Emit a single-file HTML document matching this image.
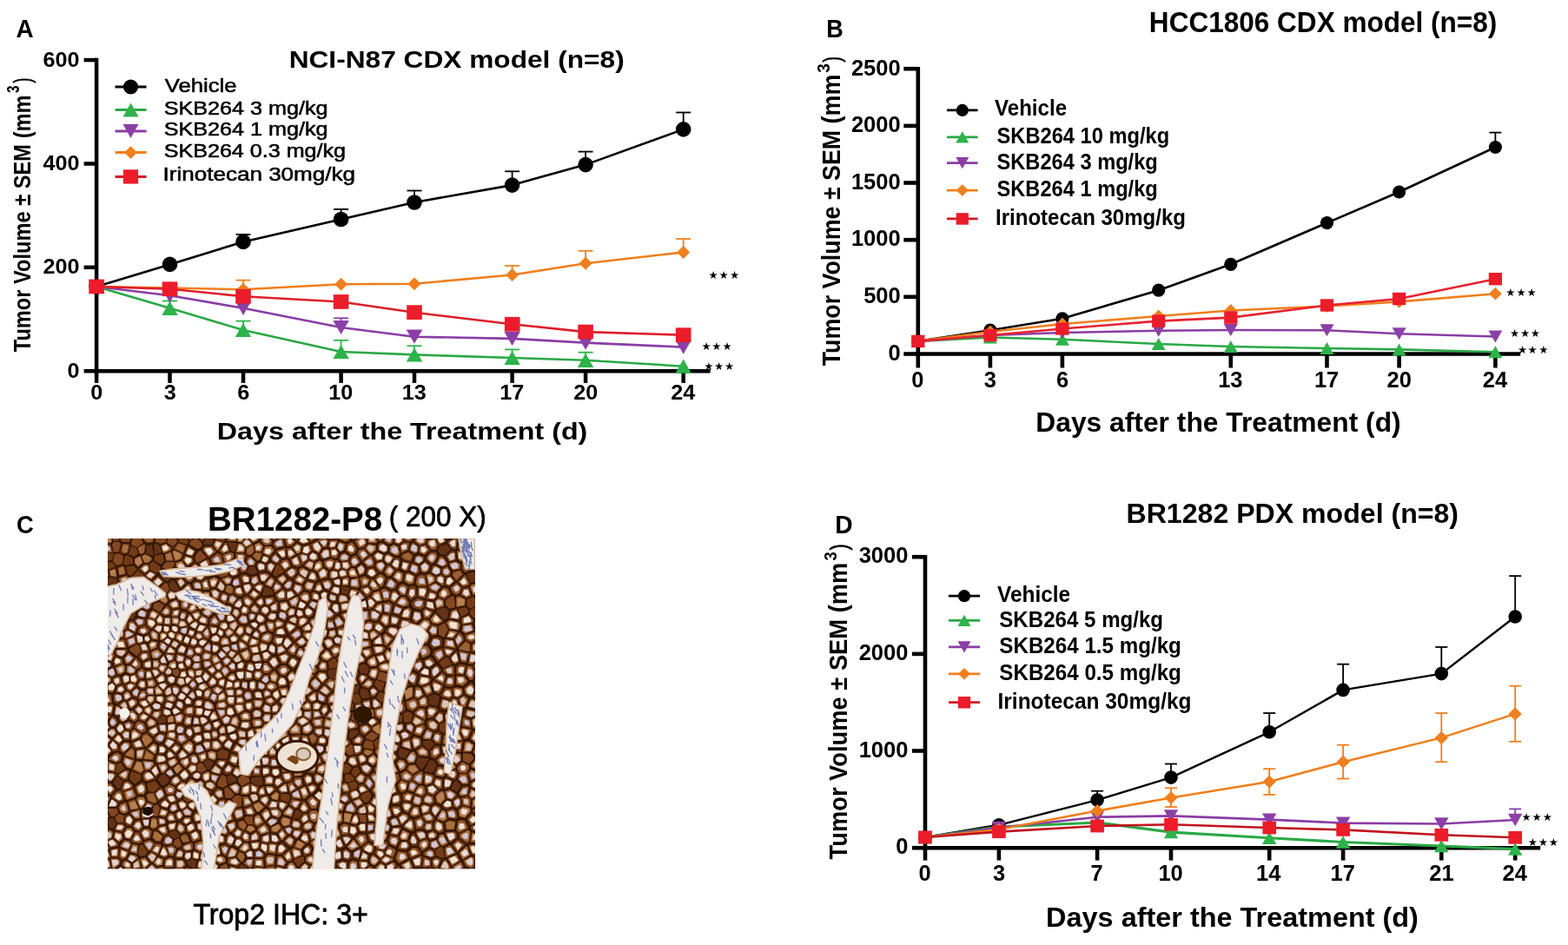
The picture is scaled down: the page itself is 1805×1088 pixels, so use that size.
<!DOCTYPE html>
<html><head><meta charset="utf-8"><title>Figure</title>
<style>html,body{margin:0;padding:0;background:#fff;width:1805px;height:1088px;overflow:hidden}svg{display:block}</style>
</head><body>
<svg width="1805" height="1088" viewBox="0 0 1805 1088">
<rect width="1805" height="1088" fill="#fff"/>
<defs><clipPath id="ihcclip"><rect x="124.0" y="620.0" width="423.0" height="380.5"/></clipPath><filter id="ihcblur" x="0" y="0" width="1" height="1"><feGaussianBlur stdDeviation="0.6"/></filter><radialGradient id="gdk"><stop offset="0" stop-color="#3a1806" stop-opacity=".75"/><stop offset="1" stop-color="#3a1806" stop-opacity="0"/></radialGradient><radialGradient id="glt"><stop offset="0" stop-color="#c89a70" stop-opacity=".7"/><stop offset="1" stop-color="#c89a70" stop-opacity="0"/></radialGradient></defs>
<g clip-path="url(#ihcclip)"><g filter="url(#ihcblur)">
<rect x="124.0" y="620.0" width="423.0" height="380.5" fill="#2e1204"/>
<circle cx="141" cy="636" r="32" fill="url(#gdk)"/>
<circle cx="514" cy="837" r="32" fill="url(#gdk)"/>
<circle cx="407" cy="955" r="25" fill="url(#gdk)"/>
<circle cx="281" cy="955" r="29" fill="url(#gdk)"/>
<path d="M172 811l-6 4l-6 -5l0 -3l8 -2zM376 618l1 -7l11 0l0 1l0 8l-9 1zM174 981l7 4l-5 8l-2 0l-5 -7l3 -4zM280 811l1 7l-7 4l-1 0l-4 -9l2 -2zM415 809l-6 2l-1 7l7 3l3 -1l1 -3zM488 833l-10 3l-4 -5l3 -7l12 6zM421 688l0 0l-7 -8l-6 11l4 2zM513 697l5 4l6 -2l-1 -12l-3 -1l-7 5zM259 796l0 -2l9 -1l2 1l0 7l-8 0zM269 612l0 0l-7 -7l-5 6l4 6zM137 622l1 -7l-4 -3l-6 4l3 7zM203 730l3 -1l5 3l-2 8l-1 0l-6 -5zM300 736l2 -5l6 -3l5 2l1 2l-2 6l-3 2l-8 -2zM470 988l-10 6l-1 0l-3 -4l-1 -2l3 -8l10 1zM170 791l-1 -8l8 -1l0 0l3 5l-1 2l-2 2zM215 755l-1 -1l3 -9l1 0l4 1l2 7l-4 4zM400 664l-6 2l0 8l7 0l1 -8zM426 638l-6 -7l4 -5l9 2l0 5l-5 5zM470 881l-2 5l7 6l8 -5l-5 -7zM123 931l1 0l11 0l1 5l-5 4l-3 0zM378 851l0 4l6 3l5 -2l1 -5l-7 -4zM218 853l1 0l4 4l-1 9l-4 2l-7 -7l-1 -3zM291 828l9 0l3 4l-2 4l-8 1l-2 -1l-1 -6zM155 732l-10 5l3 8l9 -4zM358 624l6 -4l0 0l-1 -6l-8 -4l-3 5zM175 939l-2 -4l5 -8l3 -1l3 4l-2 9l-2 1zM525 914l-7 -5l-6 2l2 8l6 2l6 -5zM243 864l6 2l0 7l-2 3l-7 -3l-1 -7zM270 915l-8 -9l-4 2l1 10l2 1l5 0zM358 626l2 7l7 4l4 -6l-6 -9l-6 4zM355 937l2 7l5 3l3 -2l3 -8l-4 -4l-6 0zM160 959l-4 -1l-5 9l2 3l7 1l3 -1l1 -3zM397 790l-7 9l-6 -3l0 0l4 -11zM309 953l1 5l-10 3l-4 -5l1 -3l8 -5l0 0zM557 622l-2 7l-9 -1l2 -11l5 -1zM166 781l1 -9l-4 -3l-4 3l-2 4l3 6zM229 959l-3 -3l-8 4l3 8l2 1l8 -3zM289 912l-1 -10l0 0l10 4l-3 7zM541 635l3 -4l1 -1l9 1l1 0l0 10l-3 3l-6 0l-4 -3zM288 913l-1 -11l-9 4l-1 8l2 1l6 0zM129 786l4 4l-2 6l-2 2l-6 -2l0 -6zM176 848l-6 -5l1 -3l10 -5l2 8zM311 647l6 3l-5 10l-5 -3l0 -7zM316 997l0 0l1 8l-5 3l-6 -5l0 -4l0 -1zM525 982l-6 -9l-2 0l-5 3l1 11l1 0zM330 816l-1 -1l-5 -1l-4 7l6 6l2 -1zM218 622l-4 -8l2 -2l10 0l-1 6zM301 752l0 0l7 -2l5 5l-6 6l-3 0l-1 -1zM404 667l9 -2l1 10l-1 2l-9 -1l-1 -2zM84 857l-74 -12l105 -3l4 3l-2 7zM298 923l7 6l-7 6l-2 0l-5 -8l1 -2zM276 749l-2 -9l2 -3l8 5l1 3l0 1zM361 976l6 0l2 -8l-3 -3l-8 3l-1 3zM419 630l-6 1l-5 -8l6 -4l7 1l1 5zM240 952l7 -4l-1 -7l-1 -1l-8 1l-1 4l3 6zM125 699l-2 4l-5 1l-3 -5l2 -8l8 3zM528 726l-11 -2l-4 -8l1 0l3 -2l11 2l2 3l-2 7zM238 886l-5 -7l-3 -1l-3 3l0 6l5 3zM505 731l6 3l0 0l5 -9l-4 -8l-7 4zM287 901l0 -5l-7 -4l-6 4l0 4l4 5l8 -4zM474 863l-2 -12l-8 2l-2 4l0 2l10 4zM190 671l-6 6l-1 3l3 3l5 0l4 -4l-2 -7zM448 892l0 7l3 3l5 0l4 -5l-1 -6zM372 879l5 2l0 1l-6 9l-6 -2l1 -7zM294 936l-3 3l-8 -1l-2 -7l9 -3zM156 790l-6 6l-4 -2l-2 -5l6 -3l6 2zM508 662l4 3l-1 9l-2 0l-7 -5l0 -5zM176 955l-3 -2l1 -10l1 -2l5 1l2 9l-3 3zM357 996l-2 8l2 3l1 0l8 -6l-5 -5zM197 822l-1 -4l-8 -3l-1 3l0 4l5 3zM249 815l10 1l3 -4l-3 -5l-8 1l-2 3zM320 793l3 9l-4 5l-6 -6l1 -4zM541 929l1 -8l-4 -4l-7 2l2 8zM402 702l1 -9l0 0l-11 2l1 9zM554 982l-3 -10l5 -5l22 4l-23 11zM184 705l5 -8l-6 -4l-6 2l-1 5zM441 934l8 -4l2 9l-3 3l-7 -4zM264 742l1 -1l-3 -6l-3 -2l-4 2l-2 6l2 2zM132 715l2 2l1 6l-4 5l-6 -1l-3 -6zM174 824l3 -5l8 -1l1 4l-5 7zM173 979l5 -8l-5 -4l-7 2l-1 2l6 9zM310 959l0 0l1 10l-3 2l-7 -2l-1 -1l1 -5zM488 902l2 2l7 -2l3 -7l-2 -3l-9 -2zM416 736l-1 -10l1 -1l8 3l1 8zM160 743l-3 -1l-8 5l0 0l0 2l8 6l1 0l4 -5zM527 670l8 -8l1 0l5 10l-2 2l-6 2zM136 971l0 3l-9 2l-4 -8l7 -2zM440 1015l4 -9l0 0l6 1l2 4l-8 22zM520 1004l8 3l2 4l-14 29l-2 -13l5 -22zM195 932l2 -6l6 -1l2 7l-5 3l-4 -1zM364 794l-2 0l-5 -6l1 -3l5 -5l7 8l-5 6zM425 674l5 6l6 -2l1 -1l-7 -10l-3 0zM304 857l5 3l5 -2l3 -6l-3 -4l-2 -1l-4 1zM535 659l1 0l7 -3l2 -10l-5 -3l-8 6l0 6zM150 682l-2 8l-7 0l-1 -1l-1 -7l4 -4zM214 801l-6 -4l-4 5l1 3l6 1l3 -4zM127 627l-8 0l0 1l3 8l8 0zM417 646l-6 -8l2 -5l6 -1l6 7zM193 834l0 0l0 8l8 -1l2 -7l-2 -1zM371 1003l2 4l-8 8l-6 -7l8 -6zM175 850l-6 -6l-5 2l-1 4l4 10l1 0l8 -7zM375 952l7 -9l7 7l0 2l-9 5l-4 -3zM319 771l5 -5l5 0l5 5l-6 7l-5 -1zM500 1008l1 -5l-4 -4l-9 2l1 10l0 0zM158 630l7 -5l-3 -6l-4 -2l-5 3l-2 5l1 3zM320 868l-6 -8l-4 1l-1 8l3 2l6 -1zM238 952l-8 5l-3 -2l-1 -7l8 -2zM118 719l3 0l10 -5l0 -1l-7 -8l-6 1l0 1l0 12zM467 808l0 0l2 8l6 3l7 -6l-2 -7l-4 -2zM456 979l-1 -1l-7 -4l-5 6l1 4l9 3zM204 781l-1 6l5 3l5 -2l-1 -6l-6 -2zM213 756l-1 -1l-8 -2l-1 1l-1 6l3 3l6 -1zM248 926l-3 1l-5 -2l-2 -2l0 -3l7 -5l6 6zM442 705l-1 -11l1 0l6 -1l4 3l-2 10l-1 1zM391 824l-4 6l0 5l5 2l5 -1l2 -6l-8 -6zM172 725l-1 3l-6 3l-7 -3l2 -5l7 -3zM317 787l2 4l0 1l-6 3l-6 -3l0 -4l4 -3zM205 846l-2 6l1 2l5 3l8 -5l-5 -7zM275 736l-3 3l-6 1l-2 -6l6 -4l5 4zM238 642l-7 -8l-3 1l-4 7l1 4l3 2zM244 648l11 2l2 -2l-2 -9l-4 -2l-1 0l-8 6zM379 656l3 -2l3 -9l-4 -2l-8 3l1 6zM347 893l4 -4l-1 -3l-9 -5l-3 2l-1 5l2 6zM264 995l-2 -2l1 -4l8 -2l6 7l-4 3zM345 1003l-2 22l12 -17l-2 -3zM434 782l10 3l4 -2l0 -7l-11 -3zM122 873l-7 -8l-22 -2l21 14l8 -3zM247 708l6 8l-2 4l-10 -1l1 -6zM542 881l5 -7l4 0l4 4l-2 9l-10 -3zM442 659l4 5l4 -1l5 -6l-6 -6l-3 0zM418 822l-2 1l-3 9l1 2l7 -2l2 -5zM212 886l2 0l4 6l0 2l-5 5l-3 -1l-4 -6zM509 932l-6 10l0 1l8 3l4 -3l-2 -9zM122 798l6 2l1 9l-8 2l-4 -4l0 -7zM304 997l0 1l-11 -1l0 -8l10 0zM122 777l-1 -4l-5 -3l-7 7l7 5l0 1zM529 686l7 4l-1 7l-8 2l-2 0l0 -12zM437 892l8 -3l-1 -3l-8 -6l-5 4l0 4zM324 881l-1 2l2 6l10 -2l1 -5l-5 -3zM321 942l3 -4l0 -3l-5 -4l-8 1l2 7zM433 646l-4 -6l5 -5l8 4l-2 6zM249 816l10 1l1 6l-6 4l-1 0l-4 -10zM460 765l4 -10l-5 -4l-4 1l-3 11l2 4l3 0zM427 746l-11 2l-1 2l7 8l7 -5zM391 953l3 8l7 -1l1 -10l-6 -2l-4 3zM278 964l3 4l5 1l1 -1l0 -7l-5 -4l-1 1zM531 715l1 -4l8 -3l5 6l-1 3l-12 2zM190 990l-1 6l2 3l9 -1l0 -8l-1 -2l-4 -1zM331 900l-3 0l-4 -7l1 -3l10 -1l2 5l-2 5zM426 924l4 -7l6 1l2 4l-3 7l-2 0zM397 934l2 -7l5 -4l6 8l-1 4l-3 1zM395 933l2 -7l-8 -5l-3 4l3 8l5 1zM141 624l8 0l2 -5l-7 -5l-5 1l0 7zM390 612l11 -1l2 11l-5 2l-7 -3l-1 -1zM471 734l-7 -7l11 -8l3 2l2 5l0 2zM431 715l4 -1l3 -7l-9 -5l-3 1l0 10zM216 670l-6 -7l0 -2l6 -5l7 6l0 5l-3 3zM502 875l3 5l6 1l6 -6l-1 -3l-7 -3zM548 725l-2 -7l1 -4l3 -1l7 3l0 6l-7 4zM358 728l-9 0l0 4l6 6l5 -5zM290 753l9 -2l0 0l-2 -8l-10 2l0 2zM329 642l-4 1l-7 -8l0 -1l10 -3l1 0zM479 864l7 -5l7 6l0 6l-11 -1zM220 770l-4 1l0 0l1 7l5 3l1 0l1 -2l0 -7zM203 619l1 5l-5 6l-7 -6l2 -5zM540 562l13 50l-1 2l-5 1l-4 -3l-5 -19zM358 931l-5 -10l5 -4l2 0l7 6l-3 8zM315 622l-6 -9l4 -2l10 3l1 3zM278 869l5 2l10 -4l0 -3l-8 -4l-4 2zM276 979l-1 -1l6 -8l5 1l2 6l-7 4zM311 640l4 -5l1 -2l-4 -4l-7 0l-3 7l1 1zM380 748l4 8l2 0l8 -7l0 0l-3 -5l-6 -1zM203 846l-1 6l-10 -3l0 -4l1 -2l8 -1zM440 659l4 -8l-4 -5l-7 2l-1 4l4 6zM401 719l7 6l-6 7l-2 0l-3 -10l2 -3zM159 830l-3 3l-1 5l8 6l5 -2l0 -3l-2 -6zM543 929l1 1l11 -3l0 -8l-2 -2l-9 4zM476 893l8 -5l2 0l1 2l-1 12l-4 1l-7 -5zM189 962l-8 -7l2 -3l8 -1l2 6l0 2zM328 865l0 -5l7 -4l4 3l-3 7l-4 1zM426 983l-8 -4l-1 -4l7 -5l6 3l1 4l-2 5zM504 628l-2 5l-6 0l-5 -7l1 -4l9 -2zM426 997l-7 5l1 4l6 3l3 -1l2 -6l-1 -3zM421 852l-3 6l1 3l11 2l0 -1l-1 -8zM484 929l2 8l8 -3l1 -6l-8 -2zM334 844l-2 -3l9 -8l5 4l0 7l0 1l-11 0zM407 870l-5 2l-2 6l6 4l6 -1l0 -1l-2 -9zM517 1004l-5 23l-9 -18l1 -6l1 -1zM334 644l3 7l6 2l4 -2l0 -1l-4 -10l-1 0zM216 720l0 0l-3 -5l-5 -1l-3 6l2 2zM407 868l-1 -10l-2 -1l-8 5l1 3l5 5zM354 694l3 -4l-1 -7l-6 -2l-6 5l2 4zM190 753l0 0l11 1l-1 6l-6 2zM427 770l7 -1l2 4l-3 8l-2 1l-6 -3l-1 -3zM249 948l3 2l6 -2l1 -1l-3 -9l-8 3zM445 744l8 -9l-9 -6l-3 2l1 11zM429 745l1 -1l11 0l3 2l0 0l-3 5l-9 2l-1 0zM261 783l-2 9l0 1l9 -1l0 -6zM305 1004l-5 6l11 21l0 -22zM348 674l1 5l-6 6l-1 -1l-5 -6l2 -6zM547 774l-3 9l0 0l-3 0l-5 -6l2 -11l5 1zM347 836l-5 -4l0 -3l7 -4l7 5l0 1zM228 792l6 3l6 -4l-3 -4l-2 -1l-6 3zM176 875l-11 -1l3 -11l10 7zM146 746l0 0l-2 -9l-2 -1l-7 1l-3 4l1 5zM217 686l3 -1l7 6l-2 4l-6 0l-3 -5zM163 877l-6 -1l-5 10l10 5l4 -4zM418 716l-6 -7l5 -6l6 0l1 0l1 10zM525 984l-10 4l5 9l10 -6l-4 -7zM155 918l-8 3l-2 0l-3 -9l11 -4l4 8zM121 929l1 0l1 0l4 -11l0 -1l-3 -1l-6 3l-1 6zM122 812l-3 7l1 1l7 3l2 -1l2 -10l-2 -2zM327 617l-1 -1l-1 -3l4 -13l8 11l-3 4zM256 892l4 2l2 10l-1 0l-4 3l-6 -2l-1 -3l4 -8zM314 823l5 -1l6 6l-1 4l-10 1l-1 -1zM300 623l1 -5l5 -4l2 0l5 9l-1 4l-7 1zM344 639l4 11l7 -6l-1 -5l-7 -2zM181 924l-4 1l-7 -3l-2 -6l3 -3l6 0l4 10zM352 666l4 -8l-8 -5l-4 2l0 5zM519 816l-1 2l5 7l8 0l1 -1l1 -7l-4 -3zM478 914l-1 -1l5 -8l4 -1l3 2l1 7l-4 4zM330 993l-3 5l-9 -2l0 0l1 -10l5 0zM265 773l-4 -5l-3 -1l-4 5l4 7l2 0zM402 914l2 -3l6 -2l4 6l-1 3l-8 2zM222 977l-2 2l-7 1l-4 -4l2 -3l9 -3l2 1zM374 998l11 -4l0 -1l-4 -6l-9 2zM551 754l0 6l-8 5l-4 -1l0 0l2 -12l1 0zM224 782l1 -2l7 -1l2 6l-6 2zM236 970l0 1l-3 9l-3 1l-6 -4l0 -6l7 -3zM404 702l1 -8l2 -1l5 2l4 7l-6 6l-2 0zM208 660l0 2l-7 4l-3 0l-2 -8l5 -5zM271 774l2 -1l8 -1l0 9l-3 2l-4 -2zM491 726l-8 -1l-2 -5l7 -7l6 1l2 5zM155 920l5 11l-10 2l-3 -10zM124 876l0 11l8 2l1 -9zM362 710l2 -4l8 1l3 6l-8 2zM236 923l-9 2l-4 -4l1 -3l6 -3l6 5zM278 917l0 11l-7 2l-4 -10l4 -4l5 0zM269 637l-4 -1l-9 3l3 9l3 1l7 -7zM341 699l-6 -1l-3 -6l10 -5l1 0l1 4zM319 872l-7 1l-2 8l3 2l8 -1l1 -2zM429 724l1 -7l-5 -2l-6 3l-2 6l8 3zM539 903l1 -3l-3 -9l-8 0l-2 6l5 6zM342 968l-4 7l8 3l6 -6l-8 -5zM185 775l-4 -5l-5 0l-2 1l4 9l0 0zM245 983l1 -9l3 -1l3 1l2 9l-6 2zM527 632l2 -12l4 1l8 9l-2 4zM270 965l-3 8l-2 1l-5 -3l1 -8l3 -3l2 1zM343 813l-5 3l-6 -2l-1 -1l3 -9l6 1zM387 783l-8 -2l-5 6l9 8l4 -11zM187 728l5 2l0 3l-5 4l-3 0l0 0l0 -7zM388 724l0 0l7 -2l4 11l-4 1l-6 -3zM282 1010l6 -8l1 0l5 7l-13 14zM536 997l7 3l3 -3l0 -10l-4 -1l-9 5zM172 941l-9 1l0 -9l1 -1l8 3l1 5zM317 983l-8 -1l0 -10l3 -1l7 1zM470 740l-9 3l-1 7l5 3l4 0l5 -8zM287 794l0 -9l5 -2l3 2l0 8l-4 3zM354 807l-7 7l3 3l8 0l0 0l0 -7zM271 611l0 0l10 -15l1 17l-9 1zM262 653l1 9l-9 3l-2 -2l4 -11l2 -2l3 1zM259 622l-1 1l-10 -2l-2 -5l5 -4l4 0l4 6zM304 947l-6 -9l-2 0l-3 2l-1 9l4 3zM348 733l-8 6l4 5l4 0l6 -4l0 -1zM202 789l-4 1l1 9l4 2l4 -5l0 -4zM347 636l2 -7l8 -2l2 7l-5 4zM118 1008l7 2l4 -3l0 -5l-1 -1l-12 -2l0 0zM374 827l11 3l0 5l-3 3l-9 -1l0 -1l1 -9zM161 849l2 -4l-9 -5l-3 2l0 10l1 1zM239 722l0 0l3 9l-2 5l-5 -2l-2 -6zM421 848l7 -6l8 5l-7 6l-8 -3zM436 901l-4 1l-6 -9l4 -4l7 4l0 7zM526 634l1 0l11 2l1 5l-8 6l-4 -3zM481 676l10 0l1 4l-3 9l-8 -2zM431 817l8 -3l3 3l0 5l-5 6l-5 -3zM166 665l-4 6l5 5l2 0l5 -6l0 -1zM408 868l-1 -10l9 0l1 3l-1 5l-6 3zM549 775l-3 9l19 -2l2 -1l-11 -7zM285 917l-6 0l1 11l1 1l8 -2l1 -2zM475 893l-8 -6l-5 3l-1 1l1 6l8 3l4 -2zM430 652l-7 1l-5 -6l0 0l8 -7l2 1l3 6zM412 610l-9 0l-1 0l3 11l2 1l6 -5zM200 914l2 -5l-1 -3l-6 -3l-6 4l3 8zM539 785l-6 5l-8 -2l0 -10l0 0l9 0zM291 807l1 -2l11 1l0 3l-3 6l-7 0zM320 694l0 8l-1 2l-7 0l-2 -6l8 -6zM545 656l2 -9l6 -1l5 10l-5 5zM401 831l-2 5l3 4l9 -2l1 -3l-1 -2l-7 -4zM262 1004l-5 3l-5 -4l2 -6l6 -3l2 2zM372 827l-1 9l-9 1l-3 -6l0 0l1 -3l11 -1zM373 1002l2 4l1 1l7 -1l3 -8l-1 -3l-11 4zM371 759l6 2l6 -4l-5 -8l-3 -1l-6 7zM228 869l3 8l2 0l5 -4l-1 -7l0 0zM527 882l5 -5l8 4l0 4l-3 5l-8 0l-3 -5zM319 743l5 -1l3 -8l-11 -2l-2 7zM471 625l-1 8l-8 4l-2 -9l6 -4zM191 803l7 -3l4 2l1 3l-3 4l-9 -3zM123 749l7 0l1 -3l-1 -5l-10 -3l-2 5zM192 614l2 3l9 1l2 -5l-2 -4l-9 1zM203 683l-7 -3l-4 4l3 7l7 -2zM431 903l-5 6l0 0l-7 -7l4 -8l1 0zM253 893l-5 9l-5 -4l0 -7zM254 760l-5 -6l-4 0l-2 5l3 6l0 0l8 -4zM293 868l1 2l-4 11l-5 -1l-1 -8zM443 858l2 1l6 -5l-2 -8l-9 1l-1 1zM316 723l-1 -7l-7 -1l-2 3l3 8l5 2zM333 787l10 -5l2 10l-11 0l-1 -2zM269 613l-7 6l-1 3l1 1l10 0l0 -8zM369 870l4 7l4 2l2 -2l1 -8l-6 -3zM347 920l-3 -11l-1 0l-8 5l1 5l11 1zM380 681l4 -6l7 1l0 7l-2 2l-9 -4zM501 671l7 4l-5 7l-8 -3l-2 -3l0 -1zM118 629l-13 8l13 3l2 -4zM235 901l0 5l-4 3l-5 -4l1 -5l4 -2zM335 754l4 0l4 -9l-4 -5l0 0l-8 8l0 2zM404 828l8 4l2 -10l-7 -2l-1 0zM551 840l5 9l36 -12l-35 -2zM431 1008l8 6l4 -9l-10 -2zM173 811l-4 -6l1 -4l7 0l1 1l0 5l-5 4zM444 721l-7 -6l3 -7l1 -1l7 1l0 11zM301 771l3 -8l3 0l7 8l-5 4l-5 0zM133 909l-5 6l-3 -1l-5 -9l5 -3l3 0zM415 647l0 0l-5 -8l-5 2l-2 5l2 6l4 0zM244 853l0 9l5 2l6 -3l0 -4l-5 -5l-5 1zM201 824l9 -3l2 3l-3 8l-5 1l-2 -2zM175 957l-4 -3l-5 0l-5 4l5 9l7 -2zM291 627l0 0l-7 4l-1 5l2 3l4 0l4 -4zM423 689l0 0l3 -2l7 7l-4 6l-4 1l-1 0zM266 759l-5 -3l-5 4l0 1l2 5l4 0l4 -5zM213 901l3 7l-1 2l-2 2l-9 -3l-1 -3l6 -6zM175 723l-2 1l-4 -5l0 -6l1 -1l8 2l2 4zM196 634l2 -2l0 -1l-7 -5l-6 2l2 8l2 1zM317 986l-1 10l-10 1l-1 -8l2 -4l2 -1l8 1zM143 727l-1 7l-7 1l-2 -6l3 -5zM489 816l-6 -1l-6 5l1 3l11 6l1 -2zM352 987l6 -3l5 5l-2 5l-4 1l-5 -3zM153 818l-3 0l-2 2l1 8l6 3l3 -2l1 -5zM139 626l-2 9l-5 1l-1 0l-2 -9l2 -3l6 0zM512 690l7 -6l-3 -6l-5 -2l-1 1l-5 6l0 4zM384 655l5 2l4 -3l-1 -6l-4 -3l-2 0zM150 936l0 -1l10 -3l1 1l0 9l0 0l-5 1zM215 654l-6 5l-7 -7l0 -4l7 -2l6 7zM480 745l-5 -1l-3 -5l0 -3l9 -7l5 12zM445 969l2 4l-5 6l-9 -2l0 -5l3 -2zM330 644l-5 1l-3 5l6 7l7 -5l-3 -7zM347 615l-5 -5l9 -17l2 16l-3 5zM344 712l6 -2l5 3l-1 3l-8 6l-2 -1l-1 -1zM151 693l10 0l0 7l-4 3l-5 -3zM491 906l7 -3l7 7l-6 6l-7 -3zM540 752l-3 11l-6 -1l-3 -13zM186 974l-4 10l0 0l-8 -4l5 -9l6 1zM293 781l-1 -6l2 -3l6 0l3 4l-4 6l-3 1zM156 787l-6 -3l0 -6l6 -2l3 7zM511 974l5 -3l-6 -11l-4 1l-2 5l4 8zM319 930l1 -7l-8 -1l-4 7l3 2zM281 729l0 -8l-5 -1l-5 7l0 2l5 4zM176 995l4 4l-2 8l-1 0l-9 -2l-1 -3l7 -7zM460 686l-5 -6l-4 1l-2 10l4 3l1 0zM241 642l8 -7l-5 -6l-9 0l-2 4l6 8zM306 983l-7 -6l2 -7l7 2l0 10zM146 953l-4 6l2 6l6 1l4 -8l-3 -5zM374 826l11 3l4 -6l-9 -4zM330 902l-2 0l-8 6l0 1l3 4l8 -1zM235 751l7 1l2 2l-2 5l-9 1l-1 -5zM230 717l-2 -3l4 -6l8 4l-1 7l0 0l-1 0zM230 719l-4 6l1 2l5 1l6 -7zM204 752l0 -4l4 -6l1 0l6 3l-3 8zM157 985l-7 -2l-4 6l6 4l7 -5l1 0zM117 721l-5 8l7 6l5 -7l-4 -6zM232 656l-3 -7l9 -5l2 0l2 5l-1 2l-7 5zM183 616l-4 4l0 4l6 2l6 -2l1 -6l-2 -3zM132 638l-2 8l4 5l7 -2l1 -9l-5 -3zM423 583l-4 21l6 10l6 -1l1 -2zM372 630l4 0l2 -8l-3 -3l-9 2l0 1zM194 733l-1 -4l3 -2l6 3l-1 5l-3 1zM461 767l12 1l1 4l-8 7l-7 -11zM412 999l-6 5l-5 -1l1 -10l4 -3l5 2zM440 939l7 5l-1 2l-6 3l-6 -3l1 -3zM534 737l-7 8l-4 -9l6 -8l0 0l4 4zM227 632l3 -1l3 -3l-1 -3l-6 -6l-7 4l-1 4zM428 737l9 -7l-7 -5l-5 3l1 8zM239 996l-7 6l-5 -3l1 -7l2 -2l6 2zM366 960l0 4l-8 3l-3 -8l5 -3zM282 772l0 10l4 1l5 -2l0 -6l-9 -3zM186 726l1 -6l0 0l-6 -1l-5 5l7 5zM183 707l-5 6l-7 -2l1 -6l4 -3l7 4zM226 870l3 7l-3 3l-6 -1l-2 -8l1 -1l4 -2zM545 802l5 3l7 -3l-2 -7l-6 -1zM300 783l6 4l4 -3l-1 -7l-5 0zM420 663l6 4l-3 7l-7 1l-2 -10l0 0zM199 972l5 4l4 -1l1 -3l-3 -7l-5 2zM246 778l4 -5l3 0l4 6l-6 3zM350 819l-1 5l8 5l2 -2l0 -9zM201 648l-1 -1l-9 0l-4 5l0 2l8 2l5 -4zM371 825l-11 2l0 -9l0 0l7 0zM542 952l12 -6l4 4l-6 8l-8 -2l-2 -2zM125 858l5 7l6 -1l0 -6l-6 -6zM202 646l-1 0l-3 -11l2 -2l10 5l1 1l-3 5zM471 624l4 -2l2 -7l-1 -3l-10 -1l-3 5l3 6zM480 747l3 11l-7 3l-6 -7l5 -8zM367 610l-2 3l1 7l9 -2l1 -7l0 0zM161 851l-9 4l1 4l3 3l10 -2zM343 930l4 -8l-11 -2l-3 5l1 2l5 4zM232 729l2 5l-6 3l-4 -4l3 -5zM425 996l-7 5l-4 -2l-1 -7l1 -1l9 1zM239 786l5 -7l1 0l5 4l-1 5l-5 3l-3 -1zM400 871l-5 -4l-5 3l0 6l4 3l4 -2zM340 803l-6 -1l0 -1l0 -8l11 1l0 0l1 4zM377 809l1 -7l5 -4l6 2l0 1l-2 8l-9 1zM542 868l4 5l-6 6l-7 -3l0 -8l0 -1zM239 888l1 0l2 2l-1 8l-5 2l-3 -3l0 -6zM182 922l-4 -9l7 -6l2 1l3 7l-1 3zM299 922l7 6l1 0l3 -7l-1 -4l-2 -1l-7 2zM446 745l8 5l4 -1l2 -7l-5 -6l-1 0l-8 9zM146 724l1 -7l-11 0l0 6l7 3zM509 655l6 -3l4 6l-1 4l-5 2l-4 -4zM178 879l-6 7l-5 1l-3 -11l1 0l11 1zM272 964l5 0l3 -7l-7 -4l-5 6zM254 828l3 5l3 1l4 -1l2 -7l-6 -2zM493 975l1 -6l-3 -3l-8 3l-1 5l4 6zM519 844l3 9l11 -1l-6 -11l-6 0zM376 967l4 -6l7 5l-3 5l-5 1zM353 806l-7 7l-2 -1l-3 -8l6 -4l5 3zM289 914l6 0l3 4l-1 3l-6 3l-4 -8zM386 725l-7 1l-1 7l5 2l4 -4zM289 734l9 3l1 1l-2 4l-10 2l-1 -3zM239 953l3 6l-6 8l-4 -1l-1 -8l8 -5zM245 777l4 -5l-4 -6l0 0l-7 5l6 6zM329 750l0 -2l-4 -5l-6 1l0 9l0 1zM215 991l5 -3l0 -7l-7 0l-1 7zM349 920l-4 -11l5 -4l2 1l4 9l-5 5zM271 636l3 -10l4 0l4 5l-1 5zM143 939l-6 -2l-5 4l3 6l7 0zM291 949l0 -9l-8 0l-2 3l4 6zM128 785l-6 4l-5 -6l6 -5l5 3zM203 779l-4 -3l0 -5l5 -1l3 3l-2 5zM260 732l3 1l6 -4l0 -2l-6 -4l-4 4zM226 887l-6 4l-5 -6l5 -5l6 1zM198 973l5 4l-4 9l-4 -1l-3 -10zM275 839l8 3l0 7l-8 1l-2 -8l2 -3zM400 663l-1 -6l-5 -2l-4 3l1 6l2 1zM240 679l-6 0l0 0l-2 -9l5 -3l2 0l3 11zM272 763l-4 -3l0 -1l6 -6l1 -1l4 8zM422 926l2 10l5 0l3 -6l-7 -5zM428 816l2 1l1 8l-7 1l-5 -5l2 -3zM119 821l-4 7l3 4l5 -1l4 -7zM282 807l-3 -5l-7 0l0 8l8 0zM503 731l1 -10l-7 -2l-4 7l4 6zM182 880l4 10l3 0l5 -7l-3 -4zM273 615l9 0l1 1l0 2l-5 6l-4 0l-1 -1zM474 899l-3 2l-1 9l6 2l5 -8zM348 779l8 5l5 -5l1 -2l-8 -4zM277 870l5 3l2 7l-6 4l-4 -3l2 -10zM277 702l3 -5l6 3l1 4l-3 3l-6 0zM345 944l3 4l8 -4l-2 -7l-5 0zM421 947l-6 -1l-2 -8l8 0l1 8zM256 1008l-5 -4l-5 1l-1 2l4 8l7 -6zM244 984l3 3l0 5l-7 3l0 0l-2 -4l2 -6zM147 725l8 4l-1 2l-9 5l-2 -1l1 -8zM325 934l6 -7l0 -2l-9 -3l-1 1l0 7zM367 870l-9 4l0 2l7 5l6 -3l-3 -8zM218 909l-1 2l6 5l7 -3l0 -3l-5 -4zM451 880l-5 6l1 3l1 1l11 -1l0 0l-5 -10zM375 968l-5 0l-2 8l1 2l7 -1l2 -5zM500 619l-8 1l-2 -4l5 -9l7 9zM331 902l2 10l1 1l8 -5l-6 -8zM296 848l9 -2l1 1l-3 10l-4 1l-4 -9zM179 800l-1 -8l3 -2l6 6l0 3l-8 1zM394 654l-1 -7l8 -1l3 6l-4 4zM153 1000l0 -6l7 -5l2 10l-9 1z" fill="#834620"/>
<path d="M145 661l-1 -8l-3 -2l-6 2l0 0l2 10zM417 717l-7 -7l-2 0l-6 7l7 7l5 0l1 -1zM169 923l8 3l-5 8l-7 -3zM554 682l9 7l-10 8l-1 -1l-5 -9zM270 854l1 0l3 -4l-2 -7l-9 3l0 4zM220 939l2 -4l-7 -5l-5 3l3 6zM326 721l-8 2l-2 -7l4 -3l7 4zM304 671l7 -9l0 0l-5 -3l-8 1l0 1l2 8zM125 692l-8 -3l-1 -1l3 -5l7 -1l2 7zM525 886l-10 2l-1 6l8 4l3 -1l2 -6zM487 851l-1 -2l5 -10l8 4l-3 8zM155 672l-2 8l-2 1l-7 -4l0 -3l7 -6zM442 692l-4 -12l1 -1l3 -2l8 4l-2 10zM473 691l7 -4l-1 -11l-2 -2l-6 1l-3 11zM156 615l-4 3l-7 -5l9 -25zM334 951l-7 2l-1 1l5 7l4 0l2 -6zM448 627l-7 -4l4 -8l5 0l3 2l-1 8zM133 768l3 8l3 1l5 -3l0 -8l-2 -1zM452 833l-1 -7l-8 -2l-5 5l0 2l1 1l12 3zM177 855l-8 6l0 1l9 7l2 -2l1 -9zM468 979l4 -5l-3 -6l-8 1l-3 8l0 1zM140 959l-8 -2l-1 8l6 5l5 -4zM381 700l6 7l3 -1l1 -2l-1 -8l-2 -2l-5 1zM366 869l-9 4l0 0l-2 -11l4 -3l2 0zM274 662l2 -2l-2 -5l-10 -3l0 10l4 2zM254 762l-8 4l4 6l3 0l4 -6zM547 985l6 -3l-4 -10l-8 0l-2 1l4 11zM433 931l3 0l4 3l0 4l-6 4l-4 -6zM449 719l9 1l3 -8l-2 -2l-8 -2l-1 1zM173 770l2 -1l-1 -9l-1 -1l-9 4l0 5l4 2zM331 716l-2 1l-1 4l4 9l10 -8l-1 -2zM275 914l1 -8l-4 -4l-8 3l0 0l7 9zM237 939l-2 -3l4 -9l5 2l0 9zM472 865l-11 -4l-3 6l2 5l6 1zM279 672l8 -1l1 -7l-5 -3l-5 0l-2 3zM504 882l-4 9l1 2l9 2l2 -2l1 -5l-3 -5zM457 791l7 4l8 -6l-6 -7l-10 5zM333 975l-7 -6l5 -6l4 -1l5 5l-3 7l-3 2zM342 660l0 -5l-6 -2l-7 5l-1 2l5 5l4 1zM175 587l8 27l7 -1l2 -4l-19 -52zM143 789l-3 -1l-5 2l-2 7l8 1l3 -3zM360 723l-5 -6l-8 6l2 4l9 0zM272 965l-3 9l5 3l6 -8l-3 -4zM525 767l0 9l9 1l3 -11l0 0l-7 -2zM445 760l5 2l3 -10l-8 -5l-3 5zM519 970l7 -5l0 -5l-3 -3l-10 1l-1 1l5 11zM421 759l-1 3l-9 3l-3 -4l3 -9l3 -1zM426 805l1 10l-7 2l-3 -8l1 -2l8 -2zM179 807l8 4l3 -5l-1 -3l-2 -3l-8 2zM338 739l-7 -6l-3 1l-2 8l4 5zM177 849l7 -5l6 1l1 4l-4 6l-4 1l-5 -3zM289 662l7 -2l0 -1l-3 -7l-6 1l-3 6zM120 760l8 3l1 4l-7 4l-5 -3l0 -2zM373 825l5 -7l-1 -6l-1 -1l-4 1l-3 6l3 7l1 0zM283 771l8 3l2 -3l-2 -7l-3 -2l-4 1zM278 675l3 9l-3 3l-3 0l-6 -4l1 -6zM304 820l8 1l0 -8l-7 -3l-4 6zM461 637l-2 3l-4 0l-7 -4l1 -7l4 -2l5 2zM425 769l-5 -5l-8 3l0 1l3 7l8 1zM233 624l6 -10l-2 -2l-9 0l0 1l-1 5zM245 851l4 -1l3 -4l-3 -5l-3 -1l-3 3zM514 921l-6 6l2 3l4 2l7 -3l-1 -7zM375 809l1 -7l-10 -6l-1 1l1 9l6 3zM427 995l-2 -4l2 -6l3 -2l7 7l0 2l-6 5zM489 767l6 2l7 -6l-6 -7l-9 4zM279 993l3 -5l-1 -5l-6 -3l-3 6l6 7zM337 942l7 1l4 -6l-5 -5l-3 1l-3 8zM384 866l6 2l5 -3l0 -3l-5 -5l-5 3zM379 811l8 -1l5 6l0 0l-2 5l-1 1l-9 -5zM501 856l-3 -5l2 -7l5 -2l4 4l-2 10l-1 1zM554 678l7 -7l-7 -7l-6 7zM366 903l-4 -3l-1 -8l3 -2l7 3l2 3l-1 3zM332 977l-7 -7l-1 0l-4 3l-2 10l1 1l5 0zM173 587l-2 25l7 7l4 -5zM256 835l-5 5l2 5l7 0l-1 -9zM495 871l0 -6l6 -7l5 1l1 9l-6 6l-5 -2zM432 999l1 2l10 3l0 0l0 -8l-5 -3zM201 986l4 -8l3 -1l4 4l-2 7l-8 0zM221 795l-5 6l0 0l7 5l3 -3l-3 -8zM366 931l3 -7l5 -2l4 3l-2 10l-7 0zM398 977l6 4l1 7l-4 3l-6 -2l-1 -10zM417 1003l-4 -3l-6 5l3 5l4 1l4 -5zM385 1006l3 -8l10 6l-2 3l-7 4zM384 713l4 10l7 -2l2 -3l-7 -9l-3 0zM239 984l-5 -3l-3 1l-1 7l7 2zM209 679l7 -7l3 0l3 7l-3 4l-2 2zM372 644l-2 -1l-2 -5l5 -6l4 0l2 1l1 9zM134 713l6 -8l4 1l4 8l-1 2l-11 0l-2 -2zM253 747l-4 5l-4 1l-1 -2l0 -10l8 1l1 2zM208 678l7 -7l-6 -7l-7 4l6 10zM232 891l-1 5l-5 2l-6 -4l0 -2l7 -4zM358 754l-5 -1l-4 -7l6 -5l5 4l1 7zM266 892l6 4l0 4l-9 3l-2 -9zM509 743l0 -7l-5 -3l-6 1l-4 8l4 5l10 -3zM270 773l2 -2l-1 -7l-4 -2l-5 5l4 6zM451 928l9 0l3 7l-6 5l-4 -1l-3 -9zM512 714l-10 -10l1 -2l9 -3l5 4l-2 9zM434 612l-2 2l4 9l4 0l4 -8l-4 -4zM393 839l0 10l7 0l1 -8l-3 -4zM141 626l8 0l1 3l-3 8l-4 1l-5 -2zM371 846l-5 2l-5 -5l1 -5l9 -1l1 1zM351 986l6 -3l2 -6l-3 -4l-3 0l-5 6l1 5zM207 878l0 -2l10 -4l2 7l-5 5l-2 0zM116 998l12 2l-2 -10l-8 1zM387 782l-8 -2l-2 -6l2 -3l8 -1l3 6zM508 931l-7 10l-5 -6l1 -7l4 -2l5 2zM329 714l-1 1l-7 -4l-1 -5l2 -3l7 2l2 5zM422 777l2 3l-9 8l0 0l-3 -7l3 -5zM215 992l1 4l7 4l2 -1l1 -8l-5 -2zM473 788l3 1l3 -1l2 -10l-1 -2l-5 -3l-8 7l0 0zM243 960l6 1l-1 10l-2 1l-8 -3l-1 -1zM121 669l8 8l1 0l5 -8l-1 -3l-8 -1zM508 773l0 -3l-5 -5l0 0l-7 5l0 8l2 3l1 0zM404 639l5 -2l2 -5l-4 -8l-3 0l-5 2l-1 8zM257 890l4 2l5 -2l3 -7l-6 -4l-6 7zM296 708l-1 6l4 4l5 -1l2 -3l-1 -4l-6 -4zM370 692l-1 -9l4 -3l5 2l0 0l-2 7zM447 959l3 -7l-3 -5l-7 3l1 6zM172 587l-3 25l-7 5l-4 -2l-2 -27l7 -65l6 34zM220 794l-4 -4l-2 -1l-5 3l0 4l6 4zM550 728l8 -5l26 11l-29 3l-2 -2zM283 808l7 -1l2 8l-4 4l-5 -2l-2 -6zM365 767l4 -7l-2 -4l-5 -2l-3 2l0 8zM234 657l8 -4l4 9l-6 3l-2 0zM223 746l2 6l6 2l3 -4l-1 -4l-5 -2zM498 828l7 6l-1 6l-5 2l-7 -4l-1 -5l0 -2l2 -2zM288 700l5 -5l6 5l-1 5l-2 1l-8 -2zM124 859l-3 0l-4 5l6 8l6 -7zM120 668l-2 0l-3 -7l3 -6l7 3l0 6zM537 594l4 19l-8 6l-4 -1l-1 -1zM232 769l-8 2l-4 -2l3 -6l8 0zM384 867l5 3l0 6l-9 1l1 -8zM401 849l3 2l9 -7l-2 -4l-8 1zM495 875l-7 12l1 1l9 2l5 -9l-3 -5zM292 797l0 7l11 1l0 -1l-2 -8l-5 -1zM464 610l-8 -16l-4 19l2 3l8 -1zM526 881l-7 -7l-1 -2l5 -5l8 1l0 8zM183 661l7 8l3 0l4 -2l-3 -9l-7 -3l-4 6zM176 640l-8 -3l1 -9l6 -1l2 12zM281 771l-8 0l0 -7l7 -3l3 2l-2 8zM411 871l5 -3l6 4l0 5l-8 3zM294 953l-3 -3l-5 0l-4 6l6 3l6 -3zM387 631l3 -8l8 3l-2 8l-5 2zM490 641l6 -6l6 0l2 4l-4 9l-3 2l-6 -5zM340 701l-1 7l-7 2l-2 -5l4 -6l6 2zM236 907l-4 3l0 3l5 6l7 -6l0 -2zM481 746l4 11l1 1l9 -4l1 -5l-4 -6l-5 0zM456 793l-5 8l4 6l10 -1l0 0l-2 -10zM308 914l2 1l8 -6l0 -1l-4 -3l-9 0zM447 866l9 2l2 5l-4 4l-3 1l-6 -6zM354 698l8 6l0 1l-2 4l-4 2l-5 -2l-1 -6zM369 725l6 -1l2 2l-1 7l-5 3l-2 -2zM172 749l0 1l-9 0l-2 -7l5 -3l3 2zM329 827l-2 2l-1 4l2 4l3 2l9 -7l0 -3l-2 -1zM334 755l-5 9l-5 0l-4 -9l10 -4zM303 894l8 -3l0 -6l-2 -2l-6 0l-1 1l0 9zM419 661l2 -7l-5 -5l-6 5l4 9zM138 858l5 -4l6 0l1 1l1 4l-9 9l-5 -4zM208 680l8 6l-2 3l-7 3l-3 -3l1 -6l3 -3zM419 1007l-4 4l6 14l5 -15zM229 718l-2 -3l-3 0l-6 5l0 0l1 2l6 3zM501 986l-5 2l-8 -3l-1 -1l0 -3l7 -4l6 2zM181 897l0 0l5 7l2 1l6 -4l1 -4l-6 -6l-3 1zM248 707l8 -3l4 4l-1 6l-5 2l-6 -9zM144 841l-4 4l3 7l6 0l0 -10zM146 820l2 8l-7 4l-3 -1l-2 -5l8 -6zM516 623l8 -5l2 1l1 1l-2 12l-1 1l-4 -1l-5 -7zM535 851l-1 0l-6 -11l4 -2l10 1l1 2l-4 9zM194 960l1 -2l7 -2l5 5l-1 3l-6 2zM481 872l12 1l1 1l-8 12l-1 0l-6 -7zM203 855l-7 7l7 6l5 -7l0 -2zM154 681l7 4l2 5l-2 2l-10 0l-2 -2l3 -7zM403 948l7 2l3 -4l-1 -8l-2 -1l-3 1zM136 976l-9 2l0 1l1 8l8 0l1 -10zM272 715l-8 3l0 4l6 4l5 -7zM153 1001l9 -1l3 3l1 2l-1 1l-11 5l0 0zM476 762l-1 5l1 4l5 3l6 -7l-1 -7l-2 -1zM267 698l1 2l-2 6l-5 1l-4 -4l2 -6l3 -1zM190 844l2 -2l-1 -8l-9 0l0 1l2 7zM437 916l4 -4l-4 -9l-5 1l-5 6l3 5zM465 796l2 10l8 -3l1 -12l-3 0zM145 952l-4 6l-9 -2l-1 -1l4 -7l7 0zM116 808l-12 6l14 4l2 -6zM130 957l-1 7l-6 3l-3 -1l-2 -6l0 -1l8 -4l3 1zM517 676l-5 -2l1 -9l6 -2l5 6zM426 803l-3 -9l-7 -2l-2 6l3 7zM514 626l5 7l-7 6l-5 -1l-3 -4l2 -5zM494 811l-1 -9l6 -3l6 2l1 2l-2 10zM158 915l8 0l3 -4l-2 -9l-3 -2l-8 5l-1 2zM368 754l6 -7l-4 -7l-8 5l0 7zM470 635l6 4l-2 7l-2 1l-9 -3l-2 -3l2 -3zM449 962l9 1l2 5l-4 8l-7 -4l-3 -4zM279 801l2 -5l-4 -3l-6 1l0 7l1 0zM330 629l0 0l-2 -10l6 -2l6 7l-5 5zM361 916l6 -6l7 4l0 6l-6 2zM288 895l-8 -4l-1 -6l6 -3l5 1l0 0l0 10zM417 867l6 4l7 -4l0 -3l-11 -2zM490 646l6 5l-2 7l-5 2l-4 -1l-2 -8zM325 673l6 -7l-4 -5l-9 4l1 3zM141 1009l-2 2l-8 -4l0 -5l8 -5l4 4zM376 915l5 -4l7 6l0 3l-4 3l-4 1l-4 -4zM199 737l2 0l6 4l-4 6l-7 -4zM414 609l0 8l7 1l3 -3l-6 -11zM459 997l7 9l-4 4l-8 0l-2 -4l6 -10zM243 677l-3 -10l7 -3l3 1l2 2l0 0l-4 9zM450 836l-11 -3l1 12l9 -1l2 -3zM383 942l-1 -2l7 -5l5 1l1 10l-4 3zM260 624l-1 1l-7 10l4 3l8 -4l-3 -9zM298 905l-9 -4l0 -4l2 -2l9 -1l2 2l1 7zM470 735l-7 -7l-1 0l-6 7l5 6l9 -2zM299 872l-3 -2l-5 11l1 1l8 1l1 -1zM148 935l0 -1l-2 -10l-2 -1l-6 3l-2 4l2 5l6 2zM314 754l3 -1l0 -9l-4 -4l-3 2l-2 7zM401 663l0 -6l4 -3l3 0l4 10l0 0l-8 1zM395 817l10 3l-2 8l-3 1l-8 -6zM523 827l8 0l-1 9l-3 3l-6 0l-2 -6zM281 939l-2 -8l-1 -1l-7 1l-3 4l3 8l2 1l6 -2zM346 763l0 -3l7 -5l5 0l-1 9l-4 2zM351 903l-2 -8l4 -4l6 2l1 8l-7 3zM470 968l4 -8l3 -1l5 9l-2 6l-6 0zM499 827l7 6l5 -3l-1 -10l-4 -1zM189 799l2 2l7 -2l-1 -9l-2 0l-6 6zM213 638l-1 0l4 -9l1 0l9 5l-4 7zM182 663l-7 6l1 1l6 6l7 -6zM381 939l7 -5l-4 -9l-4 0l-3 10zM361 734l-5 5l0 0l5 5l9 -5l0 -2l-2 -2zM185 929l-2 -4l0 -1l7 -5l6 6l-3 6zM130 679l-2 3l1 7l9 0l-1 -7l-7 -3zM431 957l3 2l6 -3l-1 -6l-5 -3l-2 1zM224 795l3 -2l6 3l0 7l-6 0zM551 712l4 -10l11 7l-9 5zM242 842l3 -3l-2 -7l-2 -1l-8 5l2 5zM332 1006l9 19l0 0l2 -23l-1 -1zM388 966l4 -1l5 10l0 0l-4 2l-4 0l-3 -5zM297 724l4 5l6 -3l-3 -8l-4 1zM339 770l-3 0l-5 -6l4 -8l4 0l5 4l0 3zM165 739l-1 -6l-7 -3l0 0l-1 2l2 9l2 0zM388 732l7 3l-3 8l-6 -2l-2 -5zM172 942l-9 1l0 1l3 8l5 0zM247 818l5 9l-9 3l-1 0l-1 -3l4 -8zM133 754l-1 -4l1 -2l13 -1l1 3l-6 7zM449 925l1 -9l-6 -3l-2 0l-4 4l2 4zM541 951l-4 -8l6 -7l9 7l1 2zM430 882l4 -3l1 -5l-5 -6l-6 5l-1 4zM398 925l-8 -5l0 -2l5 -4l6 0l2 7l0 1zM224 824l5 2l1 8l-8 1l1 -10zM243 1007l-8 2l-1 -1l-1 -5l6 -6l1 0l5 7zM201 892l-5 4l-6 -6l5 -6l2 1zM283 806l7 -1l1 -1l-1 -7l-4 -2l-4 1l-2 5zM469 967l3 -8l-8 -4l-5 8l2 4zM270 635l3 -9l-1 -1l-10 -1l4 10l4 2zM428 840l0 -2l8 -6l2 1l0 12l-1 1l-1 0zM544 1005l6 7l-5 13l-6 -13zM366 768l1 4l9 1l1 -3l-1 -7l-6 -3zM363 948l-2 7l6 4l7 -5l-1 -2l-7 -5zM131 867l-7 7l0 0l1 1l9 3l5 -2l2 -5l-1 -2l-4 -3zM209 703l-3 7l2 3l5 1l3 -8l-2 -2zM446 650l3 -1l5 -7l-7 -5l-4 2l-1 6zM286 685l7 6l7 -6l0 -1l-9 -5zM467 686l3 -11l-6 -3l-4 1l-3 6l5 6zM159 653l-4 -4l0 -6l5 -3l2 0l3 8zM400 790l4 9l8 -2l2 -6l0 -1l-1 0l-13 0zM348 837l9 -5l3 6l-1 4l-5 3l-6 -1zM258 932l0 1l-9 -6l3 -6l6 -1l2 1zM132 767l10 -3l-1 -5l-8 -4l-3 7l1 4zM410 767l-4 -4l-5 -1l-4 3l2 9l2 1l9 -8zM321 943l-8 -2l-7 6l5 5l9 -6zM344 931l4 -9l1 0l2 0l6 10l-3 3l-5 1zM314 756l4 -1l0 1l4 8l-5 6l-2 0l-7 -8zM538 916l2 -9l-1 -2l-6 0l-5 8l0 2l3 2zM241 681l-7 0l-2 8l5 3l6 -3zM137 668l6 5l7 -6l0 -2l-4 -3l-9 3l-1 1zM495 786l2 -4l-2 -2l-12 -2l-2 10l4 2zM552 817l0 0l33 -4l-27 -9l-7 3zM393 646l-4 -3l3 -5l5 -2l6 4l-2 5zM288 731l4 -6l-6 -6l-4 2l0 8zM97 747l19 -5l3 -5l0 -1l-8 -6l-53 15l25 2zM305 984l-7 -6l-5 2l0 7l0 1l10 0zM543 958l-2 12l8 0l5 -4l-2 -6zM382 736l2 6l-5 5l-3 -1l-4 -7l0 -2l5 -2zM430 724l7 5l2 0l3 -2l1 -5l-7 -6l-5 1zM404 691l-3 -6l3 -7l8 1l1 1l-6 11l-2 0zM149 937l6 7l-4 7l-5 0l-3 -4l1 -8zM189 754l4 9l-1 2l-7 -1l-2 -5l5 -5zM118 755l4 -5l-6 -6l-18 5zM397 774l-1 -9l-6 0l-2 5l3 6zM508 613l2 -3l-14 -35l0 31l7 9zM280 860l5 -2l0 -6l-2 -2l-8 1l-2 4zM193 875l9 -3l3 4l0 2l-7 5l-3 -1l-2 -4zM545 1004l6 7l7 -2l-3 -9l-7 -1l-3 3zM259 781l-1 -1l-7 3l0 5l7 4l2 -9zM398 974l8 -9l0 0l-5 -4l-6 1l-2 3zM211 971l8 -2l-3 -8l-2 -2l-5 2l-2 3zM523 955l-10 1l-1 -9l4 -3l9 1zM530 685l7 4l6 -3l-4 -10l-6 1zM425 985l-8 -5l-3 10l9 0zM121 790l0 6l-4 2l-10 -3l8 -11l1 1zM205 845l7 -1l1 -7l-4 -3l-5 1l-2 6zM305 903l9 0l1 -7l-4 -3l-7 2l1 8zM452 579l2 15l-4 19l-5 1l-4 -4zM499 956l5 4l-2 5l-7 2l-3 -2l0 -6zM241 805l4 -8l5 3l0 7l-3 2zM266 865l0 0l10 4l1 -1l2 -7l-7 -5l-1 0zM349 958l-4 8l7 5l3 0l1 -3l-2 -9zM374 899l1 -2l8 -2l4 7l-5 4zM388 902l-4 -8l2 -4l6 -1l3 3l0 7l-4 3zM246 621l-1 -5l-5 -1l-6 10l1 2l9 0zM337 992l5 7l0 1l-11 5l0 0l-2 -6l3 -5zM266 749l7 3l-6 6l-5 -3l0 -2zM342 638l1 0l3 -2l1 -7l-5 -4l0 0l-6 5zM427 803l4 -1l5 -6l-6 -6l-5 4l2 9zM444 873l-7 2l-1 4l9 6l4 -6zM454 834l10 -1l1 1l0 6l-5 3l-7 -2l0 -5zM487 741l5 0l4 -8l-5 -5l-8 -1l-1 2zM389 916l-7 -6l1 -2l5 -4l3 0l3 9zM174 812l3 5l8 0l2 -3l-1 -2l-7 -4zM506 813l2 -9l9 2l1 9l-2 2l-5 1l-4 -2zM182 681l3 3l-3 7l-6 2l-2 -3l2 -6zM284 613l1 2l7 -2l1 -22l-5 -17l-5 22zM205 921l-4 -7l2 -4l9 3l-3 6zM235 806l-2 -1l-6 0l-3 2l-1 4l2 3l8 -1zM202 854l-7 7l-1 0l-5 -5l3 -6l9 3zM129 623l-2 -7l-4 -1l-5 8l1 3l8 0zM402 947l4 -10l-9 -2l-1 1l0 10l6 2zM375 913l5 -4l1 -2l-8 -7l-6 5l1 3zM269 697l1 2l6 2l3 -5l-1 -7l-3 0zM447 961l-3 6l-8 1l-1 -8l5 -3l6 4zM470 657l2 -9l-9 -3l-2 10l5 3zM541 804l-3 10l12 3l-1 -10l-5 -3zM219 696l6 0l2 6l-7 3l-2 0l-2 -2zM225 727l-2 6l-3 1l-5 -3l3 -8l7 3zM487 924l9 3l4 -3l-1 -7l-8 -3l-4 4zM315 715l4 -3l-1 -6l-7 -1l-4 5l1 3zM418 849l-4 -4l-9 7l1 3l1 1l9 1l3 -6zM414 958l7 1l0 0l0 -11l-6 0l-4 3zM343 871l-6 -4l3 -8l5 -1l3 3zM169 710l-2 2l-9 -3l0 -4l4 -4l8 4zM258 732l0 -5l-6 -4l-2 7l5 4zM192 778l-3 -3l4 -7l5 3l0 5zM364 990l5 -2l2 2l1 8l-1 3l-4 -1l-5 -5zM494 712l5 -8l-10 -4l-3 3l2 9zM537 816l-2 1l-1 7l8 3l7 -4l1 -4l0 0zM143 819l-8 6l-4 -2l2 -11l2 0zM156 709l0 -4l-5 -4l-6 4l5 8l3 0zM215 802l-3 5l2 5l7 -1l1 -4zM486 956l-7 1l-1 1l5 9l8 -2l-1 -6zM424 625l-2 -6l3 -3l6 -1l4 9l-2 2zM135 908l-5 -7l5 -7l7 5l-4 9zM332 869l4 -1l6 4l0 0l-2 7l-3 2l-5 -3zM259 934l0 1l-2 3l3 9l9 -3l-2 -9zM391 763l-4 -6l8 -6l5 10l-4 3zM217 652l6 -5l-1 -5l-10 -2l-2 5zM191 807l-3 5l1 2l8 2l3 -3l0 -3zM449 803l-2 0l-6 7l0 3l2 2l8 -2l3 -5zM347 780l9 5l-1 3l-9 4l0 0l-2 -10l1 -2zM305 675l7 3l3 5l-1 2l-10 1l-2 -1l0 -1zM131 808l2 2l2 0l6 -4l-1 -6l-7 -2l-3 2zM169 800l-2 -5l-5 0l-3 9l1 2l7 -2zM528 805l6 -5l5 4l-3 10l-2 1l-4 -2zM231 762l1 -1l-2 -6l-5 -1l-4 4l2 4zM203 780l-5 -2l-6 1l0 5l3 4l2 0l4 -1zM182 739l-1 7l-8 3l-2 -8l4 -4l7 2zM210 862l7 7l-1 1l-9 5l-3 -4l0 -2zM204 945l1 0l2 0l4 -5l-2 -6l-3 -1l-5 4zM280 1009l-5 -6l0 -5l3 -3l1 0l8 6zM257 857l6 -6l6 4l-4 9l-8 -4zM178 639l-1 -12l1 -2l6 3l2 8zM547 858l5 0l4 4l-5 10l-3 -1l-4 -5zM239 886l2 0l5 -7l0 -2l-7 -3l-5 4zM542 671l-5 -10l7 -3l8 4l0 1l-5 7zM129 850l-7 -6l6 -5l4 0l2 5zM353 905l8 -3l4 3l0 3l-6 6l-1 1zM166 661l-6 -6l0 0l6 -5l5 0l1 6zM518 907l3 -8l-8 -4l-2 2l0 11l1 1zM413 990l-1 0l-6 -2l0 -7l9 -5l0 0l1 3zM290 733l9 3l1 -6l-4 -5l-3 1l-3 6zM535 730l-4 -4l1 -6l12 -1l2 7zM349 949l7 -4l5 3l-2 6l-5 3l-4 -1l-2 -2zM233 770l2 2l-3 6l-7 1l0 -7zM210 818l-8 -5l0 -3l2 -4l6 2l3 5zM231 690l5 4l0 5l-5 4l-3 -2l-2 -6l2 -4zM260 817l1 6l5 2l5 -3l-3 -8l-5 -1zM352 753l-4 -7l-4 0l-4 9l5 3zM409 898l4 4l5 -1l4 -7l-6 -4l-7 6zM191 832l0 0l-9 1l-1 -4l6 -6l4 3zM476 862l-3 -11l3 -3l0 -1l8 3l1 2l0 6l-8 5zM471 937l5 -9l6 1l2 9l0 1l-7 2l-4 -1zM398 775l-6 2l-3 5l0 1l9 5l0 0l1 0l3 -8l-2 -4zM449 944l4 -3l4 0l4 9l-10 1l-3 -5zM64 922l46 -9l7 5l-2 7zM284 950l-3 6l-1 0l-6 -4l-1 -6l7 -2zM369 979l1 8l2 1l8 -3l0 -1l-4 -5zM296 793l6 2l4 -3l0 -4l-7 -4l-2 1zM293 979l-4 -2l-1 -7l0 0l10 -1l1 1l-1 7zM371 811l-6 -3l-5 2l0 7l7 0zM430 755l1 0l4 9l-1 3l-8 1l-4 -5l1 -4zM188 963l-8 -7l-4 1l-1 8l4 4l6 1zM127 664l-1 -7l7 -4l2 11l0 1zM544 786l3 7l-3 9l-3 0l-6 -3l-1 -7l7 -6zM327 722l-9 2l-3 5l1 2l11 1l3 -1l0 -1zM355 639l5 -4l6 3l1 5l-5 3l-6 -2zM134 948l-3 -6l-4 0l-3 4l2 7l4 1zM526 669l8 -8l-4 -5l-9 2l-1 4l5 7zM215 838l5 -1l3 8l-4 6l-1 0l-5 -7zM151 1001l-6 1l-2 8l10 1l-1 -9zM393 979l1 10l-8 3l-4 -6l1 -1l6 -6zM243 982l2 -8l-8 -3l-3 9l6 3zM157 920l4 10l1 1l2 -1l4 -7l-2 -6l-8 0zM141 833l-3 0l-5 5l3 6l3 0l4 -4zM393 850l-1 1l-1 5l5 5l8 -5l-1 -3l-3 -3zM551 910l4 -7l-3 -6l-10 4l-1 3l1 2zM161 795l-3 9l-5 -2l-2 -5l6 -6zM268 696l6 -8l-6 -4l-4 1l-2 9zM476 647l6 3l7 -5l-1 -4l-6 -3l-4 2zM438 900l9 -1l0 -7l-2 -2l-7 3zM300 700l5 -3l4 2l1 5l-4 5l-6 -4zM213 732l2 0l4 3l-2 8l-1 0l-6 -3zM304 822l8 0l0 1l-1 9l-7 0l-2 -5zM249 877l-1 2l8 6l5 -7l0 -3l-10 0zM183 858l-1 10l7 0l4 -6l-6 -5zM368 868l-6 -9l3 -2l8 2l0 6l-5 3zM477 1000l8 -1l1 2l1 10l-11 -2l-3 -3zM451 925l0 -8l8 -4l2 2l1 7l-2 4l-9 0zM383 846l8 4l1 -1l0 -10l-5 -2l-4 2zM431 826l4 3l1 2l-8 6l-5 -4l2 -5zM177 994l4 3l6 -1l1 -7l-6 -3l0 0zM546 617l-4 -3l-8 6l8 9l2 -1zM395 816l7 -10l0 0l6 5l-2 7l-1 0l-10 -2zM356 873l-12 -1l0 -1l5 -9l5 0zM235 817l-1 6l6 3l4 -8zM453 843l-2 2l1 9l8 2l2 -4l-3 -7zM253 829l2 5l-5 5l-4 0l-2 -7l8 -3zM181 942l2 -1l7 1l2 5l-1 2l-8 1zM421 690l2 11l-6 0l-4 -7zM249 729l-5 2l-4 -10l1 -1l9 2l1 1zM440 705l0 -11l-6 1l-4 6l9 5zM278 791l4 4l3 -1l0 -9l-4 -2l-3 1zM267 891l6 4l6 -4l-1 -6l-5 -2l-3 0zM292 625l-1 0l-6 -7l0 -2l8 -2l6 4l-1 4zM285 641l4 0l6 6l-2 4l-6 1l-4 -6zM312 641l5 -5l7 8l-3 5l-3 0l-6 -4zM197 726l0 -5l1 -1l6 0l2 3l-1 4l-2 2zM352 667l-4 6l-8 -3l-2 -3l5 -6l9 6zM464 660l-1 9l-4 2l-7 -7l4 -7l4 0zM275 702l-6 -2l-2 6l6 6l4 -5zM378 689l5 4l4 -1l1 -6l-8 -4zM305 672l7 -9l4 3l1 3l-4 7l-8 -2zM528 728l-11 -3l-4 9l9 1zM329 813l-5 -1l-4 -4l0 0l4 -5l8 0l1 0zM398 791l-7 9l0 0l10 4l0 0l2 -4l-5 -9zM499 693l-9 -2l-1 8l11 4l0 0l1 -2zM216 925l6 -3l4 4l-2 7l-1 1l-7 -5zM206 779l2 -6l6 -2l1 7l-3 3zM243 853l0 9l-5 2l-1 0l-4 -8l2 -3zM331 816l-2 10l9 1l0 -10zM312 797l0 4l-8 3l-1 -8l3 -3zM292 627l2 8l7 0l2 -6l-4 -5zM301 687l2 1l1 8l-4 3l-6 -5l0 -2zM335 616l3 -4l3 -1l6 5l-5 7l-1 0zM306 650l-1 7l-7 2l-3 -7l1 -4l3 -1zM207 679l-6 -10l-3 -1l-4 3l2 8l7 2zM191 919l1 -3l8 -1l4 7l-1 1l-6 2zM526 912l-7 -4l4 -8l3 -2l5 7zM467 834l6 -2l4 5l-2 8l0 0l-8 -5zM247 939l8 -2l2 -3l-8 -6l-3 1l0 9zM411 930l8 -5l-5 -6l-8 3l0 0zM233 841l-1 -4l-2 -1l-8 0l-1 1l3 8l8 -2zM413 737l-7 -1l-3 -3l6 -7l5 0l0 10zM252 920l-6 -6l0 -3l4 -4l6 2l1 9zM174 736l-3 -6l-5 3l0 6l4 1zM342 700l7 1l4 -4l0 -2l-8 -4l-3 9zM136 669l6 5l0 3l-4 4l-7 -4zM382 668l8 -3l2 1l0 8l0 1l-8 -2zM525 748l-14 -3l-1 1l3 9l4 1zM201 823l8 -3l0 -1l-8 -5l-3 3l1 5zM325 968l5 -6l-5 -8l-5 6l4 8zM279 673l8 -1l3 3l0 2l-5 7l-3 0l-3 -10zM149 764l-4 1l-1 -2l-1 -5l5 -7l7 6zM320 922l1 -1l1 -7l-4 -4l-7 6l1 4zM120 891l4 9l-5 4l-2 0l-4 -6l5 -7zM460 709l-8 -3l2 -10l1 0l9 4zM393 676l1 -1l7 1l2 1l-3 8l-7 -2zM293 764l9 -2l0 0l-2 9l-6 0zM180 661l-6 7l-7 -4l0 -2l6 -5l7 4zM494 864l-7 -6l0 -5l9 -1l4 5zM355 697l8 6l4 -9l-9 -3l-3 4zM451 825l-7 -3l0 -5l8 -3l3 7zM512 820l5 -1l5 7l-4 7l-6 -3zM124 857l-3 0l-3 -5l2 -6l1 0l7 5l1 0zM282 982l6 -4l4 2l0 7l-8 0zM217 707l-3 7l3 5l6 -5l-4 -7zM135 929l-11 0l5 -10l8 6zM506 909l3 -1l0 -11l-8 -2l-2 7zM200 825l1 7l-8 0l-1 -6l6 -3zM329 1005l-6 3l-5 -3l-1 -8l10 2zM187 718l1 -7l-4 -4l-5 7l2 4zM208 946l5 -5l7 0l1 5l-7 4zM422 959l1 -11l0 0l8 0l-1 8zM403 780l8 1l2 8l-13 -1zM331 715l11 4l1 -7l-3 -3l-7 2zM351 993l5 3l-2 8l-9 -3l-1 -1l0 -1zM488 768l-6 7l1 2l12 2l-1 -9zM265 748l-4 4l-6 -5l0 -2l9 -2z" fill="#633012"/>
<path d="M535 854l-2 12l9 0l4 -8l-7 -5zM364 797l-2 -1l-8 6l1 4l4 3l5 -3zM508 655l-7 -4l-3 1l-2 7l6 4l5 -3zM143 967l-4 5l-1 2l1 1l9 4l3 -8l-2 -3zM316 894l6 -1l1 -3l-2 -6l-8 1l-1 6zM242 737l-1 -1l3 -4l5 -1l5 4l-2 5l-7 0zM117 945l5 1l3 8l-7 3l-5 -8zM314 661l0 0l3 3l9 -5l1 -1l-6 -8l-3 1zM130 851l0 0l5 -6l3 1l4 6l-5 5zM515 621l8 -4l-5 -7l-7 1l-1 3zM237 901l-1 5l9 4l4 -4l-1 -3l-6 -4zM231 1003l1 6l-8 5l-4 -4l3 -8l3 -1zM536 738l-8 8l0 1l0 1l12 2l1 0l0 -9zM214 951l1 7l2 1l8 -4l-1 -6l-2 -2zM409 895l-5 -5l3 -6l5 -1l3 6zM278 673l-3 -9l-6 2l-2 7l3 3l7 -2zM331 642l-1 -11l5 0l6 7l-8 5zM133 652l0 0l-8 4l-6 -3l0 -1l2 -4l8 -1zM250 866l6 -4l8 4l0 0l-3 8l-10 -1zM521 657l9 -2l0 -6l-5 -3l-8 2l0 3zM153 838l-3 3l-5 -1l-3 -7l6 -3l6 3zM170 800l-2 -6l2 -2l7 0l0 8zM461 709l4 -8l6 -2l3 3l-2 10l-10 -1zM271 637l10 0l3 3l-3 5l-4 2l-6 -5l0 -5zM291 827l9 -1l2 -5l-2 -4l-7 0l-3 3zM338 955l-2 6l5 5l2 -1l5 -8l-1 -2zM585 815l122 11l-115 9l-35 -2l-5 -10l0 -4zM205 893l4 6l-7 6l-6 -3l1 -5l5 -4zM187 753l-5 -6l-8 3l0 1l1 6l1 1l6 0zM127 699l10 -1l2 -6l-1 -1l-9 -1l-2 3zM509 988l-7 -3l-1 -6l6 -4l3 1l2 11zM143 871l12 4l0 0l-4 10l-1 0l-4 -1l-5 -7zM472 988l1 0l11 -4l1 -3l-5 -5l-6 0l-5 5zM541 851l4 -10l4 0l5 9l-2 5l-5 1zM188 727l4 2l4 -3l-1 -5l-7 -1zM429 739l8 -8l2 0l2 11l-11 0zM541 930l1 2l0 3l-7 7l-6 -1l-2 -8l5 -5zM319 907l-4 -4l2 -7l6 -2l4 7zM121 612l1 3l-5 7l-10 -4l7 -8zM288 733l-3 8l-8 -5l0 -2l5 -4l6 2zM279 625l5 -6l6 7l-7 4zM457 996l-7 9l-5 -1l0 -8l9 -4zM263 877l7 4l3 0l2 -11l-9 -3l-3 8zM317 691l-8 6l-4 -1l0 -8l10 -1zM291 893l0 -10l9 1l0 9zM219 896l6 3l0 6l-8 3l-2 -8zM471 657l8 5l4 -3l-1 -7l-7 -4l-2 1zM158 770l-8 -5l6 -8l1 0l5 6l0 5zM230 704l-2 -1l-8 3l4 7l3 1l4 -6zM536 737l6 3l8 -4l-2 -8l-1 -1l-12 4zM434 783l9 3l-3 9l-3 0l-6 -6l1 -5zM122 876l-7 2l-3 7l6 4l2 0l2 -2l1 -11zM234 944l-9 3l-2 -2l-1 -5l2 -4l1 -1l8 2l2 3zM289 827l-1 -6l-6 -2l-7 4l3 6l10 0zM153 715l-3 0l-2 2l0 7l8 4l0 0l2 -6zM478 611l14 -47l2 11l0 31l-6 9l-9 -1zM223 823l1 -8l-3 -2l-7 1l-3 5l0 1l2 3l8 1zM421 926l-1 0l-8 5l-1 4l2 2l8 0l1 -1zM525 747l0 0l-14 -3l1 -8l0 0l10 1l3 9zM546 785l3 7l7 2l9 -10l-19 1zM383 893l-8 2l-2 -3l5 -10l7 7zM153 643l0 6l-8 2l-3 -2l2 -9l3 -1zM331 791l1 2l0 8l-8 0l-3 -8l0 -1zM267 958l-3 0l-4 -9l1 0l9 -4l1 1l1 6zM543 920l9 -4l-2 -5l-8 -3l-3 8zM366 668l-2 -8l-4 -3l-3 1l-3 9l0 0l9 3zM233 852l-2 3l-6 1l-4 -4l4 -6l7 -1zM474 989l11 -4l1 1l-1 12l-8 0zM395 912l-3 -9l4 -2l4 1l3 8l-2 3zM141 912l-3 -2l-3 0l-6 6l0 2l8 6l6 -3zM406 761l-5 -1l-5 -10l0 0l7 -2l6 3zM188 639l-2 -1l-8 2l0 2l-1 3l8 5l4 -4zM221 672l3 -3l7 1l1 9l-9 -1zM440 692l0 0l-3 -12l-7 2l-3 4l7 7zM292 677l8 6l4 -8l-1 -2l-4 -2l-7 4zM165 820l7 5l-5 6l-7 -2l0 -5zM511 698l-8 3l-3 -9l5 -4l6 3zM246 1003l-5 -6l6 -4l5 3l-1 6zM379 770l8 -1l2 -5l-3 -6l-2 0l-6 4zM170 981l-6 -9l-3 1l-2 10l2 3l6 -1zM236 805l-2 -2l1 -7l5 -4l3 1l1 3l-4 9zM367 946l7 5l6 -9l0 -2l-4 -3l-7 1zM240 830l-1 -3l-6 -2l-3 1l1 8l2 1zM149 797l3 5l-6 4l-3 0l-1 -7l3 -3zM141 692l7 0l2 2l0 6l-6 4l-3 -1l-2 -4zM332 845l-2 -4l-3 -2l-11 8l3 4l3 1zM223 745l-5 -2l3 -8l3 -1l3 4l0 4zM342 701l-1 7l3 3l6 -2l-1 -6zM288 1000l-8 -6l4 -5l8 0l0 0l-1 8l-3 3zM179 899l-10 3l2 9l6 1l7 -6zM259 963l-7 -3l-2 1l-1 10l4 1l6 -2zM202 998l1 2l7 0l4 -4l-1 -4l-2 -2l-9 0zM362 671l-9 -3l-3 6l1 5l6 2l3 -2zM198 718l0 -7l7 0l2 3l-3 5zM458 912l-3 -8l-4 -1l-7 9l7 3zM266 674l-5 1l-2 6l5 3l4 -1l1 -6zM153 907l0 -3l-6 -5l-4 1l-4 9l3 2zM335 943l-1 7l-8 2l-3 -5l0 -4l3 -3l9 3zM539 952l-4 -8l-6 0l-2 1l-2 11l3 3l11 -5zM265 833l8 4l1 0l2 -7l-3 -6l-1 0l-5 2zM252 690l6 5l3 -1l2 -9l-5 -3l-3 1zM515 779l8 -1l0 11l-3 2l-7 -1l-1 -2zM294 849l4 9l-4 5l-7 -5l0 -6zM288 705l7 2l-2 6l-6 2l-2 -7zM369 694l0 1l-5 9l0 0l8 2l3 -5zM462 950l-4 -9l6 -5l5 2l2 3l-8 9zM338 991l5 7l7 -6l0 -5l-2 -1l-9 3zM130 785l4 4l6 -2l-2 -8l-3 -1l-5 3zM463 914l6 -2l6 2l1 1l-3 8l-9 -1zM361 857l-2 0l-4 -10l5 -3l6 5l-2 6zM548 987l6 -3l0 1l5 9l-4 4l-7 -1zM475 865l-2 1l-6 8l3 5l7 -1l3 -7l-3 -6zM152 888l10 4l0 6l-7 5l-6 -6l2 -9zM179 880l-6 7l7 8l4 -5l-4 -9zM247 815l-1 -4l-6 -4l-4 0l-2 7l2 2l8 1l2 -1zM211 763l-6 1l0 5l3 2l6 -1l0 0zM440 797l6 5l-7 7l-6 -6l4 -6zM489 639l6 -5l-5 -7l-7 2l-1 7zM182 869l-2 1l-1 6l1 2l1 1l10 -2l1 -2l-3 -5zM166 862l1 0l0 1l-3 11l-1 0l-6 0l0 0l0 -11zM114 974l4 5l7 -1l1 -1l-4 -8l-3 -1zM221 793l-4 -4l5 -7l1 0l4 6l-1 4l-3 2zM533 853l0 0l-10 2l-3 4l3 6l8 1l0 -1zM474 697l0 -4l7 -5l7 3l1 0l-1 8l-4 3l-8 -2zM325 677l-9 6l-2 -6l4 -8l6 5zM508 802l9 3l4 -3l-1 -9l-8 -1l-5 8zM522 802l-1 -9l4 -2l7 1l1 7l-6 4zM528 983l9 -9l1 0l3 10l-9 6l0 -1zM380 631l-2 -1l1 -8l9 -1l1 1l-3 8zM321 867l-6 -8l3 -6l4 1l4 6l0 5zM325 953l0 0l-4 -5l-10 5l1 5l0 0l7 1zM349 904l-2 -9l-8 0l-2 5l6 7l1 0zM336 941l-10 -3l0 -3l7 -7l5 4zM403 950l7 1l2 7l-5 5l-5 -3l1 -10zM488 834l2 4l-6 10l-8 -3l3 -8zM192 941l2 5l9 -1l-3 -8l-5 -1zM263 1004l5 2l5 -3l0 -5l-9 -1zM235 750l8 1l0 -10l-3 -2l-6 7zM424 892l-1 0l-6 -3l-3 -7l0 -1l8 -2l7 5l-1 3zM464 699l-9 -4l6 -8l6 0l4 6l0 4zM464 951l8 -9l4 2l1 11l-1 2l-3 0l-8 -4zM494 813l9 2l2 3l-7 8l-6 1l-1 -11zM181 789l1 -1l9 -3l3 4l-6 6zM372 653l-1 -6l-3 -2l-5 3l-2 8l4 2zM259 806l1 -4l-2 -6l-7 4l0 7zM446 723l-2 4l10 7l0 0l6 -7l-3 -5l-8 -1zM534 825l8 4l0 9l-10 -2l0 -9zM529 714l-12 -2l2 -9l6 -2l1 0l4 10zM354 860l-5 0l-3 -3l1 -10l1 -1l6 1l3 11zM188 998l-7 1l-2 8l8 3l1 -1l2 -9zM219 1009l3 -8l-7 -3l-4 3l3 8zM397 891l-4 -4l2 -6l4 -2l6 5l-3 5zM463 913l5 -3l1 -9l-7 -3l-5 6l3 7zM120 670l-2 0l-2 2l3 10l7 -1l2 -3zM211 637l4 -9l-10 -3l-5 6l0 1zM236 924l2 2l-5 10l-7 -3l2 -6zM217 655l7 6l7 -5l-4 -6l-3 -2l-6 6zM356 625l-8 2l-5 -3l5 -8l3 0l6 8zM420 847l-5 -3l-1 -5l0 -3l8 -2l5 4l0 2zM364 779l0 -1l3 -4l8 0l2 6l-4 6l-2 1zM172 888l-5 0l-3 4l1 6l4 2l10 -3l0 -1zM280 1010l-6 -6l-5 4l4 22l2 7l4 -14zM409 965l0 0l6 9l1 0l7 -5l-2 -8l-7 -1zM182 730l0 7l-7 -1l-3 -7l2 -3l2 0zM520 765l-10 4l-5 -6l8 -6l4 1zM242 680l3 9l3 1l3 0l3 -8l-6 -4l-5 1zM377 714l-1 9l3 1l7 -1l0 0l-3 -10zM228 742l1 -4l6 -3l4 2l0 1l-6 7zM306 844l1 1l5 0l0 -11l-1 -1l-7 0l-2 4zM414 747l-1 -9l-8 0l-1 9l6 3l3 -1zM463 821l4 -4l-2 -9l-10 1l-2 5l3 6zM374 857l2 -2l0 -4l-4 -4l-5 2l-2 7zM500 955l5 4l5 -1l1 -2l-1 -8l-8 -4l-2 3zM509 856l10 2l2 -4l-3 -10l-7 2zM379 973l-2 5l5 5l6 -5l-3 -5zM258 624l-10 -2l-3 6l5 6l1 0zM471 990l1 0l3 9l-4 5l-4 0l-6 -8zM152 952l4 4l4 1l4 -4l-3 -9l-5 1zM389 809l1 -8l10 5l-6 9zM189 751l0 0l4 -7l-6 -5l-3 0l-1 7l5 5zM333 915l1 4l-2 5l-9 -3l0 -7l8 0zM173 826l0 0l-5 6l2 6l10 -4l0 -1l0 -3zM266 672l-6 1l-5 -6l0 -1l8 -3l4 2zM221 763l-2 -5l-5 -1l-2 5l3 7l4 -1zM326 619l-1 -1l-10 6l-1 3l3 5l11 -3zM374 678l-4 -9l8 -2l3 2l1 5l-3 6zM402 704l-9 2l-1 2l6 9l3 -1l6 -7zM406 1006l3 5l-6 10l-5 -13l2 -3l1 0zM540 955l-12 5l1 5l8 6l1 0l2 -1l2 -12zM336 668l-4 -1l-6 7l1 3l3 2l5 -1l3 -7zM421 924l-1 0l-5 -6l1 -3l9 -4l0 0l3 5l-4 7zM526 749l0 0l-8 8l3 7l3 1l5 -3l-3 -12zM323 968l-4 3l-7 -2l0 -10l6 2zM317 772l4 6l-3 8l-6 -2l-2 -8l5 -4zM470 936l5 -9l-2 -2l-9 -2l-2 4l3 7zM299 917l7 -3l-2 -9l0 0l-5 2l-2 6zM117 651l-33 -9l21 -3l12 3l2 5zM375 956l3 2l1 3l-4 6l-5 0l-2 -3l0 -4zM216 924l6 -3l0 -4l-6 -5l-2 1l-3 7zM284 761l3 -1l2 -6l-4 -7l-8 4l-1 1l4 7zM493 812l-1 -9l-3 -1l-8 4l2 7l6 1zM453 833l0 -7l3 -4l7 1l0 8zM234 768l2 2l1 0l8 -5l-3 -5l-8 1l-1 2zM148 980l-10 -3l-1 10l3 3l5 -2l3 -6zM546 712l3 -1l4 -10l-1 -2l-1 -1l-10 4l0 5zM288 830l1 7l-5 3l-8 -2l2 -8zM231 857l5 8l-9 3l-3 -2l1 -8zM124 915l-7 2l-7 -5l7 -6l2 0zM455 792l-5 8l-3 0l-6 -5l4 -8l4 -2l5 3zM310 641l-7 -2l-3 7l6 3l4 -4zM506 799l4 -8l0 -2l-11 -6l0 0l-2 4l3 10zM313 1009l0 22l1 7l8 -29l-5 -3zM552 895l-10 4l-4 -8l4 -5l10 3l1 2zM237 700l-5 4l1 3l7 4l6 -5l0 0l-2 -3zM513 920l-2 -9l-1 -1l-4 1l-5 6l1 7l5 2zM116 863l-22 -2l-10 -3l33 -5l3 5zM386 888l-7 -7l0 -1l1 -1l9 -2l4 3l-2 7zM488 800l-8 5l-3 -2l1 -12l2 -1l4 2zM356 645l6 2l-3 9l-2 0l-8 -5l0 0zM339 988l8 -3l-1 -6l-8 -3l-3 2zM379 665l1 -7l3 -2l6 2l1 6l-8 3zM404 738l-1 8l-7 2l-3 -5l3 -7l3 -2l2 1zM445 865l-1 -4l-2 -1l-10 3l0 1l0 3l5 6l6 -2zM399 975l8 -9l7 9l-9 4l-6 -4zM158 810l-6 6l-2 0l-3 -8l5 -4l5 1l1 2zM413 775l-2 5l-8 -1l-1 -3l8 -8zM263 811l5 1l2 -2l0 -8l0 0l-8 0l-2 4zM478 672l2 -8l4 -3l5 1l2 12l0 1l-10 0zM326 838l-11 8l-2 -1l1 -11l10 0zM181 660l-8 -4l-1 -6l4 -4l8 6l1 2zM191 975l3 10l-5 3l-6 -4l5 -10zM172 751l-9 0l-4 5l5 6l9 -5zM455 786l-5 -4l0 -7l4 -6l3 0l8 11l0 0zM354 771l8 5l4 -4l-2 -4l-6 -3l-4 3zM347 778l6 -6l-1 -4l-6 -3l-6 7l5 6zM134 893l0 -1l-2 -2l-8 -1l-2 2l3 9l3 0zM278 708l-4 5l0 1l2 4l5 1l4 -1l1 -2l-2 -7zM531 927l-5 4l-4 -2l-1 -7l6 -5l3 2zM353 801l-5 -3l-1 -5l9 -3l5 5zM424 675l5 6l-3 4l-4 2l-7 -8l0 -1l1 -2zM512 756l-8 6l0 0l-6 -8l1 -5l10 -3zM233 815l-8 0l0 8l4 1l4 -1l1 -6zM353 889l-1 -4l5 -8l7 5l-1 7l-3 2zM207 728l0 -4l9 -3l1 2l-3 7l-2 1zM477 623l2 -7l9 1l3 4l-1 4l-7 3zM489 947l-4 -7l-8 3l2 12l7 -1zM462 765l11 2l1 -5l-5 -7l-4 0zM440 661l4 4l-3 10l-3 1l-7 -10l5 -5zM295 957l-6 4l-1 8l10 -2l1 -5zM345 815l3 3l0 6l-7 4l-1 -1l-1 -10l5 -3zM284 842l6 -4l2 1l2 9l0 0l-8 3l-1 -2zM425 968l6 3l3 -3l0 -8l-4 -2l-7 2l0 0zM270 775l2 7l-4 3l-6 -3l-1 -2l5 -5zM446 666l-3 9l7 4l5 -1l3 -6l-7 -6zM261 708l-1 6l3 3l9 -3l0 -1l-6 -6zM236 784l-3 -6l3 -6l1 1l6 5l-5 7zM197 635l3 11l-9 0l-1 -8zM367 795l5 -6l1 -1l9 8l0 0l-5 5zM163 618l4 6l2 1l6 0l2 -2l0 -3l-7 -7zM185 765l-3 4l4 5l2 1l4 -8l0 -1zM208 693l0 7l2 1l5 1l3 -6l-3 -6zM336 991l-5 1l-6 -7l8 -7l1 0l3 10zM333 698l-3 -5l-1 -1l-7 2l0 8l7 2zM261 836l1 9l0 0l10 -4l1 -3l-9 -3zM512 831l5 3l2 6l-2 2l-6 2l-5 -3l0 -7zM174 683l-2 7l-7 -1l-2 -5l4 -6l2 0zM213 1010l-8 7l-4 -7l2 -8l7 0zM412 908l1 -4l5 -1l7 7l-10 4zM544 838l-1 -9l7 -5l5 10l-6 5l-4 0zM528 684l4 -7l-6 -6l-1 0l-7 6l3 6l4 2zM167 987l-5 1l-1 1l3 10l2 2l7 -7zM305 946l0 0l-5 -9l6 -6l1 0l2 2l3 7zM240 953l3 6l6 1l2 -1l0 -8l-3 -2zM243 852l-8 0l-2 -8l1 -1l8 0l1 8zM274 979l-1 0l-5 -3l-3 0l-4 10l1 2l9 -2zM311 873l-2 8l-6 0l-2 -9l7 -1zM155 863l0 11l-12 -4l0 -1l9 -9zM247 692l-2 10l-8 -3l0 -5l7 -4zM504 1000l-1 1l-5 -3l-1 -8l5 -3l6 2zM343 779l-1 2l-9 5l-3 -7l6 -7l2 1zM326 678l3 2l0 10l-8 2l-2 -2l-2 -4l0 -2zM390 686l-1 6l2 2l11 -2l-3 -6l-7 -2zM314 821l5 0l4 -7l-4 -5l-6 4l0 8zM289 760l2 -6l8 -1l3 8l-10 1zM292 674l7 -4l-3 -8l-7 2l0 7zM125 729l-4 7l0 1l10 2l2 -4l-2 -5zM319 786l2 5l9 -2l1 -2l-3 -7l-6 -1zM496 998l-8 1l-2 -1l1 -12l9 4zM335 847l11 -1l-2 11l-4 0l-4 -3zM430 784l-1 5l-5 4l-8 -3l0 -1l8 -8zM139 991l-3 -3l-8 0l-1 1l2 11l1 1l8 -6zM552 872l6 -9l41 6l-42 8zM255 890l0 -4l-7 -6l-6 7l1 2l10 3zM157 631l2 7l-5 3l-6 -3l3 -9zM120 756l3 -5l7 -1l2 5l-4 7l-8 -3zM347 728l-2 -4l-2 -1l-10 8l0 0l6 7l0 0l8 -6zM203 690l-7 3l-2 3l4 5l8 -1l0 -7zM136 832l-4 5l-4 0l-3 -5l3 -7l2 0l4 2zM158 655l-5 -4l-8 2l2 8l4 2l7 -8zM225 667l6 2l6 -4l-4 -7l-2 -1l-6 5zM498 946l2 -3l0 -1l-5 -6l-9 3l0 1l4 6zM435 660l-5 5l-3 0l-6 -4l2 -6l7 -2zM185 706l4 3l6 -1l2 -6l-4 -5l-2 1l-6 7zM370 667l7 -2l1 -7l-5 -4l-7 5l2 8zM429 937l4 6l-1 3l-1 0l-7 0l-1 -8l1 -1zM270 930l-3 3l-7 -1l1 -11l5 0zM469 880l-3 5l-5 3l-5 -9l4 -5l5 1zM207 947l-2 0l-2 8l5 5l5 -2l0 -7zM501 664l0 5l-8 5l-3 -12l5 -2zM211 833l2 -9l8 1l-1 10l0 0l-6 1zM337 943l-2 7l3 4l8 0l1 -5l-3 -4zM559 932l-4 -4l-11 4l0 3l9 6zM259 716l3 2l1 4l-4 4l-6 -4l-1 -1l2 -4zM541 701l9 -4l-4 -9l-2 -1l-6 3l-1 7zM437 765l-2 3l2 4l11 2l4 -6l-3 -4l-4 -2zM520 766l-10 4l0 3l5 4l8 0l0 -1l0 -9zM165 662l-6 -6l-7 8l1 3l3 3l4 0l5 -6zM475 924l2 -8l8 2l1 6l-4 3l-6 -1zM129 780l5 -3l-3 -8l-1 -1l-7 4l1 5zM206 879l-7 5l4 7l2 0l6 -6zM381 641l-1 -8l6 -2l4 6l-2 5l-2 1zM531 992l0 0l3 6l-5 7l-9 -2l1 -5zM127 700l-2 4l7 8l7 -8l-2 -4zM151 1000l0 -6l-6 -4l-4 2l-1 4l5 4zM117 833l-2 7l-105 3l-37 -4l141 -10zM513 778l-2 10l-11 -6l9 -8zM322 869l5 -2l4 2l0 9l-8 1l-3 -8zM167 719l-8 3l-5 -8l4 -3l9 2zM509 653l6 -2l0 -3l-4 -7l-5 -1l-4 9zM166 793l-4 0l-4 -3l0 -2l3 -5l5 0l1 0l1 8zM190 779l-2 -3l-2 0l-7 5l2 5l9 -2zM380 701l6 7l-3 4l-7 1l0 0l-2 -6l2 -5zM399 1003l-1 0l-10 -6l-1 -3l0 0l7 -3l6 1zM283 659l3 -7l-4 -5l-5 1l-2 6l2 5zM143 898l4 -1l2 -10l-4 -1l-9 6l0 1zM295 1008l4 1l5 -6l0 -4l-11 -1l-3 3zM249 692l-3 10l2 3l7 -2l2 -7l-6 -4zM543 741l-1 9l9 2l1 -1l2 -12l-3 -1zM498 718l-3 -5l6 -8l0 0l10 10l0 0l-7 4zM506 974l-4 -7l-7 2l0 6l5 3zM408 898l-7 3l-4 -2l0 -7l6 -1l5 5zM174 700l1 -5l-3 -3l-7 -1l-2 2l0 7l7 3zM175 642l-8 -4l-4 2l3 8l5 0l4 -3zM149 784l0 -6l-4 -2l-5 3l1 7l3 2zM368 692l0 0l0 0l-9 -2l-1 -7l3 -2l6 3zM553 754l0 6l3 3l25 -7l-27 -3zM125 979l-7 1l-2 6l2 3l8 -1l1 -1zM254 748l-4 5l5 6l6 -4l0 -2zM438 989l5 -5l-1 -4l-9 -2l-2 4zM262 1005l-4 3l0 1l13 22l-4 -23zM259 949l4 10l-3 2l-8 -2l1 -8zM470 659l8 4l-2 9l-5 1l-6 -3l1 -10zM462 713l-3 8l3 4l1 1l11 -8l-2 -4zM302 638l-1 -2l-7 0l-4 4l6 6l3 -1zM509 868l8 2l4 -5l-2 -6l-10 -1l-1 1zM465 831l-1 -9l5 -3l5 2l1 2l-2 8l-6 1zM473 626l3 -2l6 5l-1 7l-4 2l-6 -4zM257 795l0 -1l0 -1l-7 -3l-6 3l1 3l5 3zM430 854l2 8l10 -3l-4 -11l-1 1zM447 629l-6 -4l-4 0l-2 3l0 5l7 4l4 -2zM373 846l0 -7l9 0l0 7l-5 3zM526 981l-6 -9l7 -6l9 6l-9 9zM216 626l1 -3l-4 -9l-6 0l-2 5l1 5l9 3zM123 611l1 3l3 0l7 -3l-3 -22zM498 798l-3 -11l-9 4l4 9l2 1zM361 723l-5 -7l1 -3l4 -2l5 5l-1 6zM230 982l-1 7l-2 1l-6 -2l1 -7l1 -2zM190 963l-3 7l1 2l3 1l7 -1l1 -5l-5 -6zM118 757l-21 -7l-14 0l32 15l4 -6zM296 864l4 -4l3 -1l5 2l0 8l-8 1l-3 -2l-1 -1zM527 941l-2 -8l-4 -2l-7 2l2 9l9 1zM305 612l-11 -21l0 22l5 3zM124 832l3 6l-6 5l-1 1l-3 -3l2 -8zM524 635l1 10l-8 2l-4 -7l7 -6zM330 680l0 10l1 1l10 -6l-5 -6zM503 687l0 -4l-9 -3l-4 9l1 1l8 1zM465 623l-3 -7l-8 1l0 8l5 2zM332 846l-9 7l5 6l6 -4l-1 -8zM355 874l-11 -1l-2 7l9 4l5 -8l0 -1zM415 808l-6 2l-6 -5l2 -5l7 -2l4 8zM361 978l6 0l1 1l0 8l-4 1l-5 -4zM441 933l7 -4l1 -2l0 0l-10 -4l-2 6zM374 865l6 3l3 -2l0 -7l-6 -2l-2 2zM222 782l-6 -3l-3 3l1 6l2 0zM248 987l7 -2l4 2l1 2l0 3l-7 3l-5 -3zM460 845l3 7l8 -2l3 -4l-8 -5zM157 771l-2 4l-5 1l-5 -2l1 -8l3 0zM162 638l-1 0l-3 -7l8 -5l2 1l-2 10zM519 998l-1 4l0 1l-12 -2l4 -11l3 -1l0 0zM194 692l-2 3l-2 1l-6 -4l2 -8l5 1zM404 910l-3 -8l7 -3l4 4l-2 5zM427 744l0 -1l0 -4l-2 -2l-9 0l-1 1l1 9zM370 693l0 1l6 6l4 0l2 -6l-5 -4zM243 652l4 10l4 1l4 -12l-11 -1zM366 722l1 -6l8 -2l0 0l0 9l-7 1zM256 856l-5 -5l2 -5l8 0l0 1l1 3zM156 672l5 0l5 5l-4 6l-7 -3zM201 753l1 -1l0 -4l-6 -4l-1 0l-5 8zM474 713l2 4l3 1l7 -6l-2 -8l-8 -1zM285 686l7 6l0 2l-5 5l-6 -3l-2 -7l3 -3zM264 975l-4 11l-4 -3l-3 -9l6 -2zM185 931l8 2l1 2l-4 6l-7 -2zM195 764l6 -3l2 3l0 5l-4 1l-5 -3l0 -1zM530 1006l6 -7l6 3l0 3l-4 6l-7 -1zM273 783l4 1l-1 7l-5 2l-2 -1l0 -6zM249 677l4 -10l6 7l-2 6l-2 1zM442 911l-4 -9l0 -1l9 -1l3 3l-7 8zM436 764l-3 -9l8 -2l3 8zM158 983l-8 -2l-1 -2l4 -7l6 1zM205 924l2 7l3 1l5 -3l0 -4l-5 -4l-5 2zM270 643l-7 7l1 1l10 3l2 -6zM221 684l7 6l3 -1l2 -8l-1 -1l-9 0zM368 682l-7 -2l3 -8l3 -2l2 0l3 9zM300 751l7 -3l1 -7l-8 -2l-2 4zM541 675l1 -2l5 -1l6 7l0 2l-7 5l-2 -1zM428 805l4 -1l7 6l0 3l-8 3l-2 -2zM188 719l8 1l1 -1l0 -8l-1 -1l-7 1l-1 8zM266 748l8 3l0 -1l1 0l-2 -9l-7 1l-1 1zM293 839l8 -1l3 7l-9 2zM459 655l-3 1l-6 -6l5 -8l4 0l2 3zM381 960l-1 -2l9 -5l4 8l-1 3l-5 1zM191 1000l-1 9l9 0l2 -8l-1 -1zM361 724l4 0l2 1l1 9l-7 -1l-2 -6zM439 992l5 3l9 -5l0 -2l-10 -3l-5 5zM514 622l-6 -7l-4 2l-2 3l3 8l8 -4zM498 955l-7 2l-4 -3l3 -7l8 0zM159 811l-5 6l6 6l5 -4l0 -3zM134 880l-1 9l2 2l9 -6l-5 -7zM182 760l-6 0l0 9l5 0l3 -5zM116 937l1 7l6 0l3 -4l-4 -8l-2 0zM193 734l5 3l-3 5l-1 1l-7 -5zM549 774l-5 -8l8 -4l3 2l1 8zM168 781l0 -9l5 0l3 8l-8 2zM447 864l-1 -4l6 -5l7 2l1 3l-4 6zM195 863l-1 0l-3 6l2 5l9 -3l0 -2zM449 961l9 1l4 -8l-1 -2l0 0l-9 1l-3 7zM195 957l7 -2l1 -8l0 0l-9 1l-1 2zM175 671l-5 6l5 5l6 -3l1 -2zM173 812l-7 4l0 3l7 5l0 0l3 -6l-3 -5zM208 703l-3 7l-7 0l-1 -1l1 -7l9 -1zM518 806l1 9l9 -2l-2 -8l-4 -1zM131 638l-2 7l-8 1l-2 -5l3 -4l8 0zM305 806l0 3l7 3l6 -4l0 0l-6 -6l-7 3zM531 710l-4 -9l9 -2l3 3l0 4zM288 717l6 -2l4 4l-3 5l-2 0l-6 -6zM146 808l2 8l-2 2l-2 0l-8 -7l6 -4zM525 882l-7 -6l-6 6l3 5l9 -2z" fill="#723a16"/>
<path d="M170 811l-4 2l-4 -3l0 -2l5 -1zM143 660l-1 -5l-1 -2l-4 2l0 0l1 6zM414 717l-4 -4l-1 0l-4 4l4 4l3 0l1 0zM414 812l-3 1l-1 4l4 2l2 -1l0 -1zM485 832l-6 2l-3 -3l2 -5l7 4zM261 796l0 -1l6 -1l1 1l0 5l-5 0zM523 888l-6 2l-1 3l5 2l2 0l2 -4zM266 611l0 0l-4 -4l-3 4l2 4zM132 851l0 0l4 -4l2 1l2 4l-3 3zM238 902l0 3l6 3l2 -3l0 -2l-4 -2zM302 735l1 -3l5 -2l3 1l0 1l-1 5l-2 1l-5 -2zM216 952l0 4l2 1l5 -3l0 -4l-2 -1zM468 988l-7 3l-1 0l-2 -2l0 -2l2 -5l6 1zM399 666l-4 2l0 5l5 0l1 -5zM332 640l0 -7l3 0l4 5l-5 3zM383 700l4 5l2 -1l1 -1l-1 -6l-2 -1l-3 0zM253 764l-5 2l2 4l3 0l2 -3zM547 983l4 -2l-3 -7l-5 0l-2 1l3 7zM171 799l-2 -4l2 -2l5 0l0 6zM463 709l3 -6l4 -2l2 3l-2 7l-6 -1zM172 768l1 -1l0 -5l-1 -1l-5 3l0 3l2 1zM379 851l0 3l5 3l3 -2l1 -4l-5 -2zM293 830l6 -1l2 3l-2 3l-5 1l-1 -1l-1 -4zM281 670l5 -1l0 -4l-3 -2l-3 1l-1 1zM333 972l-4 -4l3 -3l2 -1l3 3l-1 5l-2 0zM293 825l6 -1l1 -2l-2 -3l-4 0l-2 2zM339 957l-1 4l3 3l2 -1l3 -5l-1 -1zM358 723l-3 -4l-6 4l2 3l6 -1zM129 788l2 2l-1 4l-1 1l-4 -1l0 -4zM273 967l-2 5l3 2l4 -4l-2 -3zM474 985l0 0l7 -2l0 -2l-3 -3l-3 0l-3 3zM519 968l5 -4l0 -3l-2 -2l-7 0l-1 1l4 8zM189 726l3 1l2 -2l0 -3l-5 0zM121 762l5 2l1 2l-5 3l-3 -2l0 -1zM219 620l-3 -6l1 -1l7 0l0 5zM319 904l-2 -2l1 -4l4 -1l2 3zM276 677l3 6l-2 1l-2 0l-4 -2l1 -4zM314 692l-5 4l-2 -1l-1 -5l7 -1zM418 628l-4 1l-3 -6l4 -3l4 1l2 4zM154 790l-4 4l-2 -1l-1 -4l3 -2l4 2zM251 814l7 0l2 -2l-2 -3l-5 1l-2 1zM319 796l2 5l-2 3l-4 -3l0 -3zM229 706l-2 -1l-5 2l3 5l2 0l3 -4zM538 735l4 2l5 -2l-1 -5l-1 0l-7 2zM554 675l4 -3l-4 -5l-4 4zM121 878l-5 2l-2 4l4 3l2 0l1 -1l0 -8zM232 943l-6 2l-1 -1l-1 -3l1 -3l1 -1l5 2l2 2zM287 826l-1 -4l-4 -1l-4 3l1 4l7 0zM153 717l-2 0l-2 1l0 5l6 4l0 -1l2 -4zM203 985l3 -5l2 0l2 2l-1 4l-5 0zM420 929l-1 0l-5 3l-1 2l2 2l5 -1l1 0zM523 745l0 0l-10 -2l1 -5l0 -1l7 1l2 6zM173 978l3 -6l-3 -3l-5 1l-1 2l4 6zM386 714l2 7l5 -2l2 -2l-5 -6l-2 1zM530 670l4 -5l1 0l3 6l-1 2l-4 0zM267 956l-2 0l-3 -6l0 0l7 -3l1 1l0 4zM521 1006l6 2l1 3l-10 21l-1 -9l4 -17zM364 666l-2 -5l-2 -1l-2 0l-2 6l0 0l6 1zM139 914l-2 -1l-2 0l-3 4l0 1l5 3l3 -1zM251 747l-3 3l-2 0l-1 -1l1 -6l4 1l1 1zM426 674l4 4l4 -1l1 -1l-5 -7l-2 0zM212 801l-3 -2l-3 3l1 2l3 1l3 -3zM224 673l2 -2l4 1l1 5l-6 0zM173 851l-4 -4l-3 1l-2 3l4 7l0 0l6 -5zM165 822l5 3l-4 4l-4 -2l0 -3zM357 751l-3 0l-3 -5l4 -3l3 3l0 4zM510 697l-7 2l-1 -6l3 -3l4 2zM506 742l0 -4l-3 -2l-4 0l-2 5l3 3l6 -2zM470 809l0 0l2 5l3 2l4 -3l-1 -5l-2 -1zM206 782l-1 4l3 2l4 -1l-1 -5l-4 -1zM142 628l5 0l0 2l-1 5l-3 1l-2 -2zM237 802l-1 -1l0 -4l4 -2l1 0l1 2l-3 5zM369 945l5 4l4 -6l0 -1l-3 -2l-4 0zM370 845l-3 1l-4 -3l1 -3l6 -1l0 1zM143 694l4 0l1 1l0 5l-3 2l-3 0l-1 -3zM316 788l1 3l0 0l-4 3l-5 -2l0 -3l3 -2zM246 647l7 0l1 0l-2 -5l-2 -2l0 0l-5 4zM506 932l-5 6l-3 -4l0 -4l3 -2l4 2zM328 712l-1 1l-5 -3l0 -3l1 -2l5 1l1 4zM420 779l1 1l-5 5l0 0l-2 -4l2 -3zM204 997l0 1l5 0l3 -2l-1 -3l-2 -2l-5 0zM544 881l4 -5l2 1l3 2l-2 6l-6 -2zM243 962l5 0l-1 7l-2 1l-5 -2l0 -1zM505 773l0 -2l-2 -3l-1 0l-4 3l0 5l1 2l1 0zM122 800l4 2l1 6l-6 1l-3 -3l1 -5zM150 906l1 -2l-4 -3l-3 1l-2 5l1 2zM302 996l0 1l-8 -1l1 -6l6 0zM266 833l6 2l1 0l1 -5l-2 -4l-1 0l-3 1zM371 689l-1 -5l3 -2l3 1l0 0l-1 5zM320 940l2 -2l0 -3l-3 -3l-7 1l2 5zM425 748l-7 1l0 1l4 5l4 -2zM516 781l5 0l0 6l-2 1l-4 -1l-1 -1zM462 948l-2 -7l4 -3l4 1l1 3l-6 6zM121 665l-2 0l-2 -4l2 -4l4 2l1 4zM280 964l2 2l3 1l0 -1l1 -4l-4 -2l0 0zM230 768l-5 2l-3 -2l2 -4l6 0zM384 869l3 2l0 3l-5 1l1 -5zM466 916l4 -2l4 1l0 1l-2 5l-6 -1zM462 610l-5 -11l-3 14l1 1l6 0zM191 991l0 5l1 1l6 0l0 -6l-1 -1l-2 -1zM279 769l-5 0l0 -4l4 -2l2 1l-1 5zM413 871l4 -2l4 4l-1 3l-5 2zM394 931l1 -4l-5 -4l-3 3l3 6l3 0zM392 613l8 -1l1 8l-3 2l-6 -2l0 -1zM389 631l2 -6l5 2l-1 6l-3 1zM309 913l1 0l5 -4l0 0l-2 -3l-6 0zM292 751l5 -1l0 0l-1 -5l-6 1l0 1zM354 700l5 4l0 1l-1 2l-3 2l-2 -2l-1 -4zM370 726l5 -1l1 1l-1 6l-3 2l-2 -2zM170 748l0 0l-6 1l-2 -6l4 -1l2 1zM210 764l-4 1l0 3l2 2l4 -1l0 0zM331 829l-2 1l0 3l1 2l2 2l5 -5l0 -2l-1 0zM542 578l10 33l-1 1l-3 1l-3 -2l-3 -12zM315 620l-3 -6l2 -1l6 2l1 2zM227 718l-1 -2l-2 0l-5 4l0 0l1 1l5 2zM310 639l3 -4l1 -1l-3 -4l-5 1l-2 5l1 1zM499 985l-3 1l-5 -2l-1 0l0 -2l5 -3l3 2zM221 791l-2 -3l3 -3l1 0l2 3l-1 2l-1 1zM144 842l-3 3l3 5l4 0l0 -7zM545 927l0 1l8 -2l0 -5l-2 -2l-6 3zM535 849l0 0l-4 -8l2 -2l7 2l1 0l-3 7zM511 801l6 1l2 -1l-1 -6l-4 0l-3 4zM530 982l6 -6l1 0l3 8l-7 4l0 -1zM321 864l-3 -5l1 -3l2 0l3 4l0 3zM330 864l0 -4l4 -3l3 2l-2 5l-3 1zM425 981l-5 -3l0 -2l4 -3l4 2l0 2l-1 3zM155 684l4 2l2 3l-2 1l-6 0l-1 -1l1 -5zM404 952l5 1l1 5l-3 3l-3 -2l0 -7zM485 929l2 7l6 -2l1 -5l-6 -2zM407 872l-4 1l-1 4l4 4l4 -1l0 -1l-2 -6zM135 978l-6 1l-1 1l1 5l6 0l0 -7zM486 836l1 3l-3 6l-6 -1l2 -6zM192 755l0 -1l7 1l-1 4l-3 1zM423 889l-1 0l-3 -2l-2 -4l0 0l5 -2l4 3l0 2zM190 842l1 -1l-1 -6l-6 0l0 1l1 5zM445 741l5 -5l-6 -5l-2 2l2 7zM431 746l1 -1l7 0l2 1l0 1l-2 3l-5 2l-1 -1zM129 959l-1 5l-4 2l-3 -1l-1 -4l0 -1l6 -3l2 1zM517 673l-3 -1l1 -6l3 -1l4 4zM174 873l-7 0l2 -7l6 4zM450 964l7 1l1 3l-3 5l-5 -2l-1 -3zM277 799l2 -3l-3 -2l-3 1l0 4l0 1zM219 688l1 -1l5 4l-1 2l-4 1l-2 -4zM527 712l-8 -1l1 -6l4 -2l1 0l3 7zM353 858l-3 -1l-2 -1l1 -7l0 0l4 0l2 7zM420 867l3 2l4 -2l0 -2l-6 -1zM463 910l4 -2l1 -6l-6 -2l-2 4l1 5zM200 739l1 -1l4 3l-3 4l-4 -2zM354 624l-5 1l-4 -2l3 -5l2 0l4 5zM420 844l-3 -2l-1 -3l1 -2l5 -1l3 3l0 1zM366 779l0 -1l2 -3l6 1l2 4l-4 4l-1 1zM303 622l0 -3l3 -2l1 0l4 5l-1 3l-4 0zM385 942l0 -2l4 -3l4 0l0 8l-3 1zM352 664l2 -6l-5 -3l-3 2l0 3zM521 817l-1 2l4 4l5 0l1 -1l0 -4l-3 -2zM181 730l0 5l-5 0l-2 -5l1 -2l1 -1zM480 913l-1 -1l3 -5l3 -1l2 2l1 4l-3 3zM378 716l0 5l1 2l5 -1l0 0l-2 -6zM306 842l1 1l3 -1l1 -6l-1 -1l-5 0l-1 2zM348 763l0 -3l5 -4l4 1l-1 6l-3 2zM220 977l-2 1l-4 0l-2 -2l1 -2l5 -2l1 1zM353 901l-2 -5l3 -3l4 2l0 5l-4 2zM473 968l2 -5l1 0l3 5l-1 3l-3 0zM502 827l4 4l3 -2l0 -6l-3 -1zM412 746l0 -6l-6 -1l0 6l4 2l2 0zM549 755l0 4l-5 3l-3 0l0 0l1 -8l1 0zM226 782l1 -1l4 -1l2 4l-4 2zM234 972l0 0l-2 6l-2 1l-4 -2l0 -4l5 -3zM405 702l1 -7l2 0l3 1l3 5l-4 5l-1 0zM432 956l3 1l4 -2l-1 -4l-4 -2l-1 1zM471 992l0 0l3 6l-3 4l-3 0l-5 -6zM389 968l2 -1l3 6l0 0l-2 2l-2 0l-2 -4zM264 671l-3 1l-4 -5l0 0l6 -2l3 2zM537 901l1 -2l-2 -6l-5 0l-2 4l4 4zM388 734l5 2l-2 5l-4 -1l-2 -4zM324 622l-1 -1l-5 3l-1 3l2 2l6 -1zM375 677l-3 -6l5 -2l3 1l1 4l-3 4zM135 753l-1 -2l1 -2l9 0l0 2l-4 4zM448 923l1 -6l-5 -2l-1 0l-2 3l1 3zM539 957l-8 4l0 3l6 4l0 0l2 -1l1 -8zM246 982l1 -6l2 0l3 0l1 7l-4 1zM543 948l-3 -5l4 -4l6 4l0 1zM529 630l1 -7l3 0l5 6l-2 3zM320 967l-2 2l-4 -1l-1 -6l4 1zM269 966l-2 5l-2 1l-3 -3l1 -5l2 -1l1 0zM469 934l4 -6l-1 -2l-6 -1l-2 2l2 5zM374 957l3 2l0 2l-2 5l-4 0l-2 -2l0 -3zM187 729l4 1l0 3l-4 3l-2 0l0 0l0 -6zM390 726l0 0l4 -1l3 6l-2 1l-5 -2zM283 759l3 -1l1 -4l-2 -5l-7 3l0 0l3 6zM446 648l2 0l4 -6l-5 -3l-3 1l-1 5zM236 767l1 1l1 0l4 -3l-1 -3l-5 0l-1 1zM288 685l5 3l4 -3l0 -1l-5 -4zM316 981l-6 -1l0 -7l2 -1l5 1zM354 810l-5 3l2 3l6 0l0 0l0 -5zM122 914l-4 2l-5 -4l4 -4l1 0zM453 792l-4 6l-2 0l-4 -3l2 -6l4 -2l3 2zM308 642l-4 -1l-2 4l4 2l2 -2zM133 765l6 -2l0 -3l-5 -2l-2 4l1 2zM407 767l-2 -2l-4 -1l-2 2l1 6l1 1l6 -5zM346 931l3 -6l0 0l2 0l3 6l-2 2l-3 1zM202 791l-2 1l0 5l3 2l2 -3l0 -3zM554 814l0 0l20 -2l-17 -6l-4 2zM486 800l-5 3l-3 -2l1 -7l2 -1l3 1zM402 739l0 5l-5 1l-1 -2l2 -5l2 -1l1 0zM444 865l-2 -2l-1 -1l-7 2l0 1l0 2l3 4l5 -1zM288 729l2 -4l-4 -3l-2 1l0 4zM156 810l-4 3l-2 1l-2 -6l4 -2l3 1l1 1zM433 818l6 -2l1 2l1 4l-4 4l-3 -3zM544 960l-1 8l6 1l3 -4l-2 -4zM433 724l4 3l1 0l1 -2l1 -2l-4 -4l-3 0zM473 893l-5 -4l-4 2l0 1l0 4l5 2l3 -2zM117 753l2 -3l-3 -4l-11 3zM356 771l5 3l2 -3l-1 -2l-3 -2l-3 2zM396 772l-1 -5l-4 0l-1 3l2 3zM428 650l-4 1l-4 -4l0 0l6 -4l1 0l2 4zM411 611l-7 0l0 0l2 8l2 0l4 -3zM510 755l-5 4l0 0l-4 -5l1 -3l6 -2zM195 876l6 -2l2 2l0 2l-5 4l-2 -1l-2 -3zM293 808l1 -1l7 0l0 2l-2 4l-4 0zM258 783l-1 -1l-4 2l-1 4l5 2l1 -6zM398 971l5 -5l0 0l-3 -2l-4 0l-1 1zM522 954l-7 0l-1 -6l3 -2l6 1zM479 623l2 -6l6 1l2 3l-1 4l-5 1zM229 870l2 5l2 1l4 -3l-1 -5l0 -1zM206 843l4 0l1 -4l-2 -2l-4 0l-1 4zM307 902l6 0l1 -6l-3 -2l-5 2l0 6zM286 843l4 -2l1 0l1 6l0 0l-5 1l-1 0zM498 958l4 3l-2 3l-4 1l-2 -1l0 -4zM269 777l2 4l-3 2l-4 -1l-1 -2l3 -3zM376 899l1 -1l5 -1l2 4l-3 3zM448 668l-2 6l4 2l3 0l2 -4l-5 -4zM336 994l4 5l0 1l-8 3l0 0l-1 -4l2 -4zM266 750l5 2l-4 5l-3 -3l0 -1zM202 683l-6 -2l-2 4l2 4l5 -1zM443 874l-4 2l-1 3l7 4l3 -4zM196 637l2 7l-6 0l-1 -5zM488 738l3 0l2 -5l-3 -3l-5 0l0 0zM185 766l-2 3l3 4l2 0l3 -5l0 -1zM210 694l0 4l1 1l3 0l2 -3l-2 -3zM334 989l-3 1l-3 -5l4 -4l1 0l2 6zM292 870l1 1l-3 8l-4 -1l-1 -5zM508 812l2 -6l5 2l1 5l-1 1l-3 1l-3 -1zM181 683l2 2l-2 4l-3 2l-2 -2l1 -4zM315 722l-1 -4l-5 -1l-1 2l2 5l3 1zM232 808l-1 -1l-3 0l-2 1l-1 3l2 1l4 0zM200 855l-5 5l-1 0l-4 -4l3 -5l7 3zM211 1009l-5 6l-3 -6l1 -6l5 0zM335 787l7 -3l1 7l-7 0l-1 -2zM269 615l-5 4l0 2l1 0l6 1l0 -5zM445 962l-2 4l-6 0l-1 -5l4 -2l5 2zM345 918l-2 -7l-1 0l-5 3l1 3l7 1zM306 944l0 0l-4 -7l4 -4l1 0l2 1l1 5zM542 807l-2 6l8 2l0 -7l-4 -2zM220 697l4 0l2 4l-6 3l-1 -1l-2 -1zM382 680l3 -4l5 1l0 5l-2 1l-6 -2zM242 953l2 5l4 1l1 -1l1 -6l-2 -1zM153 865l0 6l-7 -2l0 -1l5 -5zM315 713l2 -2l0 -4l-5 -1l-3 4l1 2zM325 680l2 2l0 6l-5 1l-1 -1l-2 -3l1 -1zM167 709l-1 1l-6 -2l0 -3l3 -2l5 2zM291 759l1 -4l6 -1l2 6l-7 1zM193 776l-2 -2l3 -4l3 2l-1 3zM366 992l2 -1l2 0l1 6l-1 1l-3 0l-3 -4zM555 872l3 -6l26 3l-26 5zM253 889l0 -3l-5 -4l-4 5l1 1l7 2zM173 809l-3 -4l1 -2l5 0l0 0l0 3l-3 3zM122 756l2 -3l5 -1l1 3l-2 5l-6 -2zM486 958l-5 0l-1 2l4 6l5 -2l0 -4zM425 624l-1 -4l2 -3l4 0l3 6l-1 1zM333 870l3 0l5 2l0 1l-2 5l-2 1l-4 -2zM432 660l-3 3l-2 0l-3 -2l1 -4l4 -1zM260 937l0 0l-1 2l2 6l6 -2l-2 -6zM428 939l3 3l0 2l-1 1l-5 0l-1 -6l1 -1zM268 929l-2 3l-5 -1l1 -8l4 0zM391 762l-2 -4l6 -5l3 7l-2 2zM216 650l5 -4l-1 -3l-6 -2l-2 4zM193 809l-2 3l0 1l5 2l2 -3l0 -1zM213 832l2 -6l5 1l-1 6l0 0l-4 1zM448 806l-1 0l-4 4l0 2l1 1l5 -1l2 -3zM175 722l-1 0l-4 -3l0 -5l2 -1l5 2l1 3zM180 740l-1 5l-5 2l-2 -5l3 -3l5 1zM315 987l-1 7l-6 1l-1 -6l1 -2l2 -1l5 1zM438 766l-1 2l2 3l8 1l2 -4l-1 -3l-4 -1zM210 864l5 5l-1 1l-6 3l-2 -3l0 -1zM153 820l-2 0l-1 1l1 6l3 2l3 -2l0 -3zM530 994l0 0l2 4l-4 5l-6 -1l1 -4zM129 701l-2 3l5 6l5 -6l-1 -3zM386 654l3 1l2 -2l0 -4l-2 -1l-2 0zM323 870l4 -1l3 1l0 7l-6 1l-2 -6zM164 718l-4 1l-3 -4l2 -2l6 1zM355 906l5 -2l3 2l0 2l-4 4l-1 0zM167 659l-5 -4l0 0l4 -4l4 0l1 5zM345 713l5 -1l3 1l-1 3l-5 4l-2 -1l0 -1zM517 905l2 -5l-5 -3l-1 1l-1 8l1 0zM153 695l6 0l0 4l-2 2l-4 -2zM292 732l5 2l1 -4l-3 -3l-1 1l-2 3zM351 950l5 -3l3 2l-1 4l-4 2l-3 -1l-1 -1zM184 975l-3 7l0 0l-5 -3l4 -5l3 0zM209 815l-5 -3l0 -2l1 -2l4 1l1 3zM398 1000l-1 1l-6 -4l-1 -2l0 0l4 -2l4 1zM156 786l-5 -2l0 -5l4 -1l3 4zM143 896l2 -1l2 -6l-3 -1l-6 4l0 1zM350 753l-3 -5l-2 -1l-3 7l3 2zM175 997l3 2l-2 6l0 0l-6 -2l0 -1l4 -5zM459 686l-4 -4l-3 1l-2 7l3 2l1 0zM473 936l4 -6l4 0l1 7l0 0l-5 2l-3 -1zM545 743l0 5l5 1l1 0l0 -7l-1 -1zM236 752l5 1l1 1l-1 4l-6 1l-1 -4zM450 945l3 -2l3 0l3 6l-7 1l-2 -4zM172 699l0 -3l-2 -2l-4 0l-1 1l0 4l4 2zM230 720l-2 5l0 1l4 0l4 -5zM173 642l-6 -3l-3 2l3 6l3 0l3 -3zM206 750l0 -2l3 -4l1 0l3 2l-2 5zM117 723l-3 6l5 4l3 -5l-3 -4zM298 792l4 1l2 -2l0 -2l-4 -3l-2 0zM148 784l0 -5l-3 -1l-3 2l1 5l1 1zM293 977l-2 -1l-1 -5l0 0l7 -1l1 1l-1 5zM124 980l-5 1l-1 5l1 2l6 -1l1 -1zM255 750l-3 3l3 4l4 -2l0 -2zM369 812l-4 -3l-4 2l0 5l5 0zM441 940l4 4l0 1l-5 3l-4 -3l0 -2zM186 963l-6 -5l-2 1l-1 5l3 3l4 0zM543 789l2 5l-2 6l-2 0l-4 -2l-1 -5l5 -4zM357 640l3 -3l4 2l1 4l-4 2l-4 -2zM255 795l0 -1l0 0l-5 -3l-4 2l1 3l3 2zM365 961l0 2l-6 3l-2 -6l3 -3zM445 630l-4 -3l-3 0l-1 2l0 4l5 2l3 -1zM527 978l-4 -5l4 -4l5 4l-5 5zM361 721l-3 -4l0 -2l3 -2l4 4l-1 3zM191 965l-1 4l1 1l2 1l4 -1l0 -3l-3 -3zM116 757l-14 -4l-10 0l23 10l2 -4zM158 921l3 7l1 1l2 -1l3 -5l-2 -4l-5 0zM420 666l4 2l-2 4l-4 1l-1 -6l0 0zM524 940l-1 -5l-2 -2l-5 2l1 5l6 1zM351 820l0 4l5 3l1 -1l0 -6zM160 795l-3 6l-3 -1l-1 -3l4 -4zM268 695l4 -6l-4 -3l-3 1l-1 6zM545 952l7 -4l3 3l-4 6l-5 -2l-1 -1zM523 637l0 6l-5 2l-2 -4l4 -4zM331 682l0 6l1 1l6 -4l-3 -4zM368 611l-2 3l1 4l6 -1l1 -5l0 0zM463 622l-2 -4l-6 0l0 6l4 1zM214 734l1 0l3 1l-2 5l0 1l-4 -2zM231 731l1 3l-3 1l-3 -2l2 -3zM423 996l-5 3l-2 -1l-1 -5l1 0l6 0zM376 864l4 2l1 -1l1 -4l-4 -2l-2 1zM220 782l-4 -2l-2 2l1 4l1 0zM250 988l4 -2l3 2l1 1l0 3l-5 1l-3 -2zM379 808l1 -5l3 -3l4 2l0 0l-1 6l-6 0zM453 923l0 -5l4 -2l2 1l1 4l-2 2l-5 1zM463 845l1 5l5 -2l1 -2l-4 -3zM516 997l0 3l0 0l-8 -1l3 -6l1 -1l1 0zM354 872l-8 -1l0 -1l4 -6l3 0zM237 819l-1 3l3 2l3 -5zM251 831l2 3l-4 4l-2 -1l-1 -4l5 -2zM511 656l4 -2l2 4l0 2l-4 2l-3 -2zM439 704l0 -8l-4 1l-3 4l6 4zM378 967l3 -3l4 2l-2 4l-3 0zM279 790l3 2l2 0l0 -6l-2 0l-2 0zM368 721l1 -3l4 -2l1 0l0 5l-5 1zM476 712l2 2l2 1l4 -4l-1 -5l-5 -1zM287 643l2 0l4 4l-1 3l-5 0l-2 -3zM314 642l3 -3l4 5l-1 2l-2 1l-4 -2zM290 915l4 0l2 3l0 2l-4 2l-3 -5zM186 932l6 2l0 1l-2 4l-6 -1zM532 1006l4 -5l4 2l0 2l-3 4l-4 0zM238 956l2 4l-3 4l-3 -1l-1 -4l5 -3zM245 775l2 -3l-2 -4l0 0l-5 3l4 4zM463 661l-1 7l-3 1l-6 -5l4 -5l2 0zM274 703l-4 -1l-2 4l4 4l3 -4zM306 672l6 -6l2 1l1 2l-3 6l-5 -2zM525 728l-7 -1l-3 6l6 1zM327 749l0 -1l-3 -4l-4 1l0 6l1 1zM157 982l-6 -2l0 -1l2 -6l5 1zM498 694l-6 -1l-1 5l7 3l1 0l0 -1zM218 926l4 -2l2 3l-1 4l-1 0l-4 -3zM208 778l1 -4l4 -1l1 5l-2 1zM215 989l4 -2l0 -5l-5 1l0 4zM241 855l0 6l-3 1l0 0l-4 -6l2 -2zM270 645l-4 5l0 0l7 2l1 -4zM223 684l4 4l2 -1l2 -5l-1 0l-6 -1zM367 680l-3 -1l1 -5l2 -1l1 0l2 5zM225 886l-5 3l-3 -4l3 -4l5 1zM542 676l2 -2l3 0l4 5l0 1l-5 3l-1 0zM469 835l4 -1l2 3l-1 5l0 0l-5 -3zM190 717l4 1l1 -1l0 -4l-1 -1l-3 0l-1 5zM248 937l5 -2l1 -1l-5 -4l-1 1l-1 5zM276 842l5 1l1 5l-5 0l-2 -5l1 -1zM458 653l-2 0l-4 -3l3 -5l3 0l1 2zM412 735l-5 0l-2 -2l4 -5l4 0l0 7zM252 918l-4 -4l1 -2l2 -2l4 1l1 6zM272 762l-2 -2l-1 -1l5 -5l0 0l3 6zM172 736l-2 -4l-3 2l0 3l3 1zM427 818l2 1l0 5l-4 1l-4 -4l1 -2zM344 699l5 1l2 -3l0 -1l-5 -3l-2 6zM385 669l5 -2l1 1l0 4l-1 1l-4 -1zM119 823l-2 5l2 2l3 0l3 -5zM440 991l4 2l7 -3l-1 -1l-6 -3l-4 4zM201 822l6 -3l0 0l-5 -4l-3 3l1 3zM280 807l-2 -4l-5 1l0 5l6 0zM502 729l0 -6l-4 -1l-3 4l3 4zM159 814l-3 3l4 4l3 -2l0 -2zM325 966l4 -5l-4 -5l-4 4l3 6zM183 881l3 7l2 0l4 -5l-2 -3zM181 761l-4 0l0 7l4 0l2 -4zM281 674l6 -1l2 2l0 2l-4 5l-2 0l-2 -7zM149 762l-3 1l-1 -1l-1 -4l4 -5l5 4zM475 901l-3 1l-1 7l5 1l3 -6zM193 736l3 1l-2 4l0 0l-4 -3zM459 706l-5 -1l1 -6l1 0l5 2zM294 765l6 -1l0 0l-1 5l-4 0zM178 662l-4 4l-5 -3l0 -1l4 -3l5 2zM357 697l5 3l3 -5l-6 -2l-2 2zM172 814l-5 2l0 3l5 3l0 0l2 -4l-2 -4zM124 855l-2 0l-2 -3l1 -4l1 0l4 3l0 1zM499 617l-6 1l-1 -2l3 -7l5 6zM334 714l6 3l1 -4l-2 -2l-4 1zM298 849l5 -1l1 1l-2 6l-2 0l-2 -5zM154 999l0 -4l5 -4l2 7l-7 1z" fill="#a8703e" stroke="#a8703e" stroke-width="1.5" stroke-linejoin="round"/>
<path d="M378 617l1 -5l7 0l0 1l0 6l-6 0zM174 983l5 3l-3 5l-1 0l-4 -5l2 -2zM170 925l5 2l-3 6l-5 -3zM554 684l6 5l-6 5l-1 -1l-3 -6zM269 852l1 -1l2 -2l-1 -4l-6 2l1 2zM506 655l-5 -3l-2 1l-2 5l5 3l4 -2zM325 720l-7 2l-1 -5l3 -3l6 3zM419 688l0 0l-5 -5l-4 7l3 1zM442 690l-2 -9l0 -1l3 -1l5 3l-1 7zM515 619l6 -3l-4 -4l-4 1l-1 2zM473 688l4 -3l0 -6l-1 -1l-3 0l-2 7zM334 953l-5 1l0 0l3 5l2 0l2 -4zM204 731l2 -1l4 3l-2 5l0 0l-5 -3zM229 1005l0 3l-5 3l-2 -2l2 -5l2 0zM536 740l-6 6l0 1l0 0l9 2l1 -1l0 -6zM448 625l-5 -3l3 -5l3 -1l2 2l0 6zM450 832l-1 -5l-5 -2l-4 4l1 1l0 1l8 2zM171 790l-1 -6l6 -1l0 0l2 4l0 1l-2 2zM467 977l3 -3l-2 -4l-5 0l-3 5l1 1zM275 672l-1 -5l-4 1l-1 4l1 2l5 -1zM216 754l0 -1l2 -5l0 0l3 0l1 4l-2 2zM365 868l-7 3l0 0l-1 -8l2 -1l2 0zM151 837l-2 2l-3 -1l-2 -4l4 -2l3 2zM451 718l5 0l2 -5l0 -1l-6 -2l-1 0zM238 938l-2 -3l3 -6l4 1l0 7zM154 734l-7 3l2 6l6 -3zM505 884l-3 6l1 2l6 1l2 -1l0 -4l-2 -3zM357 937l1 6l4 2l2 -1l2 -6l-3 -3l-4 0zM159 961l-3 0l-2 5l1 2l4 1l2 -1l0 -1zM274 639l6 0l1 2l-1 3l-3 1l-4 -3l0 -3zM340 660l0 -3l-4 -2l-5 4l0 0l3 4l2 1zM141 791l-1 -1l-4 2l-1 4l5 1l3 -3zM165 779l0 -5l-2 -2l-3 2l-1 2l2 4zM204 895l3 4l-5 4l-4 -2l1 -3l3 -3zM228 960l-3 -2l-5 3l2 5l1 1l5 -3zM290 911l-1 -7l1 0l6 3l-1 4zM544 636l2 -3l1 -1l6 1l0 0l0 6l-2 2l-3 1l-3 -3zM527 769l0 6l6 0l2 -7l0 0l-5 -1zM177 845l-4 -3l1 -2l5 -2l2 4zM312 649l4 2l-4 7l-3 -3l0 -4zM543 850l3 -6l3 0l3 6l-1 4l-4 0zM431 738l6 -5l1 0l2 8l-9 0zM425 807l1 7l-5 1l-3 -6l1 -1l6 -1zM315 999l0 0l0 5l-3 3l-4 -4l0 -2l0 -1zM181 806l5 3l2 -3l0 -3l-2 -1l-6 1zM180 849l4 -3l4 1l0 2l-2 4l-3 0l-3 -1zM373 822l4 -4l-1 -4l-1 -1l-2 1l-3 4l3 4l0 1zM523 982l-5 -7l-1 0l-4 2l1 8l1 0zM329 817l-1 -1l-4 0l-2 5l4 4l1 -1zM285 770l5 2l2 -2l-1 -5l-3 -1l-2 1zM277 747l-2 -6l2 -2l5 3l1 2l0 1zM287 734l-3 5l-5 -3l0 -2l3 -3l4 2zM266 876l4 3l1 0l2 -7l-6 -2l-2 5zM293 891l0 -6l5 0l0 6zM220 898l4 2l-1 4l-4 2l-2 -5zM233 621l4 -6l-2 -1l-5 0l0 0l0 4zM473 656l5 3l3 -1l-1 -6l-5 -2l0 1zM245 849l4 0l1 -3l-1 -4l-3 0l-2 2zM157 769l-5 -4l4 -5l1 0l3 4l0 3zM491 766l3 1l5 -4l-4 -4l-5 2zM279 991l2 -4l-1 -3l-4 -2l-2 4l4 5zM292 936l-2 1l-6 0l-1 -5l6 -2zM508 663l2 2l0 7l-1 0l-5 -3l0 -4zM385 865l4 2l4 -2l0 -2l-4 -4l-3 2zM358 998l-1 5l1 1l1 0l5 -3l-3 -3zM196 822l-1 -3l-5 -2l-1 2l0 2l3 2zM381 813l5 0l3 3l0 0l-1 3l-1 0l-5 -2zM502 854l-3 -3l2 -6l3 0l3 2l-1 7l-1 0zM540 927l0 -6l-2 -2l-5 1l1 6zM329 977l-4 -4l-1 0l-3 1l-1 7l1 1l3 0zM175 597l-2 15l4 4l3 -3zM498 869l-1 -4l4 -4l4 0l1 6l-5 4l-3 -1zM221 821l1 -5l-2 -1l-4 1l-2 2l0 1l1 2l5 0zM131 717l1 2l1 4l-3 4l-4 -1l-2 -5zM176 824l2 -4l5 0l1 2l-4 4zM398 979l4 3l0 5l-2 1l-4 -1l0 -6zM416 1004l-3 -2l-5 3l3 4l3 0l3 -3zM309 962l0 0l0 6l-1 1l-5 -1l0 -1l0 -3zM134 971l-1 2l-6 1l-2 -5l5 -2zM211 679l5 -5l2 0l2 5l-2 3l-2 1zM232 851l-2 2l-4 1l-3 -3l3 -4l5 0zM476 990l8 -3l0 1l-1 8l-5 0zM196 931l2 -4l4 -1l2 5l-4 3l-3 -1zM136 713l5 -6l2 1l4 5l-2 1l-8 1l-1 -2zM306 856l3 2l3 -1l3 -4l-2 -3l-2 -1l-3 1zM148 682l-2 5l-4 1l-1 -1l0 -5l2 -2zM208 675l4 -4l-3 -4l-4 2l3 6zM126 629l-5 0l0 1l1 5l6 0zM417 643l-3 -5l1 -3l4 -1l4 5zM294 677l6 4l2 -6l-1 -1l-2 -1l-5 3zM322 772l3 -4l3 0l4 4l-4 4l-4 -1zM498 1007l0 -4l-3 -2l-5 1l0 7l0 0zM246 1002l-3 -5l4 -2l3 2l-1 4zM318 867l-4 -6l-3 1l0 6l1 1l5 0zM269 771l1 -1l0 -5l-3 -2l-3 4l3 4zM453 980l-1 -1l-4 -2l-3 3l0 3l6 2zM453 930l6 0l1 4l-3 4l-3 -1l-2 -6zM211 757l0 -1l-6 -1l-1 1l0 4l2 1l4 0zM443 703l0 -6l0 -1l4 0l2 2l-1 6l-1 0zM352 983l4 -1l1 -4l-2 -3l-2 1l-3 3l1 3zM169 726l-1 2l-3 1l-4 -1l1 -3l4 -2zM206 848l-1 3l1 1l3 2l5 -3l-3 -4zM223 743l-3 -1l1 -6l2 -1l3 3l0 3zM379 654l3 -1l2 -7l-4 -1l-6 2l1 5zM266 994l-1 -1l0 -3l6 -1l4 4l-3 3zM346 1004l-2 15l9 -11l-1 -2zM247 711l4 5l-2 2l-5 -1l0 -3zM288 998l-6 -4l3 -4l5 0l1 0l-1 6l-2 2zM257 964l-4 -2l-1 1l-1 6l2 1l4 -1zM265 675l-3 0l-2 5l4 2l3 0l0 -5zM404 637l3 -1l2 -4l-3 -5l-2 -1l-3 2l-1 6zM260 888l2 1l3 -1l2 -4l-4 -3l-4 5zM120 777l-1 -3l-3 -2l-4 4l4 4l0 0zM537 952l-3 -5l-4 -1l-2 1l-1 8l2 2l8 -4zM325 882l-1 1l2 5l7 -1l1 -4l-3 -2zM255 689l3 3l2 -1l1 -5l-3 -1l-2 0zM446 957l2 -5l-2 -3l-4 2l0 4zM553 728l5 -3l16 7l-18 2l-1 -1zM289 707l4 1l-1 4l-3 1l-2 -4zM284 810l5 -1l1 5l-2 3l-4 -1l-1 -5zM393 953l2 6l5 0l0 -8l-4 -1l-3 2zM364 765l3 -5l-1 -2l-4 -1l-1 1l-1 5zM225 747l1 4l4 1l2 -2l0 -3l-4 -2zM369 696l0 1l-3 6l0 1l6 1l2 -4zM290 700l3 -3l4 4l0 3l-2 1l-5 -2zM131 785l3 3l4 -2l-1 -5l-2 -1l-4 2zM536 600l3 12l-5 4l-3 0l-1 -1zM361 854l-2 0l-2 -6l3 -2l3 3l-1 4zM428 924l3 -4l4 1l1 2l-2 4l-1 0zM431 713l3 -1l2 -4l-6 -4l-2 1l0 6zM216 668l-4 -5l1 -1l4 -3l4 4l0 3l-2 2zM505 875l2 3l3 1l4 -4l0 -2l-5 -2zM357 729l-6 0l0 3l4 4l3 -3zM179 883l-4 4l4 6l3 -4l-2 -6zM483 748l3 7l1 1l6 -3l1 -4l-3 -4l-4 0zM448 868l6 1l2 3l-3 3l-2 1l-4 -4zM328 640l-3 1l-5 -5l0 -1l7 -2l0 0zM332 756l-3 6l-4 0l-3 -6l7 -3zM304 892l5 -2l1 -4l-2 -2l-4 1l-1 0l0 6zM359 929l-4 -7l4 -3l1 0l5 4l-2 6zM209 682l5 4l-1 3l-5 2l-3 -3l1 -4l2 -2zM419 1009l-2 3l4 8l3 -9zM280 868l3 2l8 -3l0 -2l-6 -4l-3 2zM382 748l3 5l1 0l5 -4l0 0l-2 -3l-3 -1zM160 833l-2 1l-1 4l6 4l2 -2l1 -2l-2 -4zM531 855l0 0l-7 1l-1 2l2 4l4 1l1 0zM145 822l1 5l-4 2l-2 0l-1 -3l4 -4zM518 624l5 -3l1 0l1 1l-1 8l-1 0l-3 0l-3 -5zM478 894l6 -3l0 0l2 1l-1 9l-3 0l-5 -3zM477 696l0 -2l4 -3l5 1l0 0l0 5l-2 2l-5 -1zM323 677l-6 4l-2 -4l3 -6l5 4zM202 858l-4 4l4 4l4 -4l0 -2zM347 903l-1 -6l-5 0l-2 3l4 5l1 0zM515 1005l-3 16l-7 -13l1 -3l1 -1zM336 645l2 4l4 1l2 -1l0 0l-2 -7l-1 0zM193 942l2 3l6 -1l-2 -6l-3 -1zM155 1003l6 -1l1 1l1 2l-1 1l-6 2l0 0zM478 764l-1 3l1 3l4 1l4 -4l-2 -5l-1 0zM265 1003l3 2l3 -2l0 -3l-6 -1zM265 699l1 2l-1 3l-3 1l-3 -2l1 -4l2 -1zM237 748l4 1l1 -6l-2 -2l-4 5zM142 952l-2 4l-6 -1l0 -1l2 -4l4 0zM346 675l1 4l-4 3l-1 0l-3 -4l1 -5zM545 774l-2 7l0 0l-2 0l-4 -5l2 -7l3 0zM495 815l6 1l1 2l-4 6l-4 1l-1 -8zM448 724l-1 3l6 5l1 0l4 -5l-2 -3l-6 -1zM535 828l5 2l1 6l-7 -1l0 -6zM144 745l0 0l-2 -6l-1 -1l-5 0l-2 3l1 4zM470 637l4 3l-2 4l-1 0l-5 -1l-2 -2l1 -2zM331 627l0 0l-2 -7l5 -1l5 5l-4 3zM287 892l-5 -3l0 -3l3 -2l3 0l0 1l0 6zM187 999l-5 1l-1 6l5 2l1 -1l1 -6zM121 927l1 0l0 -1l3 -7l0 0l-2 -1l-4 2l-1 4zM140 1007l-1 1l-5 -2l0 -3l5 -4l3 3zM121 673l-2 0l-1 1l2 6l5 -1l1 -2zM210 635l2 -6l-6 -2l-3 4l0 0zM235 926l1 1l-3 7l-5 -2l1 -4zM219 655l5 4l5 -3l-2 -5l-3 -1l-4 4zM378 916l4 -3l4 4l0 2l-2 2l-4 1l-2 -3zM123 814l-1 4l0 0l4 2l1 0l2 -6l-1 -1zM328 615l0 -1l-1 -2l2 -9l6 8l-2 3zM459 999l5 6l-3 4l-6 -1l-2 -2l5 -7zM448 837l-7 -2l0 8l6 -1l1 -2zM346 640l3 7l4 -3l0 -4l-5 -1zM260 626l-1 1l-5 7l3 2l6 -2l-2 -7zM178 922l-2 1l-4 -2l-2 -4l2 -2l4 0l3 6zM277 1009l-4 -3l-3 2l3 14l1 4l3 -8zM410 965l0 0l5 7l1 0l5 -4l-1 -6l-6 0zM298 874l-2 -1l-3 7l0 1l6 0l1 -1zM146 934l1 -1l-2 -7l-1 -1l-5 2l-1 3l1 4l4 2zM396 819l7 2l-1 5l-2 1l-6 -4zM524 829l4 -1l0 6l-2 2l-3 0l-2 -3zM279 938l-1 -5l0 -1l-6 1l-2 2l2 6l1 1l5 -2zM461 819l3 -3l-1 -5l-6 0l-2 3l2 5zM190 798l2 2l5 -2l-1 -6l-2 0l-4 4zM215 637l0 0l2 -6l1 0l5 4l-2 4zM372 856l2 -2l0 -3l-3 -2l-3 1l-1 5zM182 665l-5 4l0 1l5 4l5 -4zM382 937l5 -4l-3 -6l-3 0l-2 7zM361 736l-3 3l0 0l4 3l5 -3l0 -1l-1 -2zM501 954l4 3l3 -1l1 -1l0 -6l-6 -3l-2 2zM187 928l-1 -3l0 0l4 -3l4 4l-2 3zM511 855l7 1l1 -3l-2 -6l-5 1zM226 796l2 -1l4 2l-1 4l-3 0zM233 922l-5 2l-3 -3l0 -2l5 -2l3 3zM268 638l-4 -1l-6 3l2 6l2 1l5 -5zM154 951l3 3l3 1l3 -3l-2 -6l-4 1zM241 840l2 -2l-2 -4l-1 -1l-4 4l0 3zM189 749l0 0l3 -5l-5 -3l-2 0l0 5l3 3zM317 875l-4 0l-1 5l2 1l4 0l1 -2zM183 775l-2 -3l-4 -1l-1 1l2 6l1 0zM405 1008l2 3l-4 6l-3 -8l1 -1l1 -1zM335 670l-3 0l-4 4l1 1l2 2l3 -1l1 -4zM525 752l0 0l-5 5l2 5l2 1l3 -2l-2 -9zM397 923l-5 -3l0 -2l4 -2l3 0l2 5l0 0zM385 785l-5 -1l-3 4l5 4l3 -6zM300 915l5 -1l-2 -7l0 0l-3 1l-2 5zM116 649l-23 -6l15 -2l8 2l1 3zM364 950l-1 4l4 3l4 -3l0 -1l-5 -4zM132 869l-5 4l0 1l0 0l7 3l3 -2l1 -4l0 -1l-3 -2zM210 706l-2 4l1 2l3 0l2 -4l-1 -2zM171 940l-7 1l0 -7l1 -1l6 3l1 3zM491 811l-1 -7l-2 -1l-5 3l1 6l5 0zM466 684l2 -8l-4 -2l-3 1l-2 4l3 5zM286 832l1 4l-4 2l-5 -2l1 -4zM469 743l-6 1l-1 4l3 3l3 -1l3 -4zM288 792l0 -6l3 -1l3 1l-1 6l-2 1zM273 611l0 0l6 -10l1 11l-5 0zM256 620l0 1l-6 -2l-1 -3l3 -2l2 1l3 3zM257 930l0 1l-6 -4l2 -4l4 -1l1 1zM505 796l3 -5l0 -1l-8 -4l0 0l-2 2l3 7zM315 1010l0 13l1 4l5 -17l-3 -2zM318 944l-5 -1l-4 4l3 3l6 -4zM348 735l-5 4l3 3l2 0l3 -3l0 0zM349 635l1 -5l5 -1l2 5l-3 3zM119 1007l5 1l2 -2l0 -3l-1 -1l-7 -1l0 0zM115 862l-15 -2l-7 -2l23 -4l2 4zM138 668l5 4l5 -4l0 -2l-3 -2l-6 2l-1 1zM239 724l0 0l2 6l-2 3l-3 -1l-2 -3zM527 636l1 -1l8 2l1 4l-6 4l-3 -2zM102 743l13 -3l1 -3l0 -1l-5 -4l-34 10l16 2zM480 671l2 -6l3 -1l3 0l2 9l0 0l-8 0zM323 838l-6 5l-2 -1l1 -6l6 0zM303 984l-5 -4l-3 1l0 5l0 0l6 0zM409 866l-1 -7l6 1l1 2l-1 3l-3 2zM190 977l3 7l-4 2l-4 -2l3 -8zM285 919l-4 0l1 7l0 1l5 -2l1 -1zM405 689l-3 -4l3 -6l6 1l0 1l-4 8l-2 0zM169 753l-5 0l-2 3l3 3l5 -2zM149 940l3 4l-2 5l-3 -1l-2 -2l1 -5zM188 756l3 6l0 1l-5 0l-1 -3l3 -4zM529 926l-3 3l-2 -2l-1 -4l4 -3l2 1zM506 612l1 -2l-8 -22l0 19l4 6zM199 912l1 -3l0 -2l-4 -2l-5 3l2 5zM353 799l-3 -2l-1 -3l6 -2l3 3zM423 677l3 3l-2 3l-2 1l-4 -5l-1 0l1 -1zM355 887l0 -2l3 -6l5 4l-1 4l-2 1zM318 696l0 5l-1 1l-4 0l-1 -3l5 -4zM548 655l0 -6l4 0l3 6l-3 3zM208 727l1 -3l6 -1l0 1l-1 5l-2 0zM211 969l6 -1l-2 -5l-2 -1l-3 1l-1 2zM532 684l5 3l4 -2l-2 -7l-5 1zM402 832l-1 4l2 2l6 -1l0 -2l0 -1l-5 -3zM487 947l-3 -4l-5 2l1 7l5 0zM370 828l0 7l-7 0l-2 -4l0 0l1 -2l8 -1zM439 663l3 3l-2 7l-2 1l-5 -7l4 -4zM294 959l-4 3l-1 5l8 -1l0 -3zM345 817l2 2l0 4l-5 3l-1 -1l0 -7l3 -2zM529 883l4 -4l5 3l0 3l-2 3l-6 0l-2 -3zM320 741l3 -1l2 -5l-7 0l-1 3zM450 587l2 11l-3 14l-4 0l-3 -3zM469 627l-1 5l-5 2l-1 -5l3 -3zM242 804l3 -5l4 2l0 4l-2 2zM193 803l5 -2l3 2l0 2l-2 2l-6 -1zM427 966l4 2l2 -2l-1 -5l-2 -1l-5 1l0 0zM269 864l0 0l6 2l1 0l1 -5l-4 -3l-1 0zM429 902l-3 5l-1 -1l-4 -4l3 -5l1 0zM428 800l3 0l3 -4l-4 -3l-3 2l1 5zM165 618l3 4l1 1l4 0l2 -1l0 -3l-5 -5zM176 812l2 4l5 0l1 -2l0 -2l-5 -2zM444 856l1 1l4 -4l-1 -5l-6 1l-1 0zM205 919l-2 -4l1 -3l6 1l-2 5zM414 909l1 -3l3 -1l4 5l-6 2zM528 682l2 -5l-4 -4l-1 0l-5 4l2 4l3 2zM270 697l1 1l4 1l3 -3l-1 -5l-2 0zM241 850l-5 0l-1 -4l1 -2l5 1l1 5zM309 874l-1 6l-5 0l-1 -7l6 -1zM223 728l-1 3l-2 1l-3 -2l2 -4l4 1zM489 923l6 2l3 -2l-1 -5l-5 -2l-3 3zM233 902l0 3l-2 2l-4 -3l1 -3l3 -1zM503 997l-1 1l-3 -2l0 -5l3 -2l4 2zM416 850l-3 -2l-5 4l0 2l1 1l6 0l2 -4zM336 751l2 0l3 -5l-3 -3l0 0l-4 5l0 1zM315 819l3 0l2 -5l-2 -2l-4 2l0 5zM493 710l4 -5l-7 -3l-2 2l1 6zM126 731l-3 4l0 1l6 1l2 -2l-2 -4zM321 786l1 3l7 -1l0 -2l-2 -5l-4 -1zM495 996l-6 1l-1 -1l1 -7l5 2zM337 849l7 -1l-1 7l-3 1l-3 -2zM428 785l0 3l-4 3l-5 -2l-1 0l6 -6zM553 841l3 6l25 -8l-24 -1zM303 771l1 -6l3 0l4 5l-3 3l-3 0zM130 909l-3 3l-2 0l-3 -5l3 -3l2 1zM345 729l-1 -2l-2 -1l-6 5l0 0l4 4l0 0l5 -4zM216 804l-3 3l2 3l4 0l1 -3zM134 832l-3 3l-2 0l-2 -3l2 -4l1 -1l2 2zM413 647l0 0l-4 -6l-3 2l-2 3l2 4l3 1zM227 666l4 1l3 -2l-2 -5l-1 0l-4 3zM496 944l2 -2l0 -1l-4 -4l-6 2l0 1l3 4zM187 705l3 2l4 0l1 -4l-3 -3l-1 0l-4 5zM290 629l0 0l-4 3l-1 3l2 2l2 0l2 -3zM424 691l1 0l2 -1l4 4l-3 4l-2 1l-1 -1zM265 760l-4 -3l-4 3l0 1l2 3l2 1l4 -4zM338 946l-1 4l2 2l5 0l0 -3l-1 -2zM168 800l-2 -4l-3 1l-3 6l1 1l5 -1zM529 805l5 -3l4 3l-3 7l-1 1l-3 -2zM200 781l-2 -2l-4 1l0 3l2 2l1 1l3 -1zM141 728l0 5l-5 0l-1 -4l2 -3zM519 768l-6 3l0 1l3 3l5 0l0 0l0 -6zM129 778l3 -2l-2 -5l-1 -1l-4 3l0 3zM488 817l-5 0l-4 3l1 2l8 4l1 -1zM205 942l0 0l2 0l3 -3l-2 -4l-2 0l-3 2zM382 640l-1 -7l5 0l3 4l-2 4l-1 0zM259 857l4 -5l4 4l-3 6l-5 -3zM150 999l0 -4l-4 -3l-3 1l-1 3l3 3zM512 779l-2 7l-8 -4l7 -6zM548 861l3 0l3 2l-4 6l-2 0l-2 -3zM443 971l2 3l-4 4l-6 -2l0 -3l2 -2zM329 646l-3 1l-2 3l4 5l5 -4l-2 -4zM347 613l-3 -3l6 -12l1 11l-2 3zM379 703l5 4l-3 3l-4 1l0 0l-2 -4l2 -4zM493 907l5 -2l4 4l-3 4l-5 -2zM412 987l0 0l-4 -1l0 -4l5 -3l1 0l0 2zM538 753l-2 8l-5 -1l-1 -9zM294 779l0 -4l1 -1l4 0l2 2l-3 4l-2 1zM282 656l2 -4l-2 -3l-3 1l-2 4l2 3zM318 929l1 -5l-6 -1l-3 5l2 2zM296 1007l2 0l4 -4l0 -3l-8 0l-2 2zM241 639l5 -4l-3 -4l-6 0l-2 2l5 6zM305 980l-4 -3l1 -5l5 1l-1 7zM377 825l7 2l2 -4l-6 -3zM397 778l-3 1l-2 3l0 0l5 3l0 0l1 0l1 -5l0 -2zM231 716l-1 -2l3 -4l4 3l0 4l0 0l0 0zM77 921l33 -6l5 4l0 5zM283 950l-2 4l-1 0l-4 -3l0 -4l4 -1zM371 980l0 6l2 0l5 -1l0 -1l-3 -4zM156 986l-6 -1l-2 4l4 3l5 -4l0 0zM367 690l0 0l-1 0l-6 -1l0 -5l2 -1l4 2zM555 755l0 4l2 2l16 -5l-17 -2zM424 592l-2 13l3 7l4 -1l1 -1zM372 629l3 -1l1 -5l-2 -2l-6 1l0 0zM532 737l-5 5l-2 -6l3 -5l1 0l2 3zM300 639l-1 -1l-4 -1l-3 3l4 4l2 0zM325 724l-5 1l-2 3l1 1l7 1l1 -1l1 0zM511 866l5 2l3 -3l-2 -4l-7 -1l0 0zM474 628l2 -1l4 3l-1 5l-2 1l-4 -3zM283 774l0 6l3 1l3 -1l0 -5l-5 -1zM526 666l5 -5l-2 -3l-6 2l-1 2l3 4zM216 840l3 0l2 4l-2 3l-1 0l-3 -3zM150 1003l-4 0l-2 5l7 1l-1 -6zM226 871l1 5l-2 2l-4 -1l-1 -5l0 -1l3 -1zM548 801l3 2l4 -2l-1 -4l-4 -1zM241 981l2 -5l-5 -2l-2 5l3 2zM395 852l-2 1l0 3l3 3l5 -3l0 -2l-2 -2zM302 783l4 2l3 -2l-1 -4l-3 0zM550 908l3 -5l-2 -4l-7 2l-1 3l1 2zM123 834l2 4l-4 3l0 1l-3 -2l2 -6zM369 824l-7 2l0 -6l0 0l4 0zM127 858l3 4l4 -1l0 -3l-4 -3zM440 898l5 0l0 -5l-1 -1l-4 2zM501 687l0 -3l-6 -1l-2 5l0 0l6 1zM302 701l3 -2l3 1l1 4l-3 3l-5 -3zM161 853l-6 2l0 3l2 2l7 -1zM342 929l2 -6l-7 -1l-1 3l0 1l4 3zM362 979l4 0l1 1l0 6l-3 1l-4 -4zM241 786l3 -5l1 0l3 3l0 3l-4 2l-2 0zM340 801l-4 -1l0 0l0 -5l7 0l0 0l0 3zM251 878l0 1l5 4l3 -5l0 -1l-7 -1zM183 919l-3 -5l4 -4l2 0l2 5l-1 2zM163 637l-2 -1l-1 -5l5 -3l1 1l-1 6zM183 943l1 0l5 1l1 2l-1 2l-5 1zM420 692l1 7l-4 0l-2 -5zM301 921l5 5l0 0l3 -5l-1 -3l-2 -1l-5 2zM449 745l5 3l2 -1l2 -4l-4 -4l0 0l-5 5zM248 728l-3 1l-3 -6l1 -1l6 1l0 1zM272 962l4 1l2 -5l-4 -3l-4 4zM492 974l0 -4l-2 -2l-5 1l-2 4l4 5zM373 694l0 0l3 5l3 -1l1 -3l-3 -3zM351 806l-5 5l-1 -1l-2 -5l4 -4l4 3zM245 653l3 6l2 1l2 -8l-7 0zM158 674l3 -1l4 4l-3 5l-6 -3zM262 976l-2 7l-3 -1l-2 -6l4 -2zM380 689l3 2l3 -1l0 -3l-5 -2zM437 762l-3 -6l6 -2l3 6zM398 794l-4 5l0 0l6 3l0 0l1 -3l-3 -5zM332 818l-1 7l6 0l0 -7zM311 797l0 3l-6 2l-1 -5l3 -2zM127 784l-5 3l-3 -4l4 -4l4 2zM301 689l1 1l1 5l-3 2l-4 -3l0 -2zM338 616l1 -2l2 -1l4 3l-3 4l-1 0zM304 651l0 4l-5 1l-2 -4l1 -2l2 -1zM261 731l2 1l5 -3l0 -2l-5 -2l-3 2zM193 919l1 -2l5 -1l3 5l-1 1l-4 1zM198 975l4 3l-3 6l-3 -1l-3 -7zM268 747l4 1l1 0l0 0l-1 -6l-4 1l-1 1zM411 928l6 -3l-3 -5l-6 2l-1 1zM239 677l-4 1l-1 -1l-1 -6l4 -3l1 1l2 7zM382 960l0 -2l7 -3l2 6l-1 2l-3 0zM362 725l3 0l2 1l0 6l-5 0l-2 -4zM521 749l-8 -2l-1 1l2 5l3 1zM511 622l-3 -4l-3 1l-1 1l2 5l5 -2zM497 954l-5 1l-2 -2l1 -4l5 0zM120 893l1 6l-2 2l-2 0l-2 -4l3 -4zM350 778l6 3l3 -3l0 -1l-5 -3zM550 772l-3 -5l5 -3l2 2l0 5zM169 780l0 -7l4 0l2 7l-6 1zM450 863l-1 -3l3 -3l5 2l0 1l-2 4zM278 872l3 2l2 5l-4 3l-3 -2l1 -7zM195 865l0 0l-2 4l1 3l6 -2l0 -1zM278 702l3 -3l4 1l0 3l-2 3l-4 -1zM451 823l-5 -2l-1 -3l6 -2l2 5zM347 943l2 4l5 -3l-1 -5l-3 0zM284 983l4 -3l2 1l0 5l-5 0zM325 932l4 -5l0 -1l-6 -2l-1 0l0 5zM505 907l3 -1l0 -8l-6 -1l-2 5zM366 872l-6 3l0 1l5 3l4 -2l-2 -5zM206 704l-2 5l-5 0l0 -1l1 -4l5 -1zM220 909l0 2l4 3l4 -2l0 -2l-3 -2zM327 1004l-4 2l-4 -2l0 -5l6 1zM520 807l0 6l7 -1l-1 -6l-4 -1zM211 946l2 -4l5 0l1 3l-5 3zM424 956l0 -6l0 -1l6 0l-1 6zM404 782l5 1l2 4l-8 0zM307 806l1 2l4 2l3 -3l0 0l-3 -3l-5 2zM333 904l1 6l1 1l4 -3l-3 -5zM351 995l3 2l-1 5l-6 -2l0 0l0 -1zM489 770l-4 4l1 1l7 1l0 -4zM290 718l4 -1l2 2l-1 3l-2 0l-4 -3z" fill="#9a6236" stroke="#9a6236" stroke-width="1.5" stroke-linejoin="round"/>
<path d="M536 856l-1 8l7 0l2 -6l-5 -3zM279 812l1 5l-5 3l-1 0l-3 -6l2 -2zM363 799l-2 0l-5 4l1 2l2 2l4 -2zM219 938l1 -3l-5 -4l-4 3l2 4zM144 969l-3 3l-1 2l1 1l6 2l3 -5l-2 -2zM304 669l5 -6l0 0l-4 -2l-5 1l0 1l1 5zM125 691l-6 -2l-1 -2l2 -3l6 -1l1 6zM317 892l3 -1l1 -2l-2 -3l-4 0l-1 4zM489 850l-1 -2l4 -7l5 3l-2 6zM244 736l0 0l2 -3l3 -1l3 3l-1 3l-5 0zM134 769l2 6l3 0l3 -2l1 -5l-2 -2zM177 857l-6 5l0 0l7 5l1 -1l1 -7zM139 960l-6 -1l-1 5l5 4l3 -3zM272 661l1 -2l-1 -3l-7 -2l1 6l2 2zM522 655l6 -1l0 -4l-3 -2l-6 1l0 2zM426 636l-4 -5l3 -3l6 1l0 4l-4 3zM472 883l-1 3l4 3l5 -3l-4 -4zM332 718l-1 1l-1 2l3 6l6 -5l0 -1zM218 855l1 0l2 3l0 6l-3 2l-6 -5l0 -2zM274 912l1 -6l-3 -3l-6 2l-1 1l6 6zM358 621l4 -2l0 0l-1 -5l-5 -2l-2 3zM523 914l-5 -3l-4 1l2 6l4 1l3 -3zM244 866l3 1l1 5l-2 2l-5 -2l-1 -5zM361 627l1 5l5 3l2 -4l-4 -6l-4 2zM394 791l-4 5l-4 -2l0 0l3 -7zM307 954l1 3l-7 2l-3 -3l1 -2l5 -3l0 0zM577 818l82 8l-78 6l-23 -2l-4 -6l0 -3zM185 753l-4 -4l-5 2l-1 1l1 4l1 1l4 0zM286 911l0 -6l-6 2l-1 5l2 1l4 0zM446 759l3 1l3 -7l-6 -4l-2 4zM144 873l8 3l1 0l-3 7l-1 0l-3 -1l-3 -5zM419 759l-1 2l-6 2l-2 -3l2 -6l2 -1zM335 740l-4 -5l-2 1l-2 6l3 3zM539 931l1 1l0 2l-5 6l-5 -1l-1 -6l4 -3zM303 753l0 0l4 -2l3 3l-3 4l-2 0l-1 0zM405 668l6 -1l1 7l-1 1l-6 -1l-1 -1zM298 925l4 4l-4 4l-2 0l-3 -5l1 -1zM119 613l1 2l-3 5l-7 -3l5 -5zM362 974l4 0l1 -5l-1 -2l-5 2l-1 2zM280 625l4 -5l5 6l-6 3zM454 997l-4 6l-4 -1l0 -5l6 -3zM305 819l6 0l-1 -5l-5 -2l-2 4zM459 636l-1 2l-3 0l-5 -3l0 -5l3 -2l4 2zM240 950l6 -3l-1 -5l-1 0l-5 1l-1 2l2 4zM123 698l-1 2l-4 1l-2 -3l2 -5l5 2zM526 724l-8 -1l-2 -6l0 0l2 -2l9 2l1 3l-1 4zM472 861l-1 -7l-6 1l-1 2l0 2l7 2zM515 923l-4 3l1 2l3 1l4 -1l-1 -4zM372 881l3 1l0 1l-4 7l-5 -2l1 -5zM373 806l0 -3l-5 -4l-1 0l0 6l4 2zM428 994l-1 -3l1 -4l2 -1l5 4l0 1l-4 4zM176 952l-2 -1l1 -6l1 -1l3 0l1 6l-2 2zM366 901l-2 -2l-1 -5l2 -2l4 2l2 2l-1 2zM400 701l1 -6l-1 0l-7 1l1 6zM555 979l-2 -6l3 -3l13 3l-13 6zM443 935l5 -2l2 5l-3 2l-4 -3zM256 837l-3 4l1 3l5 -1l-1 -5zM263 741l0 -1l-1 -4l-3 -1l-3 1l-1 4l1 2zM481 610l9 -29l1 7l0 19l-4 6l-5 -1zM434 999l1 2l7 2l0 0l0 -6l-4 -2zM221 797l-3 4l0 0l4 3l2 -2l-2 -5zM548 787l3 4l4 1l7 -7l-14 1zM381 892l-5 1l-1 -2l3 -6l4 4zM490 901l1 1l5 -2l1 -4l-1 -2l-6 -1zM387 1006l2 -5l6 3l-1 2l-5 2zM418 734l-1 -6l1 0l5 2l0 4zM329 793l1 2l0 5l-5 0l-2 -6l0 0zM237 985l-3 -2l-2 1l0 4l4 1zM442 1014l3 -6l0 0l3 1l2 2l-5 14zM543 918l6 -3l-1 -3l-5 -2l-2 6zM396 910l-2 -5l3 -2l2 1l2 5l-1 1zM373 642l-2 -1l-1 -3l3 -4l3 -1l2 1l1 6zM364 792l-2 0l-3 -4l0 -3l4 -3l5 5l-3 5zM438 691l1 0l-3 -9l-5 1l-2 4l5 5zM194 835l0 0l0 6l6 -1l1 -5l-1 -1zM369 1004l2 3l-6 6l-5 -5l6 -4zM378 951l4 -5l5 4l-1 1l-6 3l-2 -2zM230 892l-1 3l-3 1l-3 -2l0 -2l4 -2zM236 952l-5 3l-3 -2l0 -4l5 -1zM120 716l2 1l6 -4l0 0l-4 -5l-4 1l0 0l0 7zM436 613l-1 2l2 6l3 -1l2 -5l-3 -2zM247 925l-2 1l-4 -2l-1 -2l0 -1l5 -5l4 5zM238 830l-1 -2l-4 -2l-2 1l1 6l1 0zM209 878l0 -2l7 -3l1 5l-3 4l-2 -1zM392 826l-3 5l0 3l4 1l3 -1l1 -4l-5 -4zM148 798l2 4l-4 3l-2 -1l-1 -4l3 -3zM118 997l8 1l-1 -7l-5 1zM272 736l-1 2l-4 0l-1 -3l3 -3l3 3zM330 846l-2 -3l-2 -2l-8 6l2 3l3 0zM346 892l2 -3l0 -2l-6 -3l-2 1l-1 3l1 4zM119 873l-4 -6l-16 -1l15 9l5 -2zM343 703l-1 4l2 2l4 -1l-1 -4zM474 785l2 1l1 -1l1 -6l0 -1l-3 -2l-5 4l0 1zM360 672l-6 -1l-2 3l1 3l4 1l1 -1zM444 658l3 3l3 0l2 -4l-3 -4l-2 1zM199 717l0 -5l5 0l1 2l-1 4zM455 911l-1 -5l-3 0l-4 5l4 2zM212 888l1 0l3 4l0 1l-3 3l-2 0l-3 -4zM509 934l-4 7l0 1l5 2l3 -2l-1 -7zM333 944l-1 5l-5 1l-2 -3l0 -3l2 -2l6 2zM297 709l-1 4l3 3l4 -1l1 -2l-1 -2l-4 -3zM530 689l4 2l0 5l-6 1l-1 0l0 -8zM434 644l-2 -4l3 -3l5 2l-1 4zM251 818l7 0l0 4l-4 2l0 0l-3 -6zM459 763l3 -7l-4 -3l-2 1l-2 7l1 3l3 0zM218 794l-3 -3l-1 0l-4 2l0 2l5 3zM293 851l3 6l-3 3l-4 -3l0 -4zM499 831l4 3l-1 4l-3 1l-4 -2l-1 -3l0 -2l1 -1zM124 861l-2 0l-3 3l4 5l4 -4zM294 798l1 4l6 1l0 0l-1 -5l-3 -1zM534 714l0 -2l5 -2l3 4l-1 2l-7 1zM525 879l-5 -5l0 -2l3 -3l6 0l1 6zM330 897l-1 0l-2 -4l0 -1l6 -1l1 3l-1 2zM550 989l4 -2l0 0l3 7l-2 2l-5 0zM475 867l-2 1l-4 6l2 3l5 0l2 -6l-2 -4zM292 954l-2 -2l-4 0l-1 3l3 2l4 -2zM399 933l1 -5l4 -3l4 6l-1 3l-2 0zM493 641l3 -3l4 0l2 3l-3 5l-2 1l-4 -3zM339 702l-1 5l-5 1l-1 -3l3 -4l4 1zM550 723l-2 -4l1 -3l2 0l4 1l0 4l-4 2zM482 865l4 -3l5 3l0 4l-8 -1zM245 815l-1 -4l-4 -3l-3 0l-1 5l1 2l6 1l1 -1zM220 772l-2 0l-1 1l1 4l4 2l0 0l1 -1l-1 -5zM488 637l4 -4l-3 -4l-4 1l-1 5zM183 870l-1 1l-1 4l1 2l1 0l6 -1l1 -2l-2 -3zM418 659l1 -4l-3 -4l-4 3l2 7zM140 859l3 -3l4 0l1 1l0 2l-6 6l-2 -2zM165 864l0 0l0 0l-2 8l0 0l-5 0l0 0l0 -7zM278 978l-1 -1l4 -5l4 0l1 5l-4 3zM116 974l2 3l6 0l0 -1l-2 -6l-2 0zM201 846l-1 4l-6 -2l0 -2l1 -2l5 0zM251 708l4 -1l3 2l-1 4l-3 1l-3 -6zM439 656l3 -5l-2 -3l-5 1l-1 3l3 4zM188 959l-5 -4l2 -2l5 -1l1 5l0 1zM524 801l-1 -7l2 -1l6 1l0 5l-4 3zM381 630l-1 -1l1 -5l5 0l1 0l-2 5zM322 953l0 0l-2 -3l-6 3l0 3l0 0l4 1zM502 627l-2 3l-3 0l-3 -4l0 -3l6 -1zM425 1000l-4 3l0 2l4 2l2 -1l1 -3l0 -2zM335 939l-7 -2l0 -2l5 -5l4 3zM405 947l5 1l2 -2l-1 -6l-1 -1l-2 1zM336 843l-1 -3l6 -5l3 3l0 5l0 0l-8 0zM271 716l-6 3l0 3l4 3l4 -6zM214 720l0 -1l-2 -3l-4 -1l-2 4l2 2zM353 692l2 -3l-1 -4l-3 -1l-4 3l1 2zM428 771l5 0l1 2l-2 6l-1 1l-4 -2l-1 -2zM436 913l3 -3l-3 -5l-3 0l-3 5l2 2zM466 796l2 8l6 -3l0 -8l-2 -1zM116 809l-9 5l10 3l2 -5zM263 785l-2 6l0 0l6 -1l0 -3zM464 697l-6 -3l4 -5l3 0l3 4l0 3zM305 1007l-2 3l6 13l0 -13zM466 951l6 -6l2 1l1 7l-1 1l-1 1l-6 -3zM348 834l-4 -3l0 -2l5 -2l5 3l0 1zM229 792l5 2l4 -3l-2 -3l-2 0l-4 1zM184 789l0 -1l5 -1l2 2l-3 4zM370 653l-1 -5l-1 -1l-4 2l-2 6l3 2zM160 913l5 0l1 -3l0 -5l-3 -2l-5 3l0 2zM258 805l1 -3l-2 -4l-5 3l0 5zM368 751l4 -4l-3 -5l-5 4l0 4zM363 916l4 -4l5 3l0 4l-4 2zM162 879l-4 -1l-3 7l7 3l2 -2zM418 714l-4 -5l4 -4l4 0l1 0l0 7zM524 986l-7 3l4 6l6 -4l-2 -5zM153 917l-6 2l-1 -1l-1 -6l7 -2l2 5zM489 648l4 4l-1 4l-3 2l-3 -1l-1 -5zM325 671l4 -4l-3 -4l-5 3l0 2zM415 611l0 5l5 0l2 -2l-4 -7zM315 824l4 0l4 4l-1 3l-7 0l0 0zM244 675l-2 -7l4 -2l3 1l1 1l0 0l-3 7zM172 890l-3 0l-2 2l0 4l3 2l6 -3l0 0zM244 681l2 6l2 1l2 0l2 -5l-4 -3l-3 0zM328 993l-2 3l-6 -1l0 0l1 -7l3 0zM263 773l-2 -4l-3 0l-2 3l3 5l0 0zM230 741l0 -2l4 -2l3 1l0 1l-4 4zM314 751l2 0l0 -6l-3 -2l-2 1l-1 4zM403 662l-1 -4l3 -3l3 1l3 7l0 0l-7 0zM404 914l2 -2l4 -1l3 3l-1 3l-6 2zM375 996l7 -3l0 0l-3 -5l-5 2zM273 775l1 -1l6 0l-1 6l-2 1l-2 -1zM491 724l-6 0l-2 -4l5 -5l5 1l1 3zM155 923l3 7l-7 1l-1 -6zM380 974l-1 3l3 4l4 -4l-2 -3zM126 879l0 7l5 1l1 -6zM364 710l1 -3l6 1l2 4l-5 2zM255 625l-6 -2l-2 4l3 5l1 0zM340 697l-4 -1l-2 -4l7 -4l1 0l1 3zM334 1007l6 13l1 0l1 -16l0 -1zM298 724l3 4l5 -2l-2 -6l-4 1zM174 828l-1 0l-3 4l2 4l6 -2l0 -1l0 -2zM338 767l-2 0l-3 -3l3 -5l2 0l3 2l0 2zM427 723l0 -4l-2 -1l-4 1l-1 4l4 2zM164 738l-1 -4l-4 -2l-1 0l0 1l1 6l2 1zM171 944l-6 1l0 0l2 5l3 0zM219 763l-1 -3l-3 -1l-1 3l2 4l2 0zM343 969l-2 5l5 2l3 -4l-5 -3zM247 820l3 7l-6 2l-1 -1l-1 -2l3 -5zM401 706l-5 1l-1 1l4 6l1 0l4 -5zM429 880l3 -3l1 -3l-3 -4l-5 3l0 4zM316 775l3 4l-2 5l-4 -1l-1 -5l3 -3zM341 812l-3 2l-5 -1l0 -1l2 -6l4 1zM225 827l3 1l1 5l-6 0l1 -6zM242 1006l-6 2l-1 -1l-1 -4l5 -4l0 0l4 5zM199 891l-3 2l-4 -3l3 -3l2 0zM284 805l4 -1l1 -1l-1 -4l-2 -2l-3 1l-1 3zM468 966l2 -6l-6 -3l-3 6l2 3zM284 1010l4 -5l0 0l4 4l-8 9zM430 840l0 -2l6 -3l0 0l1 8l-1 1l-1 0zM544 1007l5 5l-4 10l-4 -10zM368 767l1 3l5 0l1 -1l0 -5l-4 -1zM538 995l4 2l2 -2l0 -6l-2 -1l-6 3zM145 981l-5 -2l-1 6l2 2l3 -1l2 -4zM159 651l-3 -3l0 -4l4 -2l1 0l2 6zM231 858l3 6l-6 2l-2 -1l1 -6zM349 838l7 -4l3 4l-1 3l-4 3l-4 -1zM301 946l-3 -6l-2 0l-2 2l0 5l2 2zM314 758l3 0l0 0l3 6l-4 3l-1 0l-4 -5zM549 894l-6 3l-2 -6l2 -3l7 2l0 2zM237 702l-3 2l1 2l5 3l3 -3l0 0l-1 -2zM537 914l1 -5l0 -2l-5 1l-3 5l0 1l2 1zM511 919l-1 -6l-1 0l-2 0l-4 4l1 5l3 2zM375 829l8 2l0 4l-2 2l-6 -1l-1 -1l1 -6zM240 683l-5 0l-1 5l3 2l4 -2zM159 848l2 -2l-6 -5l-3 2l0 8l0 0zM493 785l1 -2l-1 -2l-8 -1l-2 7l3 1zM356 647l4 1l-1 6l-2 0l-5 -3l0 0zM339 987l7 -3l-1 -4l-6 -2l-2 1zM435 899l-3 1l-4 -5l3 -3l4 3l0 4zM381 664l0 -5l3 -1l4 1l0 4l-5 2zM394 645l-2 -2l2 -4l3 -1l4 3l-1 3zM401 975l6 -7l5 6l-7 4l-4 -3zM483 678l6 0l1 2l-2 6l-5 -1zM264 810l3 0l2 -1l0 -6l0 0l-6 0l-1 3zM381 737l2 5l-4 3l-2 0l-3 -6l0 -1l4 -2zM551 776l-2 6l12 -1l1 -1l-7 -4zM347 775l4 -4l0 -2l-4 -2l-4 4l3 4zM131 893l0 0l-1 -2l-5 0l-2 1l3 6l2 0zM279 709l-3 4l0 1l2 2l3 1l3 -1l0 -1l-1 -5zM232 816l-6 0l0 6l3 1l3 -1l1 -5zM280 858l3 -1l0 -4l-1 -1l-6 0l-1 3zM536 784l-4 3l-5 -1l0 -6l0 0l6 0zM547 1005l4 3l4 -1l-1 -5l-5 -1l-2 2zM375 1002l2 3l0 0l6 -1l1 -5l0 -2l-8 3zM373 758l4 1l4 -3l-3 -5l-2 -1l-5 5zM423 985l-5 -3l-2 7l6 0zM463 764l8 1l2 -3l-5 -5l-2 0zM119 790l0 4l-3 1l-5 -2l4 -6l1 0zM123 747l5 0l0 -2l0 -3l-6 -2l-2 3zM350 960l-3 6l5 3l2 0l1 -2l-2 -6zM389 899l-3 -4l2 -3l3 -1l2 2l0 5l-3 1zM263 710l-1 3l2 2l5 -2l0 0l-3 -4zM236 783l-2 -4l2 -4l1 0l4 4l-3 4zM342 636l1 0l2 -1l1 -6l-4 -2l0 0l-4 3zM250 894l-2 5l-4 -2l0 -5zM456 836l6 -2l1 1l0 4l-3 2l-4 -1l0 -4zM369 795l4 -4l1 0l5 5l0 0l-3 3zM252 760l-3 -4l-3 0l-1 4l2 3l0 0l5 -2zM332 699l-2 -4l-1 -1l-6 1l1 6l5 2zM262 837l1 6l0 0l6 -2l1 -2l-5 -3zM172 683l-1 5l-5 -1l-1 -3l3 -4l1 0zM285 612l1 1l5 -1l0 -16l-3 -12l-4 16zM128 623l-2 -5l-2 0l-4 4l1 2l5 0zM371 870l2 5l4 2l1 -1l1 -7l-5 -1zM402 945l2 -7l-6 -1l-1 0l0 8l5 1zM545 836l-1 -7l5 -3l4 7l-4 4l-3 0zM375 911l3 -3l1 -1l-5 -5l-4 3l0 3zM167 989l-4 1l0 0l2 7l1 2l5 -5zM468 655l2 -6l-6 -1l-1 6l3 2zM501 673l5 3l-4 4l-5 -2l-1 -2l0 -1zM272 980l0 0l-4 -3l-2 1l-3 7l1 1l6 -1zM246 693l-2 7l-5 -2l0 -4l4 -2zM340 780l0 1l-6 3l-2 -5l3 -4l2 0zM415 956l5 0l0 0l0 -7l-4 0l-3 2zM391 687l0 4l1 2l8 -2l-2 -4l-5 -1zM256 730l0 -3l-3 -2l-2 4l3 3zM292 672l5 -3l-2 -5l-4 2l-1 4zM137 992l-2 -2l-6 0l0 1l1 7l1 1l5 -4zM539 818l-1 1l-1 4l5 2l5 -2l0 -3l0 0zM433 1008l5 4l2 -6l-6 -1zM141 819l-5 4l-3 -1l1 -8l2 0zM444 719l-5 -5l2 -4l1 -1l5 1l-1 7zM202 692l-4 2l-2 2l3 3l6 -1l-1 -4zM245 855l0 6l4 1l4 -2l0 -3l-4 -3l-3 0zM370 665l5 -2l1 -5l-4 -3l-5 4l2 6zM202 825l6 -2l2 2l-2 5l-4 1l-1 -1zM466 880l-1 4l-4 2l-3 -7l2 -3l4 1zM207 949l-1 1l-1 5l3 3l3 -2l0 -4zM172 958l-2 -2l-4 0l-2 3l2 5l5 -1zM499 665l0 4l-5 3l-2 -9l3 -1zM212 902l2 6l-1 1l-1 1l-7 -2l0 -2l4 -4zM348 782l6 3l-1 3l-6 2l0 0l-1 -7l0 -1zM133 806l2 1l1 0l4 -2l-1 -4l-5 -1l-1 1zM229 761l1 -1l-1 -4l-4 -1l-3 3l2 3zM556 933l-2 -3l-7 3l0 1l6 5zM259 717l2 2l0 3l-3 2l-4 -2l0 -1l1 -3zM194 633l1 -2l0 0l-4 -4l-4 2l1 5l1 1zM476 923l2 -6l6 2l0 4l-2 3l-4 -1zM205 881l-4 4l2 4l1 0l4 -4zM354 988l4 -2l3 4l-1 3l-3 0l-3 -2zM116 833l-1 6l-74 2l-26 -3l99 -7zM511 687l4 -3l-1 -4l-3 -1l-1 0l-3 4l0 3zM152 937l0 -1l7 -2l1 0l0 7l0 0l-4 0zM213 654l-4 3l-5 -5l0 -3l5 -2l4 6zM480 742l-3 -1l-2 -3l0 -2l5 -3l3 7zM129 848l-5 -4l4 -4l3 0l2 4zM509 651l3 -1l1 -2l-3 -4l-3 -1l-3 6zM165 791l-2 0l-3 -2l0 -1l2 -3l3 0l1 0l1 5zM189 780l-2 -2l-1 0l-5 4l2 3l6 -2zM536 728l-3 -2l1 -5l8 -1l2 5zM231 772l1 1l-2 4l-4 0l0 -4zM231 692l4 2l0 4l-4 3l-2 -1l-2 -4l2 -3zM262 818l0 4l4 1l3 -2l-2 -5l-3 -1zM510 972l4 -2l-4 -8l-3 1l-2 4l3 5zM411 897l3 3l3 0l2 -6l-4 -2l-4 4zM250 695l-2 6l1 1l5 -1l1 -4l-4 -2zM279 728l0 -5l-3 -1l-3 5l0 1l3 2zM477 860l-2 -8l2 -2l0 0l5 1l1 2l0 4l-5 3zM147 955l-3 4l1 5l4 1l4 -7l-3 -3zM499 716l-2 -3l4 -5l0 0l7 7l0 0l-4 2zM329 904l-2 0l-5 4l0 1l3 2l5 0zM505 974l-3 -6l-5 2l0 4l3 2zM233 653l-2 -4l6 -3l1 1l1 3l0 1l-5 3zM438 987l3 -3l-1 -3l-5 -1l-1 3zM430 757l1 0l2 7l-1 2l-5 0l-3 -3l1 -3zM195 732l-1 -2l3 -2l4 2l-1 4l-2 0zM463 768l7 1l1 3l-5 5l-5 -7zM258 951l3 7l-2 2l-5 -2l0 -5zM410 999l-4 2l-3 0l1 -6l2 -2l4 1zM470 661l6 3l-1 6l-4 1l-4 -3l1 -6zM464 715l-2 5l2 3l0 0l7 -5l-2 -2zM128 662l-1 -4l5 -2l1 6l0 1zM429 735l5 -4l-4 -4l-3 2l0 5zM237 996l-5 4l-4 -2l1 -5l1 -1l5 1zM374 845l0 -5l7 1l-1 4l-3 3zM185 726l0 -5l0 0l-4 0l-2 3l4 3zM125 610l1 2l1 0l4 -2l-1 -13zM496 796l-2 -6l-6 2l3 5l1 1zM228 983l0 5l-2 0l-3 -1l0 -5l1 -1zM391 981l1 6l-4 2l-3 -4l0 0l4 -4zM181 707l-3 5l-5 -2l1 -4l2 -2l5 3zM140 835l-2 -1l-3 4l2 4l2 1l3 -3zM299 865l2 -3l3 -1l3 2l0 5l-5 0l-3 -1l0 -1zM248 778l3 -3l2 0l2 4l-4 2zM303 611l-8 -15l0 16l4 2zM478 646l4 2l4 -3l0 -3l-4 -1l-3 1zM203 644l-1 -1l-2 -7l1 -1l7 3l0 1l-1 3zM471 621l2 -1l1 -4l-1 -2l-6 -1l-2 3l2 4zM479 749l2 7l-5 2l-4 -4l4 -5zM331 849l-6 4l3 4l4 -3l0 -5zM305 823l5 0l1 1l-1 6l-5 0l-2 -3zM441 932l5 -3l1 -2l0 0l-7 -3l-2 5zM398 872l-3 -3l-3 2l0 4l2 2l3 -1zM184 860l0 6l4 0l2 -3l-3 -3zM368 866l-3 -6l1 -1l5 1l0 4l-2 2zM479 1002l5 0l0 1l1 6l-7 -1l-2 -2zM238 890l2 0l1 2l-1 5l-3 2l-3 -3l0 -4zM385 845l5 2l1 0l-1 -6l-3 -2l-2 2zM430 828l2 2l1 1l-5 4l-3 -3l1 -3zM155 771l-1 3l-4 1l-3 -2l0 -5l3 -1zM178 993l3 3l5 -1l1 -5l-5 -2l0 0zM192 691l-1 2l-2 0l-3 -2l1 -5l3 1zM544 618l-2 -2l-6 4l6 6l1 -1zM454 845l-2 2l1 6l6 1l1 -2l-2 -6zM176 880l-4 5l-4 0l-2 -8l0 0l9 1zM424 743l0 -1l0 -2l-1 -1l-6 0l0 0l0 6zM257 828l1 4l2 1l3 -2l1 -4l-3 -2zM521 845l2 7l8 -1l-4 -8l-5 0zM256 854l-3 -3l1 -3l5 0l0 0l1 2zM269 890l4 3l4 -2l-1 -4l-3 -2l-2 0zM292 623l-1 0l-4 -5l0 -1l5 -1l4 2l0 3zM199 751l1 0l0 -2l-4 -3l-1 0l-2 5zM285 689l4 3l0 2l-3 3l-3 -2l-1 -5l1 -1zM385 726l-5 1l-1 5l4 1l3 -3zM199 725l0 -3l0 0l4 0l1 2l0 2l-2 1zM350 667l-3 4l-6 -2l0 -2l3 -4l6 4zM290 736l6 2l0 0l-1 3l-6 1l-1 -2zM196 764l5 -2l1 2l0 4l-3 1l-4 -2l0 -1zM273 785l2 1l0 4l-4 1l-1 0l0 -4zM251 676l3 -6l4 5l-1 4l-2 0zM328 811l-3 -1l-2 -2l0 -1l2 -3l5 0l0 1zM206 925l2 5l2 1l3 -3l1 -2l-4 -3l-3 1zM349 917l-3 -8l4 -2l1 0l3 7l-3 3zM273 635l2 -8l3 0l3 4l-1 4zM294 628l1 6l5 0l2 -5l-4 -3zM301 749l5 -2l1 -4l-6 -2l-1 3zM430 807l2 -1l4 4l1 2l-5 2l-2 -1zM398 662l0 -4l-4 -1l-3 2l1 4l2 0zM295 840l5 -1l2 5l-5 2zM230 841l0 -3l-1 -1l-5 1l-1 0l2 5l5 -1zM424 928l1 7l4 0l2 -4l-5 -4zM136 671l4 4l1 1l-3 3l-5 -2zM274 616l7 0l1 1l0 1l-4 5l-3 0l-1 -1zM319 920l0 -1l1 -4l-2 -2l-5 4l1 2zM118 938l0 4l4 1l2 -3l-2 -6l-1 0zM451 959l6 1l3 -5l-1 -1l0 0l-6 0l-2 5zM196 955l4 -1l2 -6l-1 0l-6 1l-1 2zM514 823l2 -1l4 4l-3 4l-3 -2zM254 1008l-3 -2l-3 0l-1 2l2 5l5 -4zM147 727l5 3l0 1l-6 2l-1 0l0 -5zM218 709l-2 5l2 3l4 -3l-3 -5zM133 928l-7 0l3 -7l5 4zM199 826l0 4l-5 1l0 -4l3 -2zM186 717l1 -5l-3 -3l-3 5l1 3zM451 882l-2 4l0 1l1 1l6 0l0 0l-3 -6zM180 799l-1 -6l2 -2l5 5l0 2l-6 1zM144 810l2 5l-1 1l-2 0l-4 -4l4 -3zM395 653l0 -5l5 0l2 4l-3 3zM523 882l-5 -5l-5 5l3 4l7 -2zM264 748l-3 3l-4 -4l0 -1l6 -1z" fill="#b6804f" stroke="#b6804f" stroke-width="1.5" stroke-linejoin="round"/>
<path d="M169 811l-3 1l-2 -2l0 -1l3 -1zM269 850l1 0l1 -1l-1 -3l-4 1l1 2zM124 689l-3 -1l-1 -1l1 -2l3 0l1 3zM317 892l2 -1l1 -2l-1 -2l-4 0l0 3zM134 851l0 0l2 -3l1 1l2 3l-2 1zM217 952l1 3l1 0l3 -2l-1 -2l-1 -1zM176 860l-2 2l0 0l3 2l0 0l1 -3zM138 962l-4 -1l0 3l2 2l2 -2zM398 668l-2 1l0 2l3 0l0 -2zM363 868l-4 2l0 0l-1 -5l2 -2l1 0zM271 660l0 -1l0 -2l-5 -1l0 4l2 1zM547 981l2 -1l-1 -4l-4 -1l-1 1l2 5zM333 720l-1 0l0 2l2 3l3 -3l0 -1zM358 619l3 -1l0 0l-1 -3l-4 -2l-1 2zM506 887l-1 2l0 1l3 1l0 -1l1 -1l-1 -2zM158 963l-1 0l-2 3l1 1l2 0l1 0l1 -1zM140 792l-1 0l-2 1l0 2l2 0l2 -1zM226 960l-1 -1l-3 2l1 3l1 1l3 -2zM291 910l0 -4l0 0l3 2l0 2zM546 636l1 -2l1 0l4 1l0 0l0 3l-1 2l-3 0l-1 -2zM285 910l0 -4l-4 2l0 3l1 1l2 -1zM129 788l2 2l-1 3l-1 1l-3 -1l0 -3zM475 984l0 0l4 -2l0 0l-2 -2l-2 0l-1 1zM433 738l4 -3l0 0l1 5l-5 0zM536 933l1 0l0 1l-2 3l-3 -1l0 -3l1 -1zM327 819l0 -1l-2 0l-1 2l2 2l0 0zM219 618l-1 -3l1 0l3 0l0 2zM285 734l-1 3l-3 -2l0 0l2 -2l2 1zM267 876l3 1l1 0l1 -4l-4 -1l-1 3zM241 948l3 -1l-1 -3l0 0l-3 0l0 1l1 3zM156 766l-2 -1l2 -3l0 0l1 2l0 1zM525 723l-5 -1l-2 -4l0 0l2 -1l5 1l0 2l0 3zM515 923l-3 3l1 2l2 0l3 -1l0 -3zM152 790l-2 2l-1 0l-1 -2l2 -1l2 0zM382 814l4 0l2 2l0 0l-1 2l-1 0l-3 -2zM319 797l1 4l-2 2l-2 -3l0 -1zM327 977l-3 -3l0 0l-2 1l0 5l0 0l2 0zM175 601l-1 11l3 3l2 -2zM388 1005l1 -3l4 2l0 1l-3 2zM328 795l0 1l0 3l-2 0l-1 -3l0 0zM531 670l3 -3l0 0l2 3l0 1l-3 1zM236 985l-2 -1l-1 0l-1 4l3 0zM362 665l-1 -3l-1 -1l-1 1l-2 3l0 0l4 1zM231 851l-1 1l-3 1l-2 -2l2 -3l3 0zM477 991l5 -2l1 1l-1 5l-3 0zM138 916l-1 -1l-1 0l-2 2l0 1l3 2l2 -1zM308 855l1 1l2 0l1 -2l-1 -2l0 0l-2 0zM436 690l0 0l-1 -5l-2 0l-2 2l3 3zM296 677l3 2l1 -3l0 -1l-2 0l-2 1zM166 824l2 1l-2 2l-2 0l0 -2zM496 1006l1 -2l-2 -1l-4 0l0 4l1 0zM247 1000l-2 -3l2 -1l2 1l-1 3zM450 980l0 0l-2 -1l-2 2l0 1l3 1zM454 932l3 0l2 2l-3 2l-1 0l-1 -4zM437 615l0 0l1 3l1 0l1 -2l-1 -2zM271 736l-1 1l-2 0l-1 -2l2 -1l2 1zM345 890l1 -2l0 -1l-4 -2l-1 1l-1 2l1 2zM347 1006l-1 8l4 -6l0 -1zM117 872l-3 -3l-9 -1l9 6l3 -2zM244 963l3 0l-1 5l-1 0l-3 -1l-1 -1zM404 634l2 0l0 -2l-1 -2l-1 -1l-2 1l0 3zM212 889l1 0l2 3l0 1l-2 2l-2 0l-2 -3zM148 906l1 -1l-3 -2l-1 0l-1 3l0 1zM300 995l0 0l-4 0l0 -3l4 0zM372 688l-1 -3l2 -2l2 1l0 0l-1 3zM435 643l-2 -3l2 -2l4 2l-1 3zM285 811l3 0l0 2l-1 2l-2 -1l0 -2zM226 748l1 2l2 0l1 -1l0 -1l-2 -1zM370 699l0 0l-2 3l0 1l3 0l1 -2zM121 663l-1 0l-1 -2l1 -2l2 1l1 2zM468 917l2 -1l2 1l0 0l-1 3l-3 -1zM535 714l0 -1l4 -2l2 3l0 1l-6 1zM193 992l-1 3l1 0l4 0l0 -3l-1 -1l-1 0zM278 768l-3 0l0 -2l3 -2l1 1l-1 3zM392 929l1 -2l-2 -1l-2 1l2 2l1 1zM356 730l-3 1l0 1l2 3l2 -3zM327 639l-2 1l-3 -4l0 0l4 -1l0 0zM355 702l3 2l0 0l-1 2l-2 1l-2 -1l0 -3zM209 765l-2 1l0 1l1 1l2 0l0 -1zM220 774l-1 0l0 0l0 2l2 1l0 0l1 0l-1 -2zM305 890l3 -1l0 -2l-1 -1l-2 0l-1 0l0 4zM488 635l2 -2l-2 -2l-2 0l0 3zM209 684l3 2l0 2l-3 1l-2 -1l1 -3l1 -1zM309 637l2 -2l0 -1l-1 -1l-3 0l-1 2l0 1zM535 846l0 0l-2 -4l1 -1l4 1l0 0l-1 4zM525 800l0 -4l1 -1l3 1l0 2l-2 2zM321 862l-2 -3l1 -2l1 1l2 2l0 2zM202 860l-2 2l2 2l2 -2l0 -1zM425 980l-4 -2l0 -1l3 -3l3 1l0 2l0 2zM405 953l3 1l1 3l-2 2l-3 -1l1 -5zM407 945l2 1l2 -1l-1 -3l-1 -1l-1 1zM156 1003l4 0l1 1l0 1l0 0l-5 2l0 0zM115 811l-4 2l5 2l1 -2zM263 786l-1 4l1 0l3 -1l0 -2zM468 950l4 -3l1 1l0 4l0 0l-1 0l-3 -1zM517 672l-2 -1l1 -4l2 -1l2 3zM368 652l-1 -2l-1 0l-1 1l-1 2l1 1zM142 744l0 -1l-1 -3l-1 0l-3 0l-1 1l1 3zM220 689l1 0l2 2l0 1l-3 1l-1 -2zM333 625l0 0l-1 -3l2 -1l2 2l-2 2zM352 856l-2 0l-1 -1l1 -4l0 0l2 0l1 4zM523 987l-4 2l2 4l5 -3l-2 -2zM464 908l2 -1l0 -3l-3 -1l-1 1l1 3zM140 1006l-1 1l-4 -2l0 -2l4 -3l2 2zM352 623l-3 1l-3 -2l3 -3l1 0l3 4zM330 613l-1 0l0 -2l1 -5l3 5l-1 1zM416 612l1 2l2 1l1 -2l-2 -3zM368 779l0 0l1 -2l4 0l1 3l-2 2l-1 1zM260 629l-1 0l-2 4l1 1l3 -2l-1 -3zM298 876l-2 -1l-2 4l1 1l3 0l0 0zM405 661l-1 -2l2 -1l1 0l1 3l0 0l-3 0zM524 830l3 0l0 3l-1 1l-2 0l-1 -2zM354 900l-1 -3l1 -2l3 1l0 3l-3 1zM372 854l1 0l0 -2l-2 -1l-2 0l0 3zM407 701l1 -4l1 0l2 1l1 3l-2 2l-1 0zM188 927l-1 -1l1 -1l2 -2l3 3l-1 2zM274 776l1 -1l4 0l0 4l-2 1l-2 -1zM490 722l-3 0l-1 -2l3 -3l2 1l1 1zM227 797l1 -1l3 1l0 3l-3 0zM338 766l-1 0l-2 -3l1 -3l2 0l2 2l0 1zM246 823l2 3l-3 1l-1 0l0 -1l1 -3zM404 1009l2 2l-2 4l-2 -5l0 -1l1 0zM544 946l-2 -2l3 -3l3 2l0 1zM429 877l1 -1l0 -1l-1 -2l-2 1l-1 2zM469 931l2 -3l-1 -1l-3 0l-1 1l1 3zM188 731l1 0l1 1l-2 2l-1 0l0 0l0 -3zM466 964l1 -3l-2 -1l-2 3l1 1zM169 939l-3 0l0 -3l0 0l3 1l0 1zM144 982l-3 -1l0 3l1 1l1 0l1 -2zM289 791l0 -4l2 -1l1 1l0 4l-1 1zM354 811l-2 2l1 1l2 0l0 0l0 -2zM120 914l-2 1l-3 -3l2 -2l1 0zM134 763l3 -1l0 -2l-3 -1l-1 3l1 1zM348 931l1 -3l0 0l1 0l2 3l-1 1l-2 0zM350 635l1 -4l3 -1l1 4l-2 2zM157 847l1 -1l-3 -2l-1 1l-1 3l1 1zM491 785l1 -2l-1 -1l-5 -1l-1 4l2 1zM402 740l-1 4l-3 0l-1 -2l1 -3l2 -1l0 0zM484 679l4 0l1 2l-2 4l-3 -1zM322 838l-5 4l-1 -1l0 -4l5 -1zM189 979l2 4l-2 1l-3 -1l2 -5zM149 941l2 3l-1 3l-2 0l-2 -2l1 -3zM231 817l-3 0l0 3l2 1l1 0l1 -3zM549 1005l2 2l3 0l-1 -4l-3 -1l-1 2zM257 784l-1 0l-2 1l0 2l2 1l1 -3zM374 756l2 1l3 -1l-2 -3l-1 -1l-3 3zM232 871l1 2l0 0l2 -1l0 -2l-1 0zM465 763l4 0l1 -1l-2 -3l-1 0zM438 666l2 1l-1 3l-2 1l-2 -3l2 -2zM531 883l2 -1l2 1l0 1l-1 2l-2 0l-1 -2zM320 740l3 -1l1 -3l-5 0l0 2zM287 844l2 -2l1 1l1 3l0 0l-3 1l-1 0zM271 863l0 0l3 1l1 0l1 -2l-3 -2l0 0zM268 779l1 2l-1 1l-2 -1l-1 -1l2 -1zM350 963l-2 2l3 2l1 0l1 -1l-1 -3zM236 781l-1 -2l2 -2l0 0l2 2l-2 3zM333 987l-2 1l-1 -2l2 -3l0 0l1 4zM330 699l-1 -3l-1 0l-3 1l0 3l3 1zM445 854l0 1l2 -2l0 -3l-3 0l-1 1zM181 684l1 2l-1 2l-3 1l-1 -1l1 -2zM269 617l-3 2l0 1l0 0l4 0l0 -2zM415 909l1 -2l1 0l3 2l-4 2zM374 908l2 -1l0 0l-2 -3l-2 2l0 1zM167 992l-2 0l0 0l1 3l1 1l2 -2zM467 653l1 -3l-3 -1l-1 4l2 1zM221 699l2 -1l0 2l-2 1l-1 0l0 0zM222 728l-1 2l-1 0l-1 -1l0 -2l2 1zM416 955l3 0l0 0l0 -5l-3 0l-1 1zM255 730l0 -2l-2 -1l0 2l1 1zM322 785l1 2l4 0l1 -2l-2 -3l-2 0zM129 908l-2 3l-1 -1l-2 -3l2 -1l1 0zM216 805l-1 2l0 2l3 0l0 -2zM431 660l-2 2l-2 0l-2 -2l1 -3l3 0zM261 939l0 0l0 1l1 3l3 -1l-1 -3zM216 648l3 -2l0 -2l-4 -1l-1 2zM211 904l1 3l-1 1l-1 0l-3 -1l-1 -1l3 -2zM175 720l-1 0l-2 -2l0 -3l1 0l3 1l1 2zM258 719l2 1l0 2l-2 1l-2 -2l0 0l1 -1zM192 632l1 -1l0 0l-2 -2l-3 1l1 3l1 0zM440 767l0 1l1 1l4 1l1 -2l-1 -2l-2 0zM140 728l0 3l-3 0l0 -2l1 -1zM383 638l0 -3l2 -1l2 2l-1 2l-1 0zM511 686l2 -2l-1 -2l-1 -1l-1 0l-1 3l0 1zM509 780l0 3l-4 -2l3 -2zM325 872l2 -1l1 1l1 4l-4 0l-1 -3zM357 907l2 -1l2 1l0 1l-2 2l-1 0zM167 657l-2 -2l0 0l2 -2l2 0l0 2zM347 611l-2 -2l3 -5l1 5l-1 2zM187 781l-1 -1l-1 0l-2 2l1 2l3 -1zM263 818l0 3l2 1l3 -1l-2 -4l-2 0zM155 784l-3 -1l0 -3l2 -1l2 3zM241 638l3 -3l-2 -3l-4 0l-1 1l3 4zM305 979l-3 -3l0 -3l4 1l0 4zM147 957l-2 3l1 3l3 0l2 -4l-2 -2zM501 715l-1 -2l2 -3l0 0l3 4l0 0l-2 1zM231 721l-2 3l0 1l3 0l2 -3zM365 688l0 0l0 1l-3 -1l0 -2l1 -1l2 1zM293 976l-1 -1l-1 -3l1 0l4 0l0 0l-1 3zM123 982l-2 1l-1 2l0 1l3 -1l1 0zM438 985l2 -1l-1 -2l-3 -1l0 2zM367 812l-2 -1l-2 1l0 3l3 0zM196 732l0 -2l1 -1l2 2l0 2l-1 0zM324 725l-3 1l-1 2l0 1l5 0l1 0l0 -1zM234 996l-2 2l-2 -1l0 -3l1 -1l3 1zM285 775l0 4l1 0l2 0l0 -3l-3 -1zM227 984l0 3l-1 0l-2 -1l0 -3l1 0zM549 800l2 2l3 -2l-1 -3l-3 0zM161 923l1 3l1 0l0 0l2 -2l-1 -2l-3 0zM396 854l-1 0l0 2l1 2l3 -2l0 -1l-1 -1zM550 906l2 -3l-2 -3l-4 2l-1 2l1 1zM441 898l3 -1l0 -3l-1 0l-3 1zM500 687l-1 -2l-3 -1l-1 3l0 1l3 0zM461 622l-1 -3l-3 0l0 4l2 1zM214 735l1 -1l2 2l-1 3l0 0l-3 -1zM421 996l-2 2l-2 -1l0 -3l0 0l4 0zM363 981l2 1l0 0l0 3l-1 0l-2 -2zM253 879l0 0l2 2l2 -2l0 -1l-3 0zM185 861l0 4l3 0l1 -2l-2 -2zM480 1003l3 0l0 1l1 4l-5 -1l-1 -1zM238 892l1 0l0 1l0 3l-2 1l-1 -2l0 -2zM429 829l2 2l0 0l-3 2l-2 -1l1 -2zM352 870l-4 0l0 -1l2 -3l2 0zM237 819l-1 3l3 1l2 -3zM250 832l1 2l-2 2l-1 0l-1 -3l3 -1zM273 961l2 0l1 -3l-2 -1l-2 2zM256 852l-2 -2l1 -1l3 0l0 0l0 1zM347 667l-1 2l-2 -1l-1 -1l2 -1l2 1zM198 766l2 -1l1 1l0 1l-2 1l-1 -1l0 -1zM238 958l1 2l-2 2l-2 0l0 -3l3 -2zM273 787l1 0l0 2l-2 1l0 -1l0 -2zM438 761l-2 -4l4 -1l1 3zM208 926l1 3l1 0l2 -1l0 -2l-2 -1l-2 0zM209 778l1 -3l2 0l1 2l-1 1zM224 684l3 3l2 -1l0 -3l0 -1l-4 0zM238 675l-2 0l0 0l-1 -3l2 -1l0 0l1 4zM425 930l1 3l2 0l1 -2l-3 -2zM426 820l1 0l0 3l-2 0l-1 -2l0 0zM345 698l3 1l2 -2l0 -1l-4 -2l-1 4zM278 806l-1 -1l-2 0l-1 2l3 0zM510 622l-2 -3l-2 0l-1 2l2 3l3 -1zM119 895l1 3l-2 1l0 0l-1 -2l1 -2zM352 778l3 2l2 -2l0 -1l-3 -1zM119 939l1 2l1 0l1 -1l-1 -3l0 0zM170 778l0 -3l2 0l1 3l-3 1zM280 702l1 -2l2 1l0 2l-1 1l-2 0zM197 953l2 0l1 -3l0 0l-3 0l-1 1zM185 715l0 -2l-1 -2l-2 3l1 1zM213 945l1 -1l3 0l0 1l-3 2zM489 771l-3 3l1 1l5 1l0 -4zM291 718l2 0l2 1l-1 2l-1 0l-2 -2zM520 882l-2 -2l-2 2l1 2l3 -1z" fill="#efe5dc" stroke="#efe5dc" stroke-width="2.2" stroke-linejoin="round"/>
<path d="M380 617l0 -3l4 0l0 0l0 3l-3 1zM277 813l1 3l-3 2l0 0l-2 -4l1 -1zM412 717l-2 -2l-1 0l-2 3l2 1l2 0l0 0zM361 801l0 0l-3 2l0 1l2 1l2 0zM322 719l-2 1l-1 -2l1 -1l3 1zM304 667l2 -3l0 0l-2 -1l-2 0l-1 1l1 3zM522 889l-4 1l0 2l3 2l1 0l1 -3zM264 611l0 0l-2 -2l-2 2l2 2zM245 736l0 0l1 -2l3 -1l2 2l-1 2l-3 0zM474 686l2 -2l0 -4l-1 0l-2 0l-1 4zM206 733l1 -1l1 1l0 3l-1 0l-2 -2zM227 1006l1 2l-3 2l-2 -2l2 -3l1 0zM466 987l-4 2l0 0l-1 -1l0 -1l1 -3l3 1zM467 975l1 -1l-1 -3l-3 0l-1 3l0 1zM333 638l0 -3l2 0l2 2l-3 2zM384 700l2 3l2 0l0 -1l0 -4l-1 -1l-2 1zM452 716l3 1l2 -3l-1 -1l-3 -1l-1 0zM465 708l1 -4l3 -1l1 2l-1 4l-4 0zM172 767l0 -1l0 -3l0 0l-4 1l0 2l2 1zM217 858l1 0l2 1l-1 4l-1 1l-4 -3l0 -1zM282 669l3 0l0 -3l-2 -1l-2 0l0 1zM362 628l1 3l3 2l2 -3l-3 -4l-3 2zM305 955l0 1l-3 1l-1 -1l0 -1l2 -2l1 0zM569 821l48 4l-45 4l-14 -1l-2 -4l0 -1zM356 723l-1 -3l-3 3l0 1l4 0zM273 968l-1 4l2 1l3 -3l-2 -2zM529 770l0 3l3 1l1 -4l0 -1l-3 0zM447 757l1 0l1 -3l-2 -2l-1 2zM177 844l-3 -2l1 -1l4 -2l1 3zM519 966l3 -2l0 -2l-1 -2l-5 1l0 0l2 5zM545 850l2 -4l2 0l2 3l-1 3l-2 0zM190 725l2 1l1 -1l0 -2l-3 -1zM313 1001l0 0l1 3l-2 1l-2 -2l0 -1l0 0zM182 806l3 1l1 -1l0 -2l-1 -1l-3 0zM334 740l-3 -3l-2 1l-1 3l2 3zM373 820l2 -2l0 -2l-1 0l-1 0l-1 2l1 2l0 0zM286 770l4 1l1 -1l-1 -3l-2 -1l-1 0zM320 903l-2 -2l1 -3l2 0l2 2zM304 753l0 0l3 -1l2 2l-2 3l-2 0l0 0zM118 614l1 1l-3 3l-4 -2l3 -3zM278 745l-1 -3l1 -1l2 2l1 1l0 0zM363 972l2 0l1 -3l-1 -1l-3 1l0 2zM276 678l1 4l-1 0l-1 0l-2 -1l0 -2zM452 998l-2 4l-3 -1l0 -3l4 -2zM417 626l-2 1l-1 -3l2 -2l2 0l1 3zM122 697l-1 2l-2 0l-1 -2l0 -3l3 1zM371 883l1 1l0 0l-1 3l-3 -1l1 -2zM492 765l2 1l3 -2l-3 -3l-3 1zM290 935l-1 1l-3 0l-1 -3l3 -1zM507 665l2 1l0 4l-1 0l-3 -2l0 -2zM359 999l-1 3l0 1l1 0l3 -2l-2 -2zM195 821l-1 -2l-3 -1l-1 1l0 2l2 1zM227 707l-1 0l-2 1l1 2l1 1l2 -3zM540 734l2 1l3 -1l-1 -2l-1 0l-3 1zM398 700l1 -3l0 -1l-4 1l0 3zM230 943l-3 1l-1 -1l0 -2l0 -2l1 0l3 1l1 1zM285 826l-1 -3l-2 0l-2 1l1 2l3 0zM483 610l6 -22l1 6l0 14l-3 4l-4 -1zM500 867l0 -2l2 -2l1 0l1 3l-3 2l-1 0zM437 999l0 1l4 1l0 0l0 -3l-2 -1zM551 788l1 2l3 1l3 -4l-7 1zM380 891l-3 1l-1 -2l2 -3l2 3zM308 963l0 0l0 4l-1 1l-3 -1l0 -1l0 -2zM418 733l0 -4l1 0l3 1l0 4zM132 971l0 1l-4 1l-2 -3l3 -2zM213 679l3 -3l1 0l1 3l-1 1l-1 1zM250 747l-2 2l-1 0l-1 -1l0 -4l3 1l1 1zM212 801l-3 -2l-2 3l0 1l3 1l2 -2zM195 836l0 0l0 3l4 0l1 -3l-1 -1zM380 951l2 -3l3 2l-1 1l-3 1l-1 -1zM229 892l-1 3l-2 0l-2 -1l0 -1l3 -2zM324 772l2 -2l2 0l1 2l-2 2l-2 0zM246 923l-1 1l-2 -1l-1 -1l0 -1l3 -3l3 3zM370 945l4 2l3 -4l0 -1l-2 -1l-3 0zM352 981l2 0l1 -2l-1 -2l-1 0l-2 2l1 2zM212 877l0 0l3 -2l0 3l-1 1l-1 0zM147 800l1 2l-2 1l-1 0l0 -2l1 -1zM167 726l0 1l-2 1l-2 -1l0 -2l3 0zM313 789l1 2l0 0l-2 1l-2 -1l0 -1l2 -1zM223 741l-2 -1l1 -3l1 0l2 1l0 2zM379 652l2 -1l1 -3l-2 -1l-3 1l0 2zM267 993l0 -1l0 -1l4 -1l2 3l-2 1zM344 704l-1 3l2 1l2 -1l-1 -2zM419 780l0 0l-2 3l0 0l-1 -2l1 -2zM256 964l-3 -1l0 1l-1 4l2 0l2 0zM454 911l-1 -3l-2 -1l-3 3l3 2zM261 887l1 0l2 0l1 -2l-2 -2l-2 3zM122 803l2 1l1 3l-3 0l-2 -1l0 -3zM118 776l0 -1l-1 -1l-3 2l2 2l1 0zM298 710l-1 3l2 2l2 -1l1 -1l0 -2l-3 -1zM534 952l-1 -3l-3 0l0 0l-1 4l1 1l4 -1zM318 938l1 -1l0 -2l-1 -1l-4 0l1 3zM459 761l1 -4l-2 -2l-1 1l-2 4l1 2l2 0zM424 750l-4 0l0 1l2 3l2 -2zM395 954l1 3l3 0l0 -4l-2 0l-2 1zM463 946l-2 -4l3 -2l2 1l1 1l-4 4zM124 862l-2 0l-1 2l2 3l3 -3zM133 784l1 2l2 -1l0 -3l-2 0l-1 1zM281 963l1 2l2 0l0 0l0 -3l-1 -1l-1 0zM295 799l1 3l4 0l0 0l-1 -3l-2 -1zM330 896l-1 0l-1 -3l0 -1l4 0l1 2l-1 2zM430 924l1 -3l3 1l1 1l-1 3l-1 0zM415 872l2 -1l2 2l0 2l-3 1zM394 615l4 -1l1 4l-2 1l-2 -1l-1 0zM551 721l-1 -2l1 -2l1 0l2 1l0 2l-2 2zM179 884l-3 3l3 4l2 -2l-2 -4zM309 911l1 1l3 -3l0 0l-1 -1l-4 0zM292 750l4 0l0 -1l-1 -3l-4 1l0 0zM449 869l4 1l1 2l-2 2l-1 0l-3 -2zM371 727l3 0l1 0l-1 3l-2 1l-1 -1zM168 747l0 0l-3 0l-1 -3l2 -1l1 1zM330 756l-2 4l-2 0l-2 -4l4 -1zM184 872l-1 0l0 3l0 1l1 0l4 -1l1 -1l-1 -2zM544 587l7 23l-1 1l-2 1l-2 -2l-2 -8zM360 926l-2 -3l2 -2l0 0l3 3l-1 2zM226 719l-1 -1l-1 0l-3 2l0 0l1 1l2 1zM280 977l0 0l2 -3l1 0l1 2l-2 2zM384 749l1 2l1 0l3 -2l0 0l-1 -2l-2 0zM200 846l-1 2l-3 -1l0 -1l0 -1l3 0zM529 857l0 0l-4 0l0 1l1 3l2 0l1 0zM519 625l3 -2l1 0l0 1l0 4l-1 0l-1 0l-2 -3zM188 957l-3 -2l1 -1l3 0l0 2l0 1zM513 800l3 1l2 -1l-1 -3l-3 -1l-2 3zM532 982l4 -3l0 0l2 4l-4 2l0 0zM382 628l-1 0l1 -3l3 0l0 0l-1 3zM332 862l0 -1l2 -2l2 1l-1 3l-2 0zM500 626l-1 2l-2 0l-2 -2l1 -2l3 -1zM487 930l1 4l3 -2l1 -2l-3 -1zM406 874l-2 0l-1 3l3 2l2 0l1 -1l-2 -4zM133 979l-3 1l0 1l0 3l3 0l1 -4zM513 1006l-2 10l-4 -8l0 -2l1 -1zM484 839l1 1l-2 3l-3 -1l1 -3zM338 645l1 3l2 1l2 -1l0 0l-2 -4l0 -1zM195 942l1 1l3 0l-1 -3l-2 0zM352 690l2 -1l-1 -3l-2 0l-2 1l0 2zM265 700l0 1l-1 3l-2 0l-2 -1l1 -3l1 -1zM429 773l3 0l0 1l-1 4l-1 0l-2 -1l0 -1zM141 952l-2 2l-3 0l-1 -1l2 -2l2 0zM433 747l0 -1l5 0l1 1l0 0l-1 2l-4 1l0 0zM348 833l-2 -2l0 -1l3 -2l3 2l0 0zM496 817l3 1l1 1l-3 3l-2 0l-1 -4zM231 791l2 2l2 -2l-1 -1l0 -1l-3 1zM185 789l0 0l4 -1l1 1l-2 3zM161 911l2 0l2 -2l-1 -3l-1 -1l-3 2l0 1zM256 803l1 -1l-1 -2l-2 2l-1 2zM449 725l0 2l4 3l0 0l3 -3l-1 -2l-4 -1zM364 916l3 -3l3 2l0 3l-2 1zM526 711l-5 -1l1 -4l2 -1l1 0l2 4zM186 1001l-3 1l-1 3l4 1l0 0l1 -4zM222 655l2 3l3 -2l-1 -3l-1 -1l-3 2zM124 815l-1 2l0 1l3 1l1 0l1 -4l-1 -1zM244 673l0 -3l2 -1l1 0l1 1l0 0l-2 3zM172 891l-2 0l-2 2l1 2l1 1l5 -1l0 -1zM414 966l0 0l2 3l0 0l2 -2l-1 -3l-2 0zM482 912l-1 0l2 -3l1 0l1 0l0 3l-1 1zM231 741l0 -2l2 -1l2 1l1 0l-3 3zM313 750l2 0l0 -4l-2 -2l-1 1l-1 3zM406 914l1 -1l3 -1l1 2l0 2l-4 1zM411 744l0 -3l-4 -1l0 4l2 2l2 -1zM216 637l0 -1l2 -3l0 0l4 2l-2 3zM227 782l1 0l2 -1l2 3l-3 1zM182 667l-3 3l0 0l3 3l3 -3zM362 736l-2 3l0 0l2 2l4 -3l0 0l-1 -1zM503 953l2 2l2 -1l1 -1l-1 -3l-3 -2l-1 2zM434 955l1 0l2 0l0 -2l-2 -1l0 0zM381 976l0 1l1 2l2 -2l-1 -2zM127 881l0 4l3 0l0 -3zM366 710l1 -1l3 1l1 2l-3 0zM231 921l-3 1l-1 -1l0 -1l2 -1l2 1zM253 626l-3 -1l-1 2l2 2l0 0zM470 994l0 0l1 3l-1 2l-2 0l-2 -3zM265 640l-1 0l-3 1l1 2l1 1l2 -3zM156 951l2 1l1 1l2 -2l-1 -3l-2 0zM389 969l2 -1l2 5l0 0l-1 1l-2 0l-2 -3zM163 737l0 -3l-4 -1l0 0l0 1l1 4l1 0zM218 763l0 -2l-2 0l-1 1l1 3l1 -1zM181 775l-1 -2l-2 0l-1 0l2 3l0 1zM247 982l1 -4l1 -1l2 1l1 4l-3 1zM524 754l0 0l-3 4l1 2l2 1l2 -1l-1 -5zM319 967l-2 1l-3 -1l0 -4l3 0zM268 966l-2 4l-1 0l-2 -1l1 -4l1 -1l1 0zM240 1005l-2 1l-1 -1l0 -1l2 -2l0 0l2 2zM301 913l2 0l-1 -4l0 0l-1 1l-1 2zM391 727l0 0l3 0l1 3l-1 0l-3 -1zM370 767l0 1l3 0l0 0l0 -3l-2 0zM446 646l2 0l2 -3l-3 -2l-2 1l0 2zM291 684l2 2l2 -2l0 0l-3 -2zM285 833l0 3l-2 1l-4 -1l1 -3zM315 979l-3 -1l0 -4l1 0l3 0zM351 838l4 -2l1 2l0 2l-2 1l-2 0zM307 643l-3 -1l-1 3l2 1l2 -2zM504 794l2 -3l0 -1l-5 -2l0 0l-1 1l1 5zM316 1010l0 9l0 3l4 -12l-2 -1zM315 759l1 0l0 0l2 4l-2 3l-1 0l-3 -4zM120 1006l3 1l1 -2l0 -1l0 -1l-5 0l0 0zM555 812l0 0l12 -1l-10 -3l-2 1zM484 799l-3 2l-1 -1l0 -4l1 0l2 0zM340 985l4 -2l-1 -2l-3 -1l-1 1zM383 663l0 -3l1 -1l3 1l0 3l-3 1zM529 638l0 -1l5 1l0 2l-3 3l-2 -1zM154 810l-2 2l-1 0l-1 -3l2 -2l1 1l1 0zM265 808l2 0l0 -1l1 -3l-1 0l-3 0l0 2zM546 962l-1 4l3 0l1 -1l0 -2zM380 739l1 2l-2 2l-1 0l-2 -3l0 -1l2 -1zM410 865l-1 -5l5 0l0 2l-1 2l-2 1zM433 723l3 2l1 0l1 -1l1 -1l-3 -3l-2 1zM405 686l-1 -2l1 -3l3 1l1 0l-3 4l0 0zM168 754l-3 0l-1 2l1 2l3 -2zM117 752l1 -2l-2 -2l-7 2zM395 771l-1 -3l-2 0l-1 2l1 2zM347 774l3 -3l0 -1l-3 -1l-2 2l2 3zM410 612l-4 0l0 0l1 5l1 0l2 -2zM423 678l1 2l-1 2l-1 0l-2 -2l0 -1l0 0zM533 783l-2 2l-2 0l-1 -4l1 0l3 0zM534 683l3 2l2 -1l-1 -4l-3 0zM403 833l-1 2l2 2l3 -1l0 -1l0 -1l-3 -1zM377 1001l1 2l1 0l3 0l1 -3l-1 -2l-4 2zM421 985l-2 -1l-2 3l4 0zM344 818l2 2l0 3l-3 1l-1 0l0 -5l2 -1zM308 900l4 0l0 -3l-1 -1l-3 1l0 3zM467 628l0 3l-3 1l-1 -3l2 -1zM498 960l1 1l0 2l-3 0l-1 0l0 -2zM428 965l2 1l2 -1l-1 -3l-1 -1l-3 1l0 0zM378 900l1 -1l2 -1l1 3l-1 1zM389 898l-1 -3l0 -2l2 0l2 1l0 3l-2 1zM336 997l2 2l0 0l-4 2l-1 0l0 -2l1 -2zM263 710l0 3l1 1l4 -1l0 -1l-3 -2zM342 633l0 0l1 0l1 -3l-2 -1l0 0l-2 2zM200 684l-3 -1l-2 2l1 3l4 -1zM443 877l-2 1l0 1l3 3l2 -3zM186 768l-1 1l1 2l1 0l1 -3l0 0zM263 838l1 4l0 0l4 -2l1 -1l-4 -2zM231 809l-1 -1l-2 0l-1 1l0 1l1 1l2 0zM198 855l-3 3l0 0l-3 -2l2 -3l4 1zM209 1008l-3 3l-1 -3l0 -3l3 0zM337 788l4 -3l1 5l-5 0l0 -1zM546 834l0 -4l3 -2l2 4l-3 2l-1 1zM272 696l0 1l3 1l2 -2l-1 -3l-1 0zM306 942l0 0l-2 -4l2 -2l1 0l1 0l1 3zM384 680l1 -3l4 1l0 3l-1 1l-4 -2zM241 849l-4 0l-1 -3l1 -1l3 0l1 4zM314 712l2 -2l0 -2l-3 0l-2 2l0 1zM503 995l-1 0l-1 -1l-1 -2l2 -1l2 1zM339 780l-1 0l-4 2l-1 -2l2 -3l2 0zM325 682l1 1l0 4l-3 0l-1 0l-1 -2l1 -1zM316 818l2 0l1 -3l-1 -2l-3 2l0 3zM366 993l2 -1l1 0l0 4l0 0l-2 0l-1 -2zM492 708l2 -2l-3 -2l-1 1l1 3zM338 850l4 0l0 4l-2 0l-1 -1zM435 1008l2 2l2 -3l-4 -1zM444 717l-3 -3l1 -3l1 0l2 0l0 5zM123 757l2 -3l2 0l1 2l-1 3l-4 -1zM202 694l-3 1l0 1l1 2l3 -1l0 -2zM247 856l0 3l2 1l2 -1l0 -2l-2 -2l-2 1zM228 665l3 1l2 -2l-1 -3l-1 0l-3 2zM335 872l1 0l2 1l0 0l-1 2l-1 1l-1 -1zM371 663l3 -1l0 -3l-2 -2l-3 3l1 3zM428 940l1 2l0 1l0 0l-3 0l-1 -3l1 0zM267 928l-2 2l-3 -1l1 -4l2 -1zM170 959l-1 -1l-2 -1l-2 2l2 4l3 -1zM425 692l0 0l2 -1l3 3l-2 3l-2 0l0 0zM193 810l-1 2l0 1l4 1l1 -2l0 -1zM349 784l2 2l0 1l-2 1l-1 0l0 -3l0 -1zM555 933l-2 -1l-4 1l0 1l4 3zM200 781l-2 -1l-3 1l0 2l1 1l1 1l2 -1zM178 741l-1 2l-2 1l-1 -2l2 -1l2 0zM210 866l3 3l0 1l-4 1l-1 -1l0 -1zM206 941l0 0l1 0l1 -2l-1 -2l-1 -1l-1 2zM153 822l-1 0l-1 0l1 3l2 2l1 -1l0 -2zM260 857l3 -3l3 2l-2 4l-4 -2zM148 997l0 -2l-2 -1l-1 0l0 2l1 1zM115 834l-1 3l-46 1l-17 -1l62 -5zM387 653l2 1l1 -1l0 -3l-1 -1l-1 0zM549 863l2 -1l1 2l-2 3l-1 0l-1 -2zM329 648l-2 1l-1 1l2 3l3 -2l-1 -2zM165 790l-2 0l-1 -1l0 -1l1 -2l2 0l0 0l0 3zM347 714l2 -1l2 1l-1 2l-2 2l-1 0l-1 -1zM517 904l1 -4l-4 -1l-1 0l0 5l1 1zM494 907l4 -1l3 3l-3 3l-3 -1zM293 731l3 1l0 -2l-1 -1l-1 0l-1 2zM182 977l-1 3l0 0l-3 -1l2 -3l2 0zM295 778l0 -2l1 -1l2 0l1 1l-1 3l-1 0zM397 999l-1 0l-4 -2l0 -1l0 -1l3 -1l2 1zM231 694l2 1l0 2l-2 2l-1 0l-1 -3l1 -2zM317 928l0 -3l-3 -1l-2 4l1 0zM296 1005l2 0l2 -2l0 -2l-5 0l-1 1zM278 727l0 -3l-2 0l-2 3l0 0l2 2zM457 686l-2 -2l-2 0l-1 5l2 1l0 0zM478 858l-1 -5l1 -1l0 0l3 1l0 1l0 2l-3 2zM476 935l1 -3l2 0l1 3l0 1l-3 1l-1 -1zM328 906l-1 0l-3 2l0 1l1 1l4 0zM397 779l-3 0l-1 3l0 0l4 2l0 0l0 0l2 -4l-1 -1zM232 715l-1 -1l2 -2l3 1l0 3l0 0l-1 0zM207 749l0 -1l2 -3l1 0l2 2l-1 3zM147 783l0 -3l-2 -1l-2 1l1 4l1 0zM234 653l-2 -3l4 -3l1 1l1 2l0 1l-4 2zM557 757l0 2l1 0l7 -2l-8 -1zM429 760l1 0l1 3l-1 1l-2 0l-1 -2l0 -1zM471 663l3 1l-1 4l-2 0l-2 -1l0 -4zM542 791l2 3l-1 4l-2 0l-2 -1l-1 -3l3 -3zM512 866l3 1l2 -2l-1 -3l-4 -1l-1 0zM358 640l2 -2l3 2l0 2l-2 1l-3 -1zM444 630l-3 -2l-2 1l-1 1l0 2l4 2l2 -1zM527 976l-2 -3l2 -2l3 2l-3 4zM184 725l1 -3l0 0l-3 0l-2 2l3 2zM217 841l2 0l1 3l-1 2l-1 0l-2 -3zM149 1004l-3 0l0 4l4 0l0 -4zM391 982l0 5l-3 1l-2 -3l0 0l3 -3zM179 708l-1 2l-3 -1l0 -2l2 -1l2 2zM225 873l1 3l-1 1l-3 -1l0 -2l0 -1l1 -1zM240 980l1 -3l-2 -1l-1 3l1 1zM140 836l-2 0l-2 3l1 2l2 0l2 -2zM301 865l1 -2l2 0l2 1l0 3l-3 0l-2 -1l0 0zM250 778l1 -2l1 0l2 2l-3 1zM128 858l2 3l3 0l0 -3l-3 -3zM332 683l0 4l1 0l4 -2l-2 -3zM331 850l-5 3l2 3l3 -2l0 -4zM303 701l2 -1l2 1l1 2l-2 2l-3 -2zM160 854l-4 2l1 2l1 1l4 -1zM243 785l2 -3l0 0l2 2l0 2l-3 1l-1 0zM377 864l3 1l1 -1l0 -3l-3 -1l-1 1zM397 872l-2 -2l-2 1l0 3l1 1l2 0zM340 800l-3 -1l0 0l0 -4l5 0l0 1l0 2zM218 782l-2 -1l-1 1l0 3l1 0zM251 989l2 -1l2 1l0 0l0 2l-2 0l-2 -1zM453 922l1 -4l3 -1l1 1l0 3l-1 1l-3 1zM181 993l1 1l2 -1l0 -2l-1 -1l-1 0zM455 847l-1 1l0 4l4 1l1 -2l-2 -3zM420 693l1 5l-3 0l-2 -3zM302 921l3 3l0 0l2 -3l-1 -2l-1 0l-2 1zM451 744l3 2l1 -1l1 -2l-2 -2l0 0l-3 3zM247 727l-2 1l-1 -4l0 0l4 0l0 1zM438 702l0 -4l-2 1l-2 2l3 1zM490 973l0 -2l-1 -1l-2 1l-1 2l2 2zM523 847l1 4l5 -1l-3 -5l-2 0zM350 806l-3 2l-1 0l-1 -3l2 -2l2 2zM270 890l3 2l2 -2l-1 -2l-1 -1l-1 0zM292 621l-1 0l-2 -2l0 -1l3 -1l2 2l0 1zM198 750l1 0l-1 -1l-2 -2l0 0l-2 3zM285 691l2 2l0 1l-1 1l-2 -1l-1 -2l1 -1zM200 725l-1 -2l1 -1l2 1l1 1l0 1l-1 1zM291 737l3 1l0 1l-1 1l-3 1l0 -1zM187 934l3 1l0 1l-1 1l-3 0zM244 773l2 -1l-1 -2l0 0l-3 1l2 2zM460 662l0 3l-1 1l-3 -2l2 -3l1 0zM522 730l-3 -1l-2 3l3 0zM497 695l-4 -1l0 4l4 1l0 0l1 0zM219 926l3 -1l1 2l-1 3l0 0l-3 -2zM216 988l2 -2l0 -3l-3 1l-1 2zM350 914l-2 -4l2 -1l1 1l1 3l-1 1zM275 633l1 -4l1 0l2 2l0 2zM367 679l-2 -1l1 -2l1 -1l1 0l1 3zM296 630l0 2l2 0l1 -2l-1 -1zM125 783l-2 2l-1 -2l1 -2l2 1zM300 691l1 1l0 2l-1 1l-2 -1l0 -1zM303 651l0 3l-4 1l-1 -3l1 -2l1 0zM224 886l-3 1l-2 -2l2 -2l3 0zM302 748l3 -1l1 -3l-4 -1l-1 1zM195 919l0 -1l4 0l1 3l0 0l-3 1zM397 661l-1 -2l-2 -1l-2 1l1 3l1 0zM457 652l-1 0l-3 -2l2 -4l2 0l1 1zM171 736l-1 -2l-2 0l0 2l2 1zM386 669l3 -1l1 1l0 2l0 1l-3 -1zM363 727l1 0l1 1l0 3l-2 -1l-1 -2zM120 825l-2 3l2 1l2 0l1 -3zM442 990l2 2l3 -2l0 -1l-3 -1l-2 2zM519 750l-4 -1l-1 0l1 3l1 0zM201 821l4 -2l0 0l-3 -2l-2 1l1 2zM325 963l1 -2l-1 -2l-2 1l1 3zM282 675l4 -1l1 2l0 1l-2 3l-1 0l-2 -4zM193 736l2 2l-1 2l-1 0l-2 -2zM196 867l-1 0l-1 2l1 2l3 -1l0 -1zM295 765l4 0l1 0l-2 4l-2 0zM453 958l3 1l2 -3l0 -1l-1 0l-3 0l-1 3zM176 662l-3 2l-2 -1l0 -1l2 -2l3 2zM450 821l-3 0l0 -2l3 -1l1 2zM349 943l1 2l3 -2l-1 -3l-2 1zM514 824l2 0l3 2l-2 3l-2 -1zM253 1009l-3 -2l-2 0l0 1l1 3l4 -2zM171 816l-2 1l0 1l2 2l0 0l1 -2l-1 -2zM285 983l3 -2l1 1l0 3l-3 0zM325 930l2 -3l0 -1l-3 -1l-1 1l0 2zM218 711l-1 2l1 2l2 -2l-1 -2zM132 927l-5 0l2 -5l4 3zM505 904l1 0l0 -4l-3 -1l-1 3zM204 705l-1 2l-2 0l0 0l0 -2l3 -1zM522 808l0 3l3 -1l-1 -2l-1 -1zM405 783l3 0l1 3l-5 0zM497 616l-2 0l-1 -1l2 -3l2 3zM396 652l0 -3l3 0l1 2l-1 2z" fill="#e8ddd8" stroke="#e8ddd8" stroke-width="2.2" stroke-linejoin="round"/>
<path d="M175 984l3 2l-2 4l-1 0l-3 -4l2 -1zM538 858l-1 5l4 0l1 -4l-3 -2zM483 831l-4 2l-2 -2l2 -3l4 2zM515 618l4 -2l-3 -3l-2 1l-1 1zM239 903l0 2l4 2l2 -2l-1 -2l-2 -1zM448 831l0 -3l-3 -1l-2 2l0 1l0 0l5 1zM172 788l0 -2l2 -1l1 0l0 2l0 0l0 1zM426 634l-2 -3l1 -2l4 1l0 2l-2 2zM244 868l2 1l0 2l-1 1l-2 -1l-1 -2zM334 971l-3 -3l2 -2l1 0l2 1l-1 3l-1 1zM294 824l4 0l1 -2l-1 -2l-3 -1l-2 2zM338 660l0 -3l-2 -1l-4 3l0 0l2 3l2 0zM221 900l1 1l0 2l-2 1l-1 -3zM246 847l2 0l1 -1l-1 -2l-1 0l-1 0zM471 860l-1 -5l-4 1l0 1l0 1l4 2zM429 992l0 -2l0 -2l1 0l3 2l0 1l-2 2zM538 925l0 -3l-1 -1l-2 0l0 3zM556 977l-1 -3l1 -2l7 2l-7 3zM256 839l-2 2l1 2l2 -1l0 -3zM205 985l1 -4l2 0l1 2l-1 2l-3 0zM220 820l0 -3l0 -1l-3 0l-1 2l0 1l0 1l4 0zM419 930l0 0l-4 2l0 2l1 1l3 0l1 -1zM221 799l-2 2l0 0l3 2l1 -1l-1 -3zM178 823l1 -2l3 0l0 2l-2 2zM544 916l3 -1l0 -2l-3 -1l-1 3zM522 1008l4 1l0 2l-5 11l-1 -5l2 -8zM397 908l-1 -2l1 -1l1 0l1 3l0 1zM208 674l3 -3l-3 -3l-2 2l2 4zM356 750l-2 -1l-2 -3l3 -1l2 1l0 3zM508 695l-4 2l-1 -4l2 -1l3 1zM316 866l-2 -3l-2 1l0 3l1 0l3 0zM473 810l0 0l0 3l3 1l2 -2l-1 -3l-1 0zM207 783l-1 2l2 2l3 -1l-1 -3l-2 -1zM238 801l-1 -1l0 -2l2 -2l1 1l0 1l-1 3zM205 996l1 1l2 0l2 -2l0 -1l-1 -2l-4 1zM359 673l-4 -1l-1 2l0 2l3 1l1 -1zM268 832l3 1l0 0l1 -3l-1 -2l0 0l-2 1zM555 728l3 -1l11 4l-12 1l-1 -1zM293 853l1 3l-1 2l-3 -2l0 -2zM499 832l2 3l0 2l-2 1l-3 -2l0 -2l0 -1l1 0zM291 701l2 -2l2 2l0 1l-1 1l-2 -1zM385 871l1 0l0 3l-3 0l1 -3zM551 990l3 -1l0 0l2 4l-2 2l-3 0zM484 865l2 -1l3 1l0 2l-4 0zM417 658l1 -3l-2 -2l-3 2l2 4zM163 865l0 0l0 1l-1 4l0 0l-2 0l-1 -1l0 -3zM419 1010l-1 2l3 6l1 -7zM144 823l1 4l-3 2l-2 -1l-1 -2l4 -3zM547 925l0 1l4 -1l0 -3l-1 -1l-3 2zM345 902l0 -3l-3 0l-1 2l2 2l1 0zM338 841l-1 -1l3 -3l2 2l0 2l0 0l-4 0zM270 718l-3 2l0 1l2 2l2 -3zM435 911l2 -1l-2 -4l-1 0l-2 3l1 2zM446 739l2 -3l-3 -2l-1 0l1 4zM127 960l0 3l-3 1l-1 -1l-1 -2l1 0l2 -2l2 1zM325 669l2 -2l-1 -2l-3 1l0 1zM121 924l1 0l0 0l2 -4l0 0l-1 0l-3 0l0 3zM380 917l2 -2l2 3l0 0l-1 2l-2 0l-1 -2zM200 740l1 0l3 1l-2 3l-3 -2zM304 622l1 -2l2 -1l0 0l2 3l0 2l-3 0zM388 941l-1 0l3 -2l1 1l0 3l-1 1zM351 663l2 -4l-4 -2l-2 1l0 2zM276 1009l-3 -2l-2 1l2 10l1 3l2 -6zM179 731l0 3l-2 -1l-1 -2l0 -1l1 -1zM144 932l0 0l-1 -3l0 -1l-2 1l-1 2l1 1l2 1zM398 821l4 1l-1 3l-1 1l-4 -3zM278 938l-1 -4l-1 0l-3 0l-1 2l1 4l1 0l3 -1zM218 976l-1 1l-2 0l-2 -1l1 -1l3 -1l1 0zM503 827l3 3l2 -2l0 -4l-2 -1zM192 797l1 2l3 -2l-1 -4l-1 0l-2 3zM174 830l0 0l-2 2l1 2l3 -1l0 -1l0 -1zM263 670l-1 0l-2 -2l0 0l3 -1l1 1zM137 753l-1 -2l0 -1l6 0l1 1l-3 3zM531 629l1 -4l1 0l3 3l-1 2zM316 778l1 1l-1 3l-2 -1l-1 -2l2 -1zM383 786l-3 0l-1 2l3 3l1 -4zM115 648l-14 -4l9 -1l5 1l1 2zM283 757l1 -1l1 -2l-1 -3l-4 2l0 0l2 3zM489 809l0 -3l-1 -1l-3 2l0 3l3 0zM255 619l-1 0l-3 0l0 -2l1 -1l1 0l2 2zM299 945l-2 -2l-1 0l-1 0l0 3l1 1zM377 831l3 1l1 2l-2 1l-2 -1l-1 0l1 -3zM141 668l2 2l2 -2l0 -1l-1 -1l-3 1l0 0zM238 726l0 0l1 4l-1 1l-1 -1l-1 -1zM356 648l3 1l-1 3l-1 0l-3 -2l0 0zM287 728l1 -2l-2 -2l-1 0l0 3zM105 741l9 -2l1 -2l0 -1l-3 -2l-24 6l11 1zM551 777l-1 4l9 -1l1 0l-5 -3zM285 921l-2 0l0 4l0 0l3 -1l1 0zM505 611l1 -2l-5 -14l0 13l3 3zM353 798l-2 -1l-1 -2l5 -2l2 2zM197 877l3 -2l1 2l0 1l-3 2l-1 0l-1 -2zM295 808l0 0l4 0l1 2l-2 2l-3 0zM368 830l0 3l-3 1l-2 -3l0 0l1 -1l4 0zM117 790l0 2l-1 1l-3 -1l2 -3l1 0zM195 804l3 -1l1 1l0 1l-1 1l-3 -1zM266 751l3 1l-2 3l-2 -1l0 -1zM371 795l2 -2l1 -1l3 4l0 0l-2 2zM488 736l2 1l2 -4l-2 -2l-4 0l0 0zM510 812l1 -5l4 1l0 4l-1 1l-2 1l-2 -1zM443 962l-1 2l-4 1l0 -4l2 -1l2 2zM543 808l-2 4l6 2l0 -5l-3 -1zM270 981l0 0l-3 -2l0 1l-2 4l0 1l4 -1zM490 922l4 1l2 -1l-1 -3l-3 -1l-2 2zM393 688l-1 3l1 0l5 -1l-1 -2l-3 -1zM292 759l1 -3l4 -1l1 4l-4 1zM193 775l-1 -1l2 -3l2 2l0 1zM426 786l0 2l-2 1l-3 -1l0 0l3 -3zM540 820l-1 0l0 3l3 1l3 -2l0 -1l0 0zM556 871l2 -4l19 2l-19 4zM252 888l0 -1l-4 -3l-2 3l1 1l4 1zM173 807l-2 -2l1 -2l3 0l0 1l0 2l-2 1zM495 943l1 -1l0 -1l-2 -2l-4 1l0 0l2 3zM189 705l2 1l2 -1l0 -2l-1 -1l-1 0l-2 3zM208 951l-1 0l-1 3l2 2l2 -1l-1 -2zM339 947l-1 3l2 1l3 0l1 -2l-2 -2zM531 806l2 -2l2 2l-1 3l-1 1l-1 -1zM314 989l-1 4l-4 0l-1 -3l1 -2l1 0l3 0zM518 770l-3 1l0 1l1 2l3 0l0 -1l0 -3zM129 846l-3 -2l2 -2l2 0l1 2zM352 950l3 -1l2 1l0 2l-2 1l-2 0l-1 -1zM230 773l1 1l-1 2l-3 0l0 -2zM143 894l1 0l1 -4l-2 0l-3 2l0 0zM413 897l1 1l2 0l1 -3l-2 -1l-2 2zM546 744l0 3l3 1l0 -1l1 -4l-1 0zM118 726l-2 3l2 2l2 -2l-1 -3zM425 597l-2 9l3 5l2 -1l1 -1zM464 770l5 0l0 2l-3 3l-3 -4zM441 942l2 2l0 1l-3 1l-2 -1l0 -1zM429 733l3 -2l-2 -2l-2 1l0 3zM494 795l-1 -3l-3 1l2 3l0 0zM115 758l-8 -2l-5 0l12 5l1 -2zM420 668l2 1l-1 2l-2 0l0 -3l0 0zM300 610l-3 -6l0 6l1 1zM522 638l0 5l-3 1l-2 -3l3 -3zM470 620l1 -1l2 -3l-1 -1l-4 -1l-1 2l1 3zM369 612l-1 2l0 3l4 -1l1 -3l0 0zM515 997l0 2l0 0l-6 -1l2 -4l1 -1l1 0zM375 695l0 0l2 2l1 0l1 -2l-2 -1zM280 790l2 1l1 0l0 -4l-1 0l-2 0zM291 916l3 0l1 2l0 2l-3 1l-2 -4zM384 728l-3 0l0 3l1 0l2 -1zM252 676l2 -4l3 3l-1 2l-1 1zM273 704l-2 -1l-1 3l2 2l1 -2zM381 689l2 1l2 0l0 -3l-4 -1zM309 672l2 -4l2 1l0 1l-2 3l-2 -1zM262 729l1 1l3 -2l0 0l-2 -2l-2 2zM191 717l3 0l0 0l0 -4l0 0l-3 0l0 4zM249 936l3 -1l1 -1l-4 -3l-1 1l0 4zM412 926l3 -2l-2 -2l-3 1l0 0zM277 843l4 1l0 3l-4 0l-1 -3l1 -1zM229 840l-1 -1l0 -1l-3 1l0 0l1 3l2 -1zM252 916l-2 -2l0 -1l2 -1l2 0l0 4zM273 761l-2 -1l0 -1l3 -3l0 0l2 4zM495 953l-2 1l-2 -1l1 -3l3 0zM180 763l-2 0l0 3l2 0l1 -1zM123 854l-1 0l-1 -2l1 -3l0 0l3 3l0 0zM309 806l0 1l2 1l2 -1l0 0l-1 -2l-3 1zM335 714l4 2l1 -3l-1 -1l-3 1zM299 850l3 -1l1 1l-1 3l-2 1l-1 -4zM351 996l2 2l-1 3l-3 -1l-1 -1l0 0zM181 797l0 -3l1 0l2 2l0 1l-3 0zM144 811l1 2l-1 1l-1 0l-2 -2l2 -2zM263 748l-2 1l-3 -2l1 -1l3 0zM155 998l0 -3l3 -2l1 4l-4 1z" fill="#d8c6bc" stroke="#d8c6bc" stroke-width="2.2" stroke-linejoin="round"/>
<path d="M170 927l3 1l-2 3l-3 -1zM414 813l-3 0l0 4l3 1l1 -1l1 -1zM217 937l1 -2l-3 -2l-2 1l1 2zM417 688l0 0l-3 -4l-2 5l1 1zM491 848l0 -1l1 -3l3 1l-1 3zM443 687l-1 -4l0 0l2 -1l2 1l0 4zM333 954l-3 1l0 0l2 3l1 0l1 -3zM448 623l-3 -2l2 -2l2 -1l1 1l-1 3zM274 672l-1 -4l-3 1l-1 3l2 1l3 -1zM218 753l-1 -1l1 -3l1 0l1 1l1 2l-2 1zM522 654l4 -1l0 -3l-2 -1l-3 1l-1 1zM381 852l0 2l3 1l2 -1l0 -2l-3 -2zM239 935l-1 -1l2 -3l2 1l0 3zM153 736l-4 1l1 4l4 -2zM164 778l0 -3l-1 -1l-2 1l0 1l1 2zM182 753l-1 -1l-3 1l0 0l1 2l0 0l2 0zM182 849l2 -2l3 1l0 1l-1 3l-2 0l-2 -1zM121 763l4 1l1 2l-4 2l-2 -1l0 -1zM406 669l4 0l0 4l0 0l-4 0l0 -1zM457 635l-1 1l-2 0l-2 -2l0 -2l2 -1l2 0zM474 656l4 2l1 -1l0 -4l-3 -1l-1 0zM372 805l0 -2l-4 -2l0 0l0 3l2 2zM387 865l2 1l2 -2l0 -1l-2 -2l-2 1zM119 881l-2 1l-1 2l2 1l1 0l0 -1l0 -3zM172 976l2 -4l-2 -1l-2 1l-1 0l3 4zM387 715l2 4l3 -1l1 -1l-3 -4l-1 1zM364 790l-1 0l-2 -2l0 -2l2 -2l4 3l-3 3zM139 712l2 -2l1 0l2 2l-1 1l-3 0l-1 -1zM225 673l1 -1l3 1l1 3l-4 0zM125 630l-2 0l0 1l0 2l3 0zM505 741l0 -3l-2 -1l-3 0l-2 4l2 2l5 -1zM444 703l0 -5l0 -1l2 0l2 1l-1 5l0 0zM393 829l-2 2l1 1l1 1l2 0l0 -2l-2 -2zM207 848l0 3l0 0l2 2l3 -2l-2 -3zM327 846l-1 -2l-1 0l-4 2l1 2l1 0zM248 646l3 0l1 0l-1 -3l-1 -1l0 0l-3 2zM247 713l2 2l-1 2l-3 -1l1 -2zM287 995l-2 -2l1 -2l3 0l0 0l-1 3l-1 1zM327 711l0 0l-4 -1l0 -3l1 -1l3 1l1 2zM546 881l2 -3l1 1l2 1l-1 3l-3 -1zM509 937l-2 3l0 0l3 1l1 -1l0 -3zM253 819l4 0l0 2l-2 2l0 0l-2 -4zM446 955l1 -3l-1 -1l-3 1l1 2zM228 767l-3 1l-1 -1l1 -2l3 0zM474 870l-1 0l-2 3l1 2l3 0l1 -3l-2 -2zM400 932l1 -3l3 -2l2 4l0 1l-1 1zM486 749l1 4l0 0l3 -2l0 -1l-1 -2l-2 0zM283 867l1 0l3 -1l0 -1l-2 -1l-2 1zM497 984l-1 1l-3 -1l0 -1l0 -1l2 -1l2 1zM222 790l-2 -2l2 -2l0 0l2 2l-1 1l-1 1zM252 709l3 -1l2 1l-1 3l-2 0l-2 -3zM480 895l3 -2l0 0l1 1l-1 5l-1 0l-3 -2zM479 696l0 -2l3 -1l3 0l0 1l-1 2l-1 1l-3 0zM238 747l3 1l0 -4l-1 -1l-3 3zM536 830l3 1l0 3l-3 -1l0 -3zM419 712l-3 -3l2 -3l3 0l0 1l0 4zM151 915l-3 1l0 0l-1 -3l3 -1l1 3zM458 1002l3 3l-2 2l-3 0l0 -2l2 -3zM446 838l-5 -2l1 5l4 0l1 -1zM326 993l-1 2l-3 -1l-1 0l1 -4l2 0zM379 718l0 3l1 0l3 0l0 0l-1 -3zM261 773l-1 -2l-1 0l-2 1l2 3l0 0zM240 839l1 -1l0 -3l-1 0l-3 2l1 1zM189 747l0 0l1 -3l-2 -2l-1 0l-1 3l3 2zM339 695l-2 0l-1 -2l4 -3l0 0l1 2zM536 900l0 -2l-1 -3l-3 0l-2 2l3 3zM323 623l0 0l-4 2l-1 1l2 2l4 -1zM537 960l-4 2l0 1l3 2l1 0l0 0l1 -4zM334 671l-2 0l-3 3l1 1l1 1l2 -1l1 -3zM198 891l-2 1l-3 -2l2 -2l1 0zM284 803l3 0l0 -1l0 -2l-2 -1l-1 0l-1 2zM286 1009l2 -2l0 0l2 2l-4 6zM365 952l0 2l2 2l2 -2l0 -1l-3 -2zM210 707l-1 3l0 1l2 0l1 -3l0 0zM237 766l1 0l0 0l3 -1l-1 -2l-3 0l0 1zM468 744l-4 1l-1 3l3 1l1 0l2 -3zM231 860l2 3l-4 2l-2 -1l1 -4zM256 928l0 0l-3 -2l1 -2l2 0l1 0zM450 793l-2 3l-1 0l-2 -2l1 -3l2 -1l2 1zM405 768l-1 -2l-3 0l-1 1l0 4l1 0l4 -3zM317 945l-4 -1l-3 2l2 3l5 -3zM547 894l-3 1l-1 -3l1 -1l3 1l1 0zM238 703l-2 2l0 1l3 1l2 -1l0 -1l0 -1zM536 913l0 -3l0 -1l-2 1l-2 2l1 1l1 0zM434 898l-2 0l-2 -3l2 -1l2 1l0 3zM395 643l-1 -1l1 -2l2 0l2 1l-1 2zM483 670l1 -3l1 0l2 0l1 4l0 0l-4 0zM301 983l-3 -2l-2 1l0 3l0 0l4 0zM279 711l-2 2l0 0l2 2l2 1l2 -1l0 -1l-1 -3zM427 649l-3 0l-2 -2l0 0l3 -2l1 0l1 2zM508 754l-2 3l0 0l-3 -3l1 -2l3 -1zM549 654l1 -3l2 0l1 3l-1 2zM210 727l0 -2l3 -1l1 1l-1 3l-1 0zM206 843l3 -1l1 -3l-2 -1l-2 0l-1 3zM244 803l1 -3l3 1l-1 3l-1 1zM124 745l2 0l0 -1l0 -1l-3 -1l-1 1zM449 670l-2 4l3 1l2 0l1 -3l-3 -3zM427 902l-2 3l0 0l-2 -3l1 -3l1 0zM249 895l-2 3l-2 -2l0 -2zM212 695l0 2l0 0l2 1l1 -2l-1 -2zM290 872l0 1l-1 4l-2 0l-1 -3zM344 917l-2 -5l0 0l-4 2l1 2l5 1zM501 674l3 2l-2 2l-4 -1l0 -1l0 0zM232 902l0 2l-2 1l-2 -1l1 -2l2 -1zM166 708l-1 1l-4 -1l0 -2l2 -2l3 2zM293 671l2 -2l-1 -3l-2 1l-1 2zM126 732l-1 3l0 0l3 1l1 -2l-1 -1zM344 729l-1 -1l-1 0l-4 3l0 0l2 2l0 0l4 -2zM132 832l-2 2l-1 0l-1 -2l1 -3l1 0l1 1zM135 805l1 1l0 0l3 -2l-1 -2l-3 -1l-1 1zM166 800l-1 -1l-1 0l-2 2l1 1l2 -1zM228 760l0 0l0 -3l-2 0l-2 1l1 2zM478 922l1 -3l3 1l0 3l-1 1l-2 -1zM129 777l2 -2l-1 -3l-1 -1l-3 2l0 2zM529 997l0 0l1 2l-2 2l-3 0l0 -2zM154 937l1 -1l3 0l0 0l0 3l0 0l-2 0zM163 717l-3 1l-2 -3l2 -1l3 1zM509 650l2 -1l0 -1l-1 -3l-2 0l-2 3zM412 986l0 0l-3 -1l0 -3l4 -2l0 0l0 1zM536 754l-1 5l-3 -1l-1 -5zM537 726l-2 -1l1 -3l5 0l1 3zM282 655l1 -3l-2 -2l-2 1l0 2l1 2zM510 970l2 -1l-2 -4l-2 0l-1 2l2 3zM250 696l-1 4l1 1l3 -1l1 -2l-3 -2zM175 998l2 2l-1 3l0 0l-4 -1l-1 -1l3 -3zM452 945l1 -1l2 0l2 4l-4 1l-1 -2zM503 973l-2 -3l-3 1l0 3l2 1zM96 920l15 -3l3 2l-1 3zM171 699l0 -3l-1 -1l-4 0l0 1l0 2l3 2zM372 982l0 2l1 1l3 -1l0 0l-1 -3zM299 791l2 1l2 -1l0 -2l-3 -1l-1 0zM258 953l2 4l-2 1l-3 -1l0 -3zM530 737l-3 3l-1 -3l2 -3l0 -1l2 2zM475 629l1 -1l3 2l0 4l-2 0l-3 -2zM361 719l-1 -2l0 -1l2 -1l1 2l0 2zM192 966l-1 3l1 1l1 0l3 -1l1 -2l-3 -2zM303 783l3 2l2 -2l-1 -3l-2 0zM523 939l-1 -3l-2 -1l-3 1l1 3l4 1zM352 821l0 2l3 2l1 -1l0 -3zM158 796l-1 4l-2 -1l-1 -2l3 -2zM267 692l3 -2l-2 -2l-2 1l0 3zM546 952l6 -2l2 1l-3 4l-4 -1l-1 -1zM480 645l2 2l3 -2l-1 -2l-2 -1l-2 1zM478 751l1 4l-3 1l-1 -2l1 -3zM153 771l0 2l-3 0l-1 -1l0 -3l1 0zM512 657l2 -1l2 2l-1 2l-2 0l-1 -1zM173 880l-2 3l-2 0l-1 -4l0 0l5 0zM422 742l1 0l-1 -2l0 0l-4 0l0 0l0 3zM369 721l0 -3l4 -1l0 0l0 4l-3 1zM288 645l1 0l2 2l-1 2l-2 0l-1 -2zM261 977l-2 4l-1 -1l-1 -3l2 -1zM315 643l2 -2l3 3l-1 1l-1 1l-2 -2zM156 979l-3 0l0 -1l1 -2l2 0zM333 820l0 3l3 0l-1 -3zM339 616l1 -2l1 0l3 2l-2 3l-1 0zM198 977l1 1l-1 3l-2 0l-1 -4zM470 836l2 0l2 1l-1 3l0 0l-3 -2zM269 746l2 1l1 0l0 0l-1 -4l-3 1l0 0zM411 734l-3 -1l-1 -1l2 -2l2 0l0 3zM501 728l0 -4l-3 -1l-2 3l2 2zM149 760l-2 1l0 -1l-1 -2l2 -2l3 2zM475 903l-2 1l0 3l2 1l2 -3zM451 862l-1 -2l2 -2l4 1l0 1l-1 3zM279 875l1 1l1 2l-2 1l-1 -1l0 -3zM459 705l-4 -1l1 -4l0 0l5 2zM359 697l2 2l2 -4l-3 -1l-2 2zM147 728l4 2l-1 0l-3 2l-1 0l0 -3zM425 955l0 -4l0 0l3 0l0 3z" fill="#cfc6d8" stroke="#cfc6d8" stroke-width="2.2" stroke-linejoin="round"/>
<path d="M554 686l3 2l-3 3l-1 0l-1 -3zM505 656l-3 -2l-2 1l-1 3l3 2l3 -1zM145 971l-2 2l0 1l0 0l4 1l1 -2l-1 -1zM263 797l0 -1l3 0l1 0l0 3l-3 0zM304 735l1 -2l2 -1l2 0l0 1l-1 2l-1 1l-3 -1zM137 770l1 2l1 1l1 -1l0 -3l0 0zM252 765l-2 2l1 2l1 0l1 -2zM149 836l-1 1l-2 0l0 -2l2 -1l1 1zM172 797l-1 -2l1 -1l3 0l0 3zM272 909l1 -2l-2 -2l-3 1l0 0l3 4zM295 831l3 0l1 1l-1 2l-3 0l0 0l0 -3zM521 915l-3 -2l-2 1l1 3l2 1l2 -2zM359 939l0 2l2 1l1 0l1 -3l-1 -1l-2 0zM275 640l3 0l1 1l-1 2l-1 0l-2 -1l0 -2zM392 791l-2 3l-2 -1l0 0l1 -4zM340 958l-1 2l2 2l1 0l2 -3l-1 -1zM203 896l2 3l-3 2l-2 -1l0 -2l2 -2zM146 875l4 2l0 0l-2 3l0 0l-1 0l-2 -3zM312 650l2 2l-2 4l-2 -2l0 -3zM417 758l0 2l-4 1l-2 -2l2 -4l1 0zM424 809l0 3l-2 1l-2 -3l1 0l3 -1zM521 981l-3 -4l-1 0l-2 1l1 5l0 0zM282 625l2 -2l3 2l-3 2zM312 692l-3 2l-1 0l0 -3l3 0zM294 889l0 -3l3 1l0 2zM306 818l3 0l0 -4l-3 -1l-1 3zM233 619l2 -3l-1 -1l-3 0l0 0l0 2zM253 813l4 0l1 -1l-1 -2l-3 1l-1 0zM503 852l-2 -2l1 -3l2 0l1 1l-1 3l0 1zM554 674l3 -2l-3 -3l-2 2zM366 899l-1 -1l0 -3l1 -1l2 1l1 1l-1 1zM444 936l3 -2l1 4l-1 1l-3 -2zM153 719l-2 0l0 1l-1 3l4 2l0 -1l1 -2zM261 740l0 -1l-1 -2l-1 0l-1 1l-1 2l1 0zM130 720l1 1l0 2l-1 2l-3 0l-1 -3zM521 743l0 0l-5 -1l0 -3l0 0l4 0l1 4zM398 981l3 2l0 3l-1 1l-3 -1l0 -4zM414 1005l-1 -1l-2 2l1 2l1 0l2 -2zM491 900l1 0l3 -1l1 -3l-1 -1l-4 -1zM266 954l0 0l-2 -3l0 -1l4 -1l0 0l1 3zM444 1013l1 -3l0 0l2 0l1 2l-3 8zM374 641l-1 -1l-1 -2l2 -3l2 0l1 0l0 4zM198 931l1 -3l2 0l1 3l-2 1l-2 0zM428 673l2 2l2 0l0 -1l-2 -3l-1 0zM418 641l-2 -3l1 -2l2 0l2 3zM367 1006l1 2l-3 3l-2 -3l3 -2zM234 952l-3 2l-2 -1l0 -3l4 -1zM121 715l1 0l4 -2l0 0l-3 -3l-2 0l0 0l0 5zM269 769l0 0l0 -3l-1 -1l-3 2l2 2zM210 758l-1 -1l-3 -1l0 1l-1 2l1 1l3 0zM369 844l-2 0l-2 -1l0 -2l4 0l0 0zM237 830l-1 -1l-2 -2l-2 1l1 3l1 1zM143 696l3 0l1 0l0 3l-2 2l-2 0l-1 -2zM120 996l5 1l-1 -4l-3 0zM504 932l-3 5l-2 -3l0 -3l2 -1l2 1zM474 784l1 0l1 0l1 -4l0 -1l-2 -1l-4 3l0 0zM447 658l1 1l1 0l2 -2l-2 -2l-1 0zM201 716l0 -2l2 0l1 1l-1 1zM504 773l0 -2l-2 -2l0 0l-3 3l0 3l1 2l0 0zM327 883l0 1l0 2l4 -1l1 -1l-2 -2zM256 689l2 1l1 0l1 -3l-2 -1l-1 0zM517 782l2 0l1 3l-1 1l-3 0l0 -1zM216 795l-1 -2l-1 0l-2 1l0 1l3 2zM290 708l2 1l-1 2l-2 1l0 -3zM364 764l1 -3l0 -1l-2 -1l-1 1l0 2zM535 605l2 7l-3 3l-1 -1l-1 0zM460 611l-3 -6l-1 7l0 1l3 -1zM525 877l-3 -3l0 -1l2 -2l3 1l1 3zM431 711l2 0l2 -3l-4 -3l-2 1l0 4zM390 630l1 -3l3 1l-1 4l-1 1zM217 666l-3 -3l0 -1l3 -2l3 3l0 2l-2 1zM507 875l1 2l2 1l3 -3l0 -1l-3 -1zM495 642l2 -2l1 0l1 2l-1 2l-1 1l-2 -2zM337 703l0 3l-3 1l0 -2l1 -2l2 0zM243 814l-1 -2l-3 -2l-1 0l-1 3l1 1l3 1l1 -1zM331 830l-1 0l0 2l1 2l1 1l4 -3l0 -1l0 -1zM142 859l2 -2l2 1l0 0l1 2l-4 3l-2 -2zM316 618l-2 -3l1 -1l3 1l0 1zM118 974l1 2l3 -1l0 0l-1 -3l-1 0zM439 654l2 -3l-2 -2l-3 1l0 2l2 2zM161 835l-1 1l-1 1l3 2l1 0l1 -1l-1 -2zM145 844l-2 2l1 2l3 0l0 -4zM321 676l-3 2l-1 -2l1 -2l3 1zM425 1001l-3 2l0 1l3 2l1 -1l1 -2l-1 -1zM334 936l-3 0l0 -1l2 -3l2 2zM212 719l0 0l-1 -2l-2 0l-1 2l1 1zM480 765l-1 2l1 1l2 2l2 -3l0 -3l-1 0zM267 1002l1 1l2 -1l0 -1l-3 -1zM193 756l1 -1l3 1l0 2l-2 1zM422 888l0 0l-3 -2l-1 -3l0 0l4 -1l3 2l-1 2zM189 840l0 -1l0 -3l-3 0l-1 1l1 3zM463 695l-3 -1l2 -3l2 0l2 2l-1 1zM306 1009l-1 1l3 7l0 -7zM345 676l0 2l-2 3l-1 -1l-2 -2l1 -3zM543 774l-1 4l0 0l-1 0l-2 -3l1 -4l2 1zM368 749l2 -2l-1 -4l-4 3l0 3zM452 966l3 0l1 2l-1 3l-3 -1l-1 -2zM276 798l1 -1l-1 -1l-2 0l0 2l0 0zM286 890l-2 -1l-1 -3l2 -1l2 0l0 1l0 4zM489 650l3 2l-1 3l-2 1l-2 -1l-1 -3zM234 927l0 1l-1 5l-4 -1l1 -4zM317 826l1 0l2 2l0 1l-3 0l-1 0zM421 842l-2 -1l-1 -2l1 -1l2 -1l2 2l0 1zM348 641l1 4l3 -2l0 -2l-3 -1zM523 819l0 0l1 3l3 -1l0 0l0 -2l-1 -1zM246 682l1 4l1 0l1 0l1 -3l-2 -2l-2 1zM307 840l0 1l2 0l0 -4l0 -1l-3 0l-1 2zM351 762l-1 -2l3 -1l2 0l0 3l-2 1zM474 968l1 -4l1 0l2 4l0 2l-3 0zM376 994l4 -1l0 0l-2 -3l-3 1zM461 818l1 -2l0 -4l-4 1l-1 2l1 2zM547 756l0 3l-3 2l-2 0l0 -1l1 -5l1 0zM232 974l0 0l-1 3l-1 0l-2 -1l0 -2l3 -1zM382 935l3 -3l-1 -3l-3 0l-1 4zM336 1007l4 7l0 0l1 -8l-1 -1zM300 724l2 2l2 -1l-1 -3l-2 0zM317 876l-3 0l0 3l0 1l3 0l1 -1zM426 723l1 -3l-2 -1l-3 1l-1 3l3 1zM388 735l3 1l-1 3l-3 0l-1 -3zM170 945l-4 0l0 0l1 4l3 0zM375 676l-1 -4l3 -1l1 1l1 2l-1 2zM400 708l-3 0l0 1l2 3l1 0l2 -3zM339 811l-2 1l-2 0l-1 -1l1 -3l3 0zM397 922l-3 -2l1 -1l1 -1l2 0l1 2l0 0zM225 828l2 1l0 3l-3 0l1 -3zM374 960l1 1l0 1l-1 2l-2 0l-1 -1l0 -1zM544 1009l3 3l-2 6l-3 -6zM539 994l3 1l1 -1l0 -4l-1 -1l-4 3zM132 871l-2 2l0 0l1 0l2 2l2 -1l0 -2l0 0l-1 -1zM465 682l1 -4l-2 -1l-2 0l-1 2l2 2zM274 610l0 0l4 -5l1 6l-4 0zM348 736l-4 3l2 2l2 0l2 -2l0 0zM202 793l-2 0l1 4l1 1l2 -2l0 -2zM115 860l-9 -1l-3 -1l12 -2l2 1zM239 685l-3 0l0 3l1 1l3 -1zM404 974l3 -3l2 3l-3 1l-2 -1zM435 819l3 -1l1 1l0 2l-2 2l-2 -1zM471 894l-3 -2l-2 1l0 0l0 2l3 1l1 -1zM188 757l2 5l0 0l-3 0l-1 -2l2 -3zM130 894l0 -1l-1 -1l-3 0l-1 1l1 4l2 0zM528 925l-2 2l-1 -1l-1 -3l3 -2l1 1zM197 911l1 -1l0 -1l-2 -1l-2 1l1 2zM357 885l0 -1l2 -3l2 2l0 2l-2 1zM280 856l1 0l0 -2l0 -1l-3 0l-1 2zM317 697l0 4l-1 0l-2 0l-1 -2l3 -2zM399 970l3 -4l0 0l-2 -1l-3 0l0 1zM481 622l1 -2l4 0l1 2l-1 2l-2 0zM485 947l-1 -2l-3 1l1 4l2 0zM294 961l-3 2l0 3l4 -1l0 -2zM448 596l1 6l-2 8l-2 0l-1 -1zM429 798l1 0l2 -2l-2 -2l-2 1l1 3zM458 836l3 0l1 0l0 2l-2 2l-2 -1l0 -2zM250 760l-1 -2l-1 0l-1 2l1 1l0 0l2 -1zM177 813l2 2l3 0l1 -1l0 -2l-4 -1zM171 683l-1 3l-3 -1l0 -1l1 -3l1 0zM313 721l0 -2l-3 0l0 0l1 3l1 1zM287 611l0 0l3 -1l0 -6l-2 -5l-1 6zM206 917l-2 -2l1 -2l4 1l-2 3zM373 871l1 2l2 1l1 -1l0 -3l-2 -1zM527 679l1 -2l-2 -2l0 0l-3 2l1 2l1 1zM308 875l-1 3l-3 1l-1 -5l4 0zM244 695l-1 3l-3 -1l0 -2l3 -1zM414 851l-1 -1l-3 2l0 1l0 0l3 1l1 -2zM337 750l1 0l1 -3l-1 -2l0 0l-3 3l0 0zM493 995l-3 0l0 0l0 -4l3 1zM135 992l-1 -1l-4 0l0 1l1 4l0 0l4 -2zM555 842l2 4l16 -5l-16 -1zM139 819l-3 2l-2 0l1 -5l1 0zM305 770l0 -3l1 0l3 3l-2 1l-2 0zM411 647l0 0l-2 -3l-2 0l-1 2l1 3l1 0zM486 959l-3 1l-1 0l2 4l4 -1l0 -2zM427 622l-1 -2l1 -1l2 0l1 3l0 0zM204 826l3 -2l1 1l-1 4l-2 0l-1 -1zM464 880l-1 2l-2 1l-1 -3l1 -1l2 0zM393 760l-1 -2l2 -2l2 3l-1 1zM497 666l0 2l-2 1l-1 -4l1 0zM263 760l-2 -1l-2 2l0 0l1 2l1 0l2 -2zM215 831l1 -3l2 0l0 4l0 0l-2 0zM486 819l-2 0l-3 2l1 1l4 2l1 -1zM356 989l2 -1l1 2l0 1l-2 0l-1 -1zM131 702l-1 2l3 3l2 -3l-1 -2zM211 653l-2 1l-3 -2l0 -1l2 -1l3 2zM480 740l-3 0l-1 -2l0 -1l4 -3l2 5zM442 973l1 1l-2 2l-3 0l-1 -2l1 -1zM379 704l3 3l-2 2l-2 0l-1 0l-1 -2l2 -3zM208 814l-3 -2l0 -1l1 -2l2 1l1 2zM348 752l-1 -2l-2 0l-1 2l2 2zM379 824l3 1l1 -2l-2 -1zM237 754l2 0l1 1l-1 2l-3 0l0 -2zM154 987l-3 -1l-2 3l3 2l3 -3l0 0zM255 751l-2 3l2 2l3 -2l0 0zM373 627l1 -1l1 -2l-1 -1l-4 1l0 0zM409 998l-3 2l-1 -1l0 -3l1 -1l2 1zM464 716l-1 4l1 2l1 0l5 -3l-1 -2zM253 795l0 0l0 0l-3 -2l-1 1l0 1l2 2zM363 961l0 2l-3 1l-1 -4l2 -1zM375 845l1 -4l3 1l0 3l-2 1zM123 835l1 2l-3 3l0 0l-2 -1l1 -4zM367 823l-4 1l0 -3l0 0l3 0zM341 927l2 -3l-4 0l-1 1l0 1l2 2zM230 732l1 1l-2 1l-1 -1l0 -2zM306 825l3 0l0 0l0 4l-3 0l-1 -2zM441 930l3 -1l1 -1l0 -1l-4 -1l-1 3zM381 806l0 -2l2 -2l3 1l0 0l-1 3l-3 1zM368 865l-2 -4l1 -1l4 1l0 2l-2 2zM463 845l2 4l3 -1l1 -2l-3 -2zM386 845l3 1l1 0l-1 -4l-2 -1l-1 1zM183 918l-2 -4l3 -3l1 0l2 4l-1 1zM543 619l-2 -2l-3 3l4 4l0 0zM185 945l0 -1l3 1l0 1l0 1l-3 0zM258 828l1 3l2 0l1 -1l1 -3l-2 -1zM379 967l2 -2l3 2l-1 2l-2 0zM246 654l2 4l2 0l1 -5l-5 0zM477 711l2 2l1 0l3 -2l-1 -4l-4 -1zM533 1006l3 -3l2 1l1 1l-2 3l-3 0zM326 748l0 0l-2 -2l-2 0l-1 4l1 0zM328 810l-2 -1l-2 -2l0 0l2 -2l3 0l0 0zM240 856l0 3l-2 1l0 0l-2 -3l1 -1zM309 798l0 1l-3 1l0 -2l1 -1zM545 677l0 0l2 -1l2 2l0 1l-3 2l0 0zM431 808l1 -1l3 3l0 1l-3 2l-1 -1zM297 841l2 0l1 2l-2 1zM385 960l0 -1l3 -2l1 3l0 1l-2 1zM160 815l-2 2l2 3l2 -2l0 -1zM186 883l1 3l1 0l2 -2l-1 -2zM276 618l3 0l0 0l0 1l-2 2l-1 0l0 -1zM551 770l-2 -2l2 -2l2 1l0 2zM366 874l-3 1l0 1l2 2l2 -2l-1 -2zM325 1004l-3 1l-2 -1l0 -4l4 1zM452 883l-2 3l0 1l0 0l5 0l0 0l-2 -4zM335 906l0 3l0 0l3 -2l-2 -2z" fill="#ddd3da" stroke="#ddd3da" stroke-width="2.2" stroke-linejoin="round"/>
<path d="M120.0 675.9L135.0 672.7L150.5 665.2L165.5 664.4L180.6 675.2L190.6 683.1L189.9 686.7L165.5 697.4L150.5 706.4L142.6 721.4L135.0 739.7L129.0 751.5L120.0 760.8Z" fill="#efebe9" stroke="#d8b898" stroke-width="1.6" stroke-linejoin="round"/>
<path d="M201.7 683.1L213.2 678.8L227.5 681.3L243.6 688.5L261.5 699.2L264.0 707.4L252.6 706.4L238.2 701.0L220.3 694.5L206.0 689.5Z" fill="#efebe9" stroke="#d8b898" stroke-width="1.6" stroke-linejoin="round"/>
<path d="M183.8 657.3L198.8 655.1L216.7 653.7L238.2 652.3L256.2 650.1L270.5 644.4L279.5 642.9L280.5 650.1L266.9 657.3L245.4 661.6L223.9 663.7L206.0 664.4L188.1 663.7Z" fill="#efebe9" stroke="#d8b898" stroke-width="1.6" stroke-linejoin="round"/>
<path d="M274.8 865.8L288.4 851.5L306.3 835.4L322.5 819.2L333.2 796.0L342.2 772.7L352.2 747.6L360.8 722.5L367.2 692.0L375.1 686.7L377.3 701.0L373.0 729.7L366.5 754.7L356.5 779.8L348.6 808.5L336.8 833.6L320.7 851.5L301.0 871.2L285.5 892.7L276.9 890.9Z" fill="#efebe9" stroke="#d8b898" stroke-width="1.6" stroke-linejoin="round"/>
<path d="M359.4 1001.3L363.7 959.0L370.8 916.0L377.3 865.8L383.4 815.7L388.7 769.1L395.2 729.7L401.3 697.4L405.9 684.9L414.5 686.7L418.8 715.3L416.0 747.6L409.5 776.2L402.4 815.7L396.6 862.2L392.3 901.7L388.0 948.2L384.4 1001.3Z" fill="#efebe9" stroke="#d8b898" stroke-width="1.6" stroke-linejoin="round"/>
<path d="M431.0 973.3L433.9 937.5L432.5 901.7L436.8 858.7L441.1 815.7L446.8 776.2L451.5 744.0L460.4 724.3L473.0 718.2L485.5 721.8L492.7 730.4L481.9 751.2L471.2 776.2L462.2 804.9L456.1 837.2L451.8 873.0L455.4 898.1L446.8 926.7L440.7 973.3Z" fill="#efebe9" stroke="#d8b898" stroke-width="1.6" stroke-linejoin="round"/>
<path d="M208.1 908.1L217.5 901.7L228.2 901.7L238.2 910.6L246.1 926.0L255.4 929.6L264.0 922.4L271.9 926.0L262.6 942.9L252.6 962.6L246.1 1001.3L231.8 1001.3L233.9 969.7L231.1 941.1L223.2 921.4L212.4 916.0Z" fill="#efebe9" stroke="#d8b898" stroke-width="1.6" stroke-linejoin="round"/>
<path d="M527.8 620.0L546.4 620.0L546.4 655.1L535.7 655.1L531.4 640.1Z" fill="#efebe9" stroke="#d8b898" stroke-width="1.6" stroke-linejoin="round"/>
<path d="M517.0 808.5L532.1 813.9L528.5 837.2L524.2 865.8L518.5 891.6L511.3 889.1L513.4 858.7L514.2 830.0Z" fill="#efebe9" stroke="#d8b898" stroke-width="1.6" stroke-linejoin="round"/>
<path d="M121.8 738.1l2.4 4.1M121.4 696.2l2.1 4.0M142.1 695.9l-0.1 6.1M146.5 678.1l0.9 6.7M147.1 686.6l-0.2 7.3M173.2 677.2l2.2 3.9M124.3 743.3l2.1 4.5M130.0 692.6l3.0 3.7M166.8 691.3l2.6 3.2M131.8 701.3l3.8 5.0M164.2 674.7l0.7 4.5M121.4 748.9l3.3 6.5M128.6 730.3l3.6 6.1M132.8 705.1l3.5 5.6M125.2 737.3l2.4 4.3M137.1 674.1l2.5 5.7M152.5 685.2l3.2 5.4M178.5 685.1l0.3 4.1M127.0 702.9l-0.2 6.6M150.9 672.5l3.2 5.6M132.0 721.9l2.7 4.1M162.1 681.2l3.0 4.2M131.0 677.6l-0.1 6.4M155.8 684.7l1.3 6.2M151.3 673.1l1.0 5.4M124.3 744.8l-0.3 6.3M152.9 690.0l0.3 6.4M129.9 689.5l2.8 4.4M126.7 726.9l3.1 6.2M177.5 679.9l3.7 5.6M229.7 690.8l4.1 -0.5M222.4 686.3l6.9 0.3M220.5 686.6l6.7 2.3M246.3 698.4l5.3 -0.0M215.0 686.1l6.6 0.2M254.3 699.0l4.1 1.4M214.4 679.9l5.3 3.7M233.2 695.6l4.5 2.1M242.7 696.6l5.1 1.6M214.6 685.5l5.3 4.0M243.0 698.0l5.7 0.4M252.3 703.3l4.1 1.3M235.1 690.5l6.3 2.2M222.3 690.1l7.3 -0.9M254.6 700.3l5.7 1.0M249.6 701.5l4.4 1.1M212.8 685.5l4.1 -0.4M257.6 703.3l4.9 1.3M257.5 704.4l6.6 -0.5M221.5 687.5l3.5 2.1M224.5 691.3l4.3 2.1M239.6 695.9l4.4 1.7M242.1 692.1l3.9 3.3M247.5 654.1l6.9 1.0M247.9 654.4l3.5 1.9M250.3 655.3l4.5 0.2M186.4 660.1l5.0 -0.8M272.5 646.5l5.7 0.5M206.7 657.7l5.4 0.4M273.5 645.0l3.8 1.6M202.6 658.9l6.8 2.3M275.3 648.7l3.9 1.7M236.2 656.8l7.3 -0.1M241.6 658.3l6.3 -0.2M266.9 652.9l4.4 1.9M227.5 655.5l6.4 0.6M186.5 658.7l6.8 3.4M275.2 647.7l3.8 1.6M208.9 660.9l4.4 0.6M187.2 661.5l5.7 -0.2M258.0 649.9l7.5 0.5M263.8 653.8l4.2 -0.5M295.8 853.1l1.2 7.0M313.5 839.3l0.1 4.0M319.0 827.2l0.9 4.5M304.9 845.3l0.9 7.5M324.0 821.3l-0.1 5.2M300.7 842.6l-0.1 6.2M283.2 858.9l0.2 5.3M336.6 810.2l0.6 6.6M356.3 764.3l3.2 6.9M294.9 854.2l0.6 5.0M292.6 869.9l-0.6 5.2M345.2 806.6l1.6 4.3M363.5 738.9l3.0 4.7M382.3 955.8l-0.7 7.5M388.0 877.7l0.6 5.1M406.4 731.4l2.6 3.6M373.5 896.7l3.2 4.8M387.9 823.1l2.6 4.2M371.4 977.9l2.4 3.7M368.2 941.8l4.2 5.4M382.4 912.8l0.5 4.9M380.9 919.3l1.5 7.4M389.3 902.5l0.1 4.8M408.7 736.9l0.8 5.8M375.3 934.3l2.4 3.6M374.8 949.5l-0.4 4.6M397.3 773.0l3.1 5.6M395.0 814.0l2.6 4.4M393.3 779.1l3.0 6.2M385.2 872.4l4.4 6.1M369.5 966.8l0.4 7.5M396.8 792.1l-0.3 5.5M403.4 773.8l2.4 5.2M400.1 733.4l2.8 3.6M395.9 762.7l2.8 5.7M375.1 959.7l0.1 5.6M446.4 831.9l3.8 5.0M445.3 867.3l1.4 4.3M457.8 801.7l1.5 7.0M450.9 770.8l3.4 6.6M449.5 839.1l-0.9 7.5M457.1 747.4l0.0 4.3M479.9 735.4l2.1 6.2M450.9 810.9l3.7 4.8M449.5 783.8l2.5 3.9M468.8 745.8l-0.1 5.8M448.4 804.8l0.8 5.8M457.8 749.4l-0.7 5.8M447.2 832.1l-0.4 4.9M445.5 894.2l-0.1 6.5M464.4 736.6l-0.1 4.3M461.8 731.2l2.4 7.1M453.5 771.2l0.0 5.4M442.7 857.4l2.8 4.8M462.1 734.4l0.1 7.3M465.3 776.0l1.2 5.2M462.9 750.1l0.2 7.5M242.0 959.9l0.6 4.7M257.5 936.7l3.0 6.2M238.2 944.0l-1.0 6.8M251.0 945.4l3.2 6.0M235.5 990.9l3.2 4.3M253.7 948.1l3.8 5.8M227.9 917.0l-0.3 4.8M243.4 952.5l3.0 4.6M245.1 951.2l2.5 3.8M244.3 936.0l-0.5 4.5M225.4 910.9l2.3 3.7M239.7 945.3l0.7 5.9M230.8 925.1l0.7 6.3M242.7 927.6l2.0 5.5M243.1 942.2l-0.2 6.5M245.9 972.8l2.2 3.9M219.0 906.4l3.5 4.9M229.2 903.6l-0.2 5.0M234.4 981.2l1.2 5.1M244.4 955.3l3.2 6.1M217.3 909.2l2.1 3.4M222.4 909.6l0.6 5.5M534.7 624.8l-0.5 6.5M533.1 630.8l0.0 4.2M537.4 621.6l-0.7 5.6M533.1 626.6l0.6 4.2M535.0 639.7l3.0 5.1M540.2 626.6l0.2 5.9M533.3 636.1l0.9 5.8M538.4 626.2l1.7 4.0M532.3 629.6l-0.2 6.0M540.2 639.8l1.8 5.2M534.9 621.7l1.3 5.1M532.8 634.0l1.1 4.9M542.0 635.8l1.3 4.7M542.0 628.2l2.3 5.5M531.4 630.0l3.4 4.9M535.7 622.8l-0.7 7.3M536.6 623.7l3.2 6.6M529.4 618.7l1.9 6.6M536.6 630.0l-0.0 6.0M540.3 647.8l-0.5 7.6M537.7 629.6l-0.2 6.2M540.5 646.3l0.2 5.4M539.7 638.2l2.3 5.9M537.9 632.8l4.6 5.7M542.3 637.2l-0.8 6.4M537.6 623.6l3.4 5.3M542.5 624.2l0.3 5.0M534.4 625.1l2.5 6.3M535.8 638.8l1.0 4.5M536.8 640.6l1.4 7.0M535.2 641.8l1.6 4.6M532.7 622.9l2.7 5.2M541.0 640.0l1.1 4.9M535.7 647.8l2.5 4.0M537.2 627.2l1.7 3.9M535.1 620.3l2.3 6.2M536.8 620.8l-0.3 4.9M534.9 629.5l0.2 4.0M532.8 634.6l3.0 4.8M538.5 635.1l0.3 5.2M534.1 620.3l0.9 6.1M541.0 644.6l1.9 4.3M518.8 823.6l2.8 3.7M520.8 833.3l-0.7 5.5M519.7 857.3l3.6 4.6M518.4 833.9l0.8 5.8M513.7 872.5l2.4 6.8M526.2 829.1l0.9 4.6M518.2 833.0l0.6 5.8M516.6 874.1l1.6 5.9M515.9 862.4l4.5 5.8M515.3 871.8l-0.6 5.8M518.0 846.5l1.0 7.4M527.7 818.0l-0.8 5.3M525.0 830.5l3.4 5.4M520.9 815.2l4.2 6.1M521.7 850.7l2.3 4.4M516.9 857.1l0.5 6.8M515.6 833.1l3.4 6.8M516.9 848.5l4.0 5.6M518.2 816.2l4.5 5.4M513.7 863.9l2.8 7.0M528.4 820.1l0.4 5.3M522.9 823.0l0.9 6.2M521.7 840.5l0.2 6.0M518.8 849.5l4.6 5.8M522.8 838.2l-0.7 6.9M526.9 817.3l0.7 4.8M520.8 811.0l-0.8 7.0M525.9 829.2l-0.7 4.9M523.8 814.6l1.8 3.6" stroke="#5a68aa" stroke-width="1.3" stroke-linecap="round" fill="none" opacity=".85"/>
<ellipse cx="342.2" cy="871.2" rx="24" ry="18" fill="#efe2d2" stroke="#3a1806" stroke-width="3"/>
<ellipse cx="349.2" cy="868.2" rx="8" ry="7" fill="#d6c8bc" stroke="#8a5a30" stroke-width="2"/>
<path d="M330.2 874.2q6 -8 12 -2q4 6 -2 8z" fill="#7a4418"/>
<ellipse cx="417.4" cy="822.8" rx="11" ry="10" fill="#2e1204"/>
<ellipse cx="170.2" cy="933.9" rx="6" ry="5" fill="#1e0a02"/>
<path d="M164.2 937.9q6 5 12 -1" fill="none" stroke="#f4eee8" stroke-width="1.6"/>
<circle cx="143.3" cy="821.0" r="6" fill="#f6f2ee"/>
</g></g>
<line x1="111.1" y1="66.8" x2="111.1" y2="429.4" stroke="#000" stroke-width="4.5"/>
<line x1="108.8" y1="427.2" x2="817.7" y2="427.2" stroke="#000" stroke-width="4.5"/>
<line x1="96.6" y1="69.1" x2="111.1" y2="69.1" stroke="#000" stroke-width="4.5"/>
<line x1="96.6" y1="188.5" x2="111.1" y2="188.5" stroke="#000" stroke-width="4.5"/>
<line x1="96.6" y1="307.8" x2="111.1" y2="307.8" stroke="#000" stroke-width="4.5"/>
<line x1="96.6" y1="427.2" x2="111.1" y2="427.2" stroke="#000" stroke-width="4.5"/>
<line x1="111.1" y1="427.2" x2="111.1" y2="440.9" stroke="#000" stroke-width="4.5"/>
<line x1="195.5" y1="427.2" x2="195.5" y2="440.9" stroke="#000" stroke-width="4.5"/>
<line x1="280.0" y1="427.2" x2="280.0" y2="440.9" stroke="#000" stroke-width="4.5"/>
<line x1="392.6" y1="427.2" x2="392.6" y2="440.9" stroke="#000" stroke-width="4.5"/>
<line x1="477.0" y1="427.2" x2="477.0" y2="440.9" stroke="#000" stroke-width="4.5"/>
<line x1="589.6" y1="427.2" x2="589.6" y2="440.9" stroke="#000" stroke-width="4.5"/>
<line x1="674.1" y1="427.2" x2="674.1" y2="440.9" stroke="#000" stroke-width="4.5"/>
<line x1="786.7" y1="427.2" x2="786.7" y2="440.9" stroke="#000" stroke-width="4.5"/>
<line x1="280.0" y1="278.4" x2="280.0" y2="270.0" stroke="#000000" stroke-width="1.8"/>
<line x1="271.5" y1="270.0" x2="288.5" y2="270.0" stroke="#000000" stroke-width="1.8"/>
<line x1="392.6" y1="252.5" x2="392.6" y2="240.9" stroke="#000000" stroke-width="1.8"/>
<line x1="384.1" y1="240.9" x2="401.1" y2="240.9" stroke="#000000" stroke-width="1.8"/>
<line x1="477.0" y1="233.0" x2="477.0" y2="219.5" stroke="#000000" stroke-width="1.8"/>
<line x1="468.5" y1="219.5" x2="485.5" y2="219.5" stroke="#000000" stroke-width="1.8"/>
<line x1="589.6" y1="213.1" x2="589.6" y2="197.3" stroke="#000000" stroke-width="1.8"/>
<line x1="581.1" y1="197.3" x2="598.1" y2="197.3" stroke="#000000" stroke-width="1.8"/>
<line x1="674.1" y1="189.6" x2="674.1" y2="174.6" stroke="#000000" stroke-width="1.8"/>
<line x1="665.6" y1="174.6" x2="682.6" y2="174.6" stroke="#000000" stroke-width="1.8"/>
<line x1="786.7" y1="148.9" x2="786.7" y2="129.5" stroke="#000000" stroke-width="1.8"/>
<line x1="778.2" y1="129.5" x2="795.2" y2="129.5" stroke="#000000" stroke-width="1.8"/>
<polyline fill="none" stroke="#000000" stroke-width="2.6" stroke-linejoin="round" points="111.1,330.0 195.5,304.4 280.0,278.4 392.6,252.5 477.0,233.0 589.6,213.1 674.1,189.6 786.7,148.9"/>
<circle cx="111.1" cy="330.0" r="8.8" fill="#000000"/>
<circle cx="195.5" cy="304.4" r="8.8" fill="#000000"/>
<circle cx="280.0" cy="278.4" r="8.8" fill="#000000"/>
<circle cx="392.6" cy="252.5" r="8.8" fill="#000000"/>
<circle cx="477.0" cy="233.0" r="8.8" fill="#000000"/>
<circle cx="589.6" cy="213.1" r="8.8" fill="#000000"/>
<circle cx="674.1" cy="189.6" r="8.8" fill="#000000"/>
<circle cx="786.7" cy="148.9" r="8.8" fill="#000000"/>
<line x1="195.5" y1="354.8" x2="195.5" y2="346.5" stroke="#2db34a" stroke-width="1.8"/>
<line x1="187.0" y1="346.5" x2="204.0" y2="346.5" stroke="#2db34a" stroke-width="1.8"/>
<line x1="280.0" y1="380.0" x2="280.0" y2="369.6" stroke="#2db34a" stroke-width="1.8"/>
<line x1="271.5" y1="369.6" x2="288.5" y2="369.6" stroke="#2db34a" stroke-width="1.8"/>
<line x1="392.6" y1="405.0" x2="392.6" y2="391.8" stroke="#2db34a" stroke-width="1.8"/>
<line x1="384.1" y1="391.8" x2="401.1" y2="391.8" stroke="#2db34a" stroke-width="1.8"/>
<line x1="477.0" y1="408.4" x2="477.0" y2="398.2" stroke="#2db34a" stroke-width="1.8"/>
<line x1="468.5" y1="398.2" x2="485.5" y2="398.2" stroke="#2db34a" stroke-width="1.8"/>
<line x1="589.6" y1="412.0" x2="589.6" y2="402.4" stroke="#2db34a" stroke-width="1.8"/>
<line x1="581.1" y1="402.4" x2="598.1" y2="402.4" stroke="#2db34a" stroke-width="1.8"/>
<line x1="674.1" y1="414.8" x2="674.1" y2="405.7" stroke="#2db34a" stroke-width="1.8"/>
<line x1="665.6" y1="405.7" x2="682.6" y2="405.7" stroke="#2db34a" stroke-width="1.8"/>
<polyline fill="none" stroke="#2aa845" stroke-width="2.6" stroke-linejoin="round" points="111.1,330.0 195.5,354.8 280.0,380.0 392.6,405.0 477.0,408.4 589.6,412.0 674.1,414.8 786.7,421.7"/>
<polygon points="111.1,321.9 120.3,338.1 101.9,338.1" fill="#2db34a"/>
<polygon points="195.5,346.7 204.8,362.9 186.3,362.9" fill="#2db34a"/>
<polygon points="280.0,371.9 289.2,388.1 270.8,388.1" fill="#2db34a"/>
<polygon points="392.6,396.9 401.8,413.1 383.4,413.1" fill="#2db34a"/>
<polygon points="477.0,400.3 486.3,416.5 467.8,416.5" fill="#2db34a"/>
<polygon points="589.6,403.9 598.9,420.1 580.4,420.1" fill="#2db34a"/>
<polygon points="674.1,406.7 683.3,422.9 664.9,422.9" fill="#2db34a"/>
<polygon points="786.7,413.6 795.9,429.8 777.5,429.8" fill="#2db34a"/>
<line x1="392.6" y1="377.0" x2="392.6" y2="366.3" stroke="#8b3fa6" stroke-width="1.8"/>
<line x1="384.1" y1="366.3" x2="401.1" y2="366.3" stroke="#8b3fa6" stroke-width="1.8"/>
<polyline fill="none" stroke="#8a3da4" stroke-width="2.6" stroke-linejoin="round" points="111.1,330.0 195.5,340.3 280.0,354.8 392.6,377.0 477.0,387.7 589.6,389.9 674.1,394.6 786.7,399.6"/>
<polygon points="101.9,321.9 120.3,321.9 111.1,338.1" fill="#8b3fa6"/>
<polygon points="186.3,332.2 204.8,332.2 195.5,348.4" fill="#8b3fa6"/>
<polygon points="270.8,346.7 289.2,346.7 280.0,362.9" fill="#8b3fa6"/>
<polygon points="383.4,368.9 401.8,368.9 392.6,385.1" fill="#8b3fa6"/>
<polygon points="467.8,379.6 486.3,379.6 477.0,395.8" fill="#8b3fa6"/>
<polygon points="580.4,381.8 598.9,381.8 589.6,398.0" fill="#8b3fa6"/>
<polygon points="664.9,386.5 683.3,386.5 674.1,402.7" fill="#8b3fa6"/>
<polygon points="777.5,391.5 795.9,391.5 786.7,407.7" fill="#8b3fa6"/>
<line x1="280.0" y1="333.3" x2="280.0" y2="322.6" stroke="#f07f1d" stroke-width="1.8"/>
<line x1="271.5" y1="322.6" x2="288.5" y2="322.6" stroke="#f07f1d" stroke-width="1.8"/>
<line x1="589.6" y1="316.5" x2="589.6" y2="306.0" stroke="#f07f1d" stroke-width="1.8"/>
<line x1="581.1" y1="306.0" x2="598.1" y2="306.0" stroke="#f07f1d" stroke-width="1.8"/>
<line x1="674.1" y1="303.2" x2="674.1" y2="288.8" stroke="#f07f1d" stroke-width="1.8"/>
<line x1="665.6" y1="288.8" x2="682.6" y2="288.8" stroke="#f07f1d" stroke-width="1.8"/>
<line x1="786.7" y1="290.4" x2="786.7" y2="275.0" stroke="#f07f1d" stroke-width="1.8"/>
<line x1="778.2" y1="275.0" x2="795.2" y2="275.0" stroke="#f07f1d" stroke-width="1.8"/>
<polyline fill="none" stroke="#ef7f1a" stroke-width="2.6" stroke-linejoin="round" points="111.1,330.0 195.5,331.5 280.0,333.3 392.6,327.2 477.0,326.7 589.6,316.5 674.1,303.2 786.7,290.4"/>
<polygon points="111.1,322.5 118.6,330.0 111.1,337.5 103.6,330.0" fill="#f07f1d"/>
<polygon points="195.5,324.0 203.0,331.5 195.5,339.0 188.1,331.5" fill="#f07f1d"/>
<polygon points="280.0,325.8 287.5,333.3 280.0,340.8 272.5,333.3" fill="#f07f1d"/>
<polygon points="392.6,319.7 400.1,327.2 392.6,334.7 385.1,327.2" fill="#f07f1d"/>
<polygon points="477.0,319.2 484.5,326.7 477.0,334.2 469.6,326.7" fill="#f07f1d"/>
<polygon points="589.6,309.0 597.1,316.5 589.6,324.0 582.2,316.5" fill="#f07f1d"/>
<polygon points="674.1,295.7 681.6,303.2 674.1,310.7 666.6,303.2" fill="#f07f1d"/>
<polygon points="786.7,282.9 794.2,290.4 786.7,297.9 779.2,290.4" fill="#f07f1d"/>
<polyline fill="none" stroke="#de1e2a" stroke-width="2.6" stroke-linejoin="round" points="111.1,330.0 195.5,332.8 280.0,341.2 392.6,347.5 477.0,359.7 589.6,373.3 674.1,382.1 786.7,385.7"/>
<rect x="102.3" y="321.6" width="17.6" height="16.7" fill="#ec1c2a"/>
<rect x="186.7" y="324.4" width="17.6" height="16.7" fill="#ec1c2a"/>
<rect x="271.2" y="332.8" width="17.6" height="16.7" fill="#ec1c2a"/>
<rect x="383.8" y="339.1" width="17.6" height="16.7" fill="#ec1c2a"/>
<rect x="468.2" y="351.3" width="17.6" height="16.7" fill="#ec1c2a"/>
<rect x="580.9" y="364.9" width="17.6" height="16.7" fill="#ec1c2a"/>
<rect x="665.3" y="373.7" width="17.6" height="16.7" fill="#ec1c2a"/>
<rect x="777.9" y="377.3" width="17.6" height="16.7" fill="#ec1c2a"/>
<line x1="132.5" y1="100.0" x2="168.5" y2="100.0" stroke="#000000" stroke-width="3.0"/>
<circle cx="150.5" cy="100.0" r="8.6" fill="#000000"/>
<line x1="132.5" y1="126.4" x2="168.5" y2="126.4" stroke="#2aa845" stroke-width="3.0"/>
<polygon points="150.5,118.4 159.5,134.4 141.5,134.4" fill="#2db34a"/>
<line x1="132.5" y1="151.0" x2="168.5" y2="151.0" stroke="#8a3da4" stroke-width="3.0"/>
<polygon points="141.5,143.0 159.5,143.0 150.5,159.0" fill="#8b3fa6"/>
<line x1="132.5" y1="175.6" x2="168.5" y2="175.6" stroke="#ef7f1a" stroke-width="3.0"/>
<polygon points="150.5,168.3 157.8,175.6 150.5,182.9 143.2,175.6" fill="#f07f1d"/>
<line x1="132.5" y1="203.5" x2="168.5" y2="203.5" stroke="#d01a24" stroke-width="3.0"/>
<rect x="141.9" y="195.3" width="17.2" height="16.3" fill="#ec1c2a"/>
<line x1="1056.8" y1="76.9" x2="1056.8" y2="409.8" stroke="#000" stroke-width="4.6"/>
<line x1="1054.5" y1="407.5" x2="1750.2" y2="407.5" stroke="#000" stroke-width="4.6"/>
<line x1="1040.3" y1="79.2" x2="1056.8" y2="79.2" stroke="#000" stroke-width="4.6"/>
<line x1="1040.3" y1="144.9" x2="1056.8" y2="144.9" stroke="#000" stroke-width="4.6"/>
<line x1="1040.3" y1="210.5" x2="1056.8" y2="210.5" stroke="#000" stroke-width="4.6"/>
<line x1="1040.3" y1="276.2" x2="1056.8" y2="276.2" stroke="#000" stroke-width="4.6"/>
<line x1="1040.3" y1="341.8" x2="1056.8" y2="341.8" stroke="#000" stroke-width="4.6"/>
<line x1="1040.3" y1="407.5" x2="1056.8" y2="407.5" stroke="#000" stroke-width="4.6"/>
<line x1="1056.8" y1="407.5" x2="1056.8" y2="423.5" stroke="#000" stroke-width="4.6"/>
<line x1="1139.9" y1="407.5" x2="1139.9" y2="423.5" stroke="#000" stroke-width="4.6"/>
<line x1="1222.9" y1="407.5" x2="1222.9" y2="423.5" stroke="#000" stroke-width="4.6"/>
<line x1="1416.8" y1="407.5" x2="1416.8" y2="423.5" stroke="#000" stroke-width="4.6"/>
<line x1="1527.5" y1="407.5" x2="1527.5" y2="423.5" stroke="#000" stroke-width="4.6"/>
<line x1="1610.6" y1="407.5" x2="1610.6" y2="423.5" stroke="#000" stroke-width="4.6"/>
<line x1="1721.4" y1="407.5" x2="1721.4" y2="423.5" stroke="#000" stroke-width="4.6"/>
<line x1="1721.4" y1="169.5" x2="1721.4" y2="152.6" stroke="#000000" stroke-width="1.8"/>
<line x1="1714.4" y1="152.6" x2="1728.4" y2="152.6" stroke="#000000" stroke-width="1.8"/>
<polyline fill="none" stroke="#000000" stroke-width="2.6" stroke-linejoin="round" points="1056.8,392.9 1139.9,380.2 1222.9,366.8 1333.7,334.2 1416.8,304.3 1527.5,256.6 1610.6,221.0 1721.4,169.5"/>
<circle cx="1056.8" cy="392.9" r="7.6" fill="#000000"/>
<circle cx="1139.9" cy="380.2" r="7.6" fill="#000000"/>
<circle cx="1222.9" cy="366.8" r="7.6" fill="#000000"/>
<circle cx="1333.7" cy="334.2" r="7.6" fill="#000000"/>
<circle cx="1416.8" cy="304.3" r="7.6" fill="#000000"/>
<circle cx="1527.5" cy="256.6" r="7.6" fill="#000000"/>
<circle cx="1610.6" cy="221.0" r="7.6" fill="#000000"/>
<circle cx="1721.4" cy="169.5" r="7.6" fill="#000000"/>
<polyline fill="none" stroke="#2aa845" stroke-width="2.6" stroke-linejoin="round" points="1056.8,392.9 1139.9,388.5 1222.9,390.7 1333.7,396.0 1416.8,399.0 1527.5,401.0 1610.6,402.4 1721.4,405.2"/>
<polygon points="1056.8,385.9 1064.8,399.9 1048.8,399.9" fill="#2db34a"/>
<polygon points="1139.9,381.5 1147.8,395.5 1131.9,395.5" fill="#2db34a"/>
<polygon points="1222.9,383.7 1230.9,397.7 1215.0,397.7" fill="#2db34a"/>
<polygon points="1333.7,389.0 1341.7,403.0 1325.7,403.0" fill="#2db34a"/>
<polygon points="1416.8,392.0 1424.8,406.0 1408.8,406.0" fill="#2db34a"/>
<polygon points="1527.5,394.0 1535.5,408.0 1519.5,408.0" fill="#2db34a"/>
<polygon points="1610.6,395.4 1618.6,409.4 1602.6,409.4" fill="#2db34a"/>
<polygon points="1721.4,398.2 1729.3,412.2 1713.4,412.2" fill="#2db34a"/>
<polyline fill="none" stroke="#8a3da4" stroke-width="2.6" stroke-linejoin="round" points="1056.8,392.9 1139.9,386.0 1222.9,383.0 1333.7,380.7 1416.8,380.0 1527.5,380.3 1610.6,384.3 1721.4,387.5"/>
<polygon points="1048.8,385.9 1064.8,385.9 1056.8,399.9" fill="#8b3fa6"/>
<polygon points="1131.9,379.0 1147.8,379.0 1139.9,393.0" fill="#8b3fa6"/>
<polygon points="1215.0,376.0 1230.9,376.0 1222.9,390.0" fill="#8b3fa6"/>
<polygon points="1325.7,373.7 1341.7,373.7 1333.7,387.7" fill="#8b3fa6"/>
<polygon points="1408.8,373.0 1424.8,373.0 1416.8,387.0" fill="#8b3fa6"/>
<polygon points="1519.5,373.3 1535.5,373.3 1527.5,387.3" fill="#8b3fa6"/>
<polygon points="1602.6,377.3 1618.6,377.3 1610.6,391.3" fill="#8b3fa6"/>
<polygon points="1713.4,380.5 1729.3,380.5 1721.4,394.5" fill="#8b3fa6"/>
<polyline fill="none" stroke="#ef7f1a" stroke-width="2.6" stroke-linejoin="round" points="1056.8,392.9 1139.9,382.0 1222.9,373.0 1333.7,364.0 1416.8,357.5 1527.5,352.5 1610.6,347.4 1721.4,338.2"/>
<polygon points="1056.8,385.5 1064.2,392.9 1056.8,400.3 1049.4,392.9" fill="#f07f1d"/>
<polygon points="1139.9,374.6 1147.3,382.0 1139.9,389.4 1132.5,382.0" fill="#f07f1d"/>
<polygon points="1222.9,365.6 1230.4,373.0 1222.9,380.4 1215.5,373.0" fill="#f07f1d"/>
<polygon points="1333.7,356.6 1341.1,364.0 1333.7,371.4 1326.3,364.0" fill="#f07f1d"/>
<polygon points="1416.8,350.1 1424.2,357.5 1416.8,364.9 1409.4,357.5" fill="#f07f1d"/>
<polygon points="1527.5,345.1 1534.9,352.5 1527.5,359.9 1520.1,352.5" fill="#f07f1d"/>
<polygon points="1610.6,340.0 1618.0,347.4 1610.6,354.8 1603.2,347.4" fill="#f07f1d"/>
<polygon points="1721.4,330.8 1728.8,338.2 1721.4,345.6 1714.0,338.2" fill="#f07f1d"/>
<polyline fill="none" stroke="#e62230" stroke-width="2.6" stroke-linejoin="round" points="1056.8,392.9 1139.9,386.0 1222.9,378.5 1333.7,369.6 1416.8,365.6 1527.5,351.5 1610.6,344.0 1721.4,321.2"/>
<rect x="1049.2" y="385.7" width="15.2" height="14.4" fill="#ec1c2a"/>
<rect x="1132.3" y="378.8" width="15.2" height="14.4" fill="#ec1c2a"/>
<rect x="1215.3" y="371.3" width="15.2" height="14.4" fill="#ec1c2a"/>
<rect x="1326.1" y="362.4" width="15.2" height="14.4" fill="#ec1c2a"/>
<rect x="1409.2" y="358.4" width="15.2" height="14.4" fill="#ec1c2a"/>
<rect x="1519.9" y="344.3" width="15.2" height="14.4" fill="#ec1c2a"/>
<rect x="1603.0" y="336.8" width="15.2" height="14.4" fill="#ec1c2a"/>
<rect x="1713.8" y="314.0" width="15.2" height="14.4" fill="#ec1c2a"/>
<line x1="1090.0" y1="126.9" x2="1125.6" y2="126.9" stroke="#000000" stroke-width="2.8"/>
<circle cx="1107.8" cy="126.9" r="7.1" fill="#000000"/>
<line x1="1090.0" y1="157.8" x2="1125.6" y2="157.8" stroke="#2aa845" stroke-width="2.8"/>
<polygon points="1107.8,151.2 1115.3,164.4 1100.3,164.4" fill="#2db34a"/>
<line x1="1090.0" y1="187.6" x2="1125.6" y2="187.6" stroke="#8a3da4" stroke-width="2.8"/>
<polygon points="1100.3,181.0 1115.3,181.0 1107.8,194.2" fill="#8b3fa6"/>
<line x1="1090.0" y1="219.1" x2="1125.6" y2="219.1" stroke="#ef7f1a" stroke-width="2.8"/>
<polygon points="1107.8,212.2 1114.7,219.1 1107.8,226.0 1100.9,219.1" fill="#f07f1d"/>
<line x1="1090.0" y1="251.9" x2="1125.6" y2="251.9" stroke="#d01a24" stroke-width="2.8"/>
<rect x="1100.7" y="245.2" width="14.2" height="13.5" fill="#ec1c2a"/>
<line x1="1065.0" y1="638.9" x2="1065.0" y2="978.5" stroke="#000" stroke-width="4.6"/>
<line x1="1062.7" y1="976.2" x2="1773.2" y2="976.2" stroke="#000" stroke-width="4.6"/>
<line x1="1050.0" y1="641.2" x2="1065.0" y2="641.2" stroke="#000" stroke-width="4.6"/>
<line x1="1050.0" y1="752.9" x2="1065.0" y2="752.9" stroke="#000" stroke-width="4.6"/>
<line x1="1050.0" y1="864.5" x2="1065.0" y2="864.5" stroke="#000" stroke-width="4.6"/>
<line x1="1050.0" y1="976.2" x2="1065.0" y2="976.2" stroke="#000" stroke-width="4.6"/>
<line x1="1065.0" y1="976.2" x2="1065.0" y2="990.6" stroke="#000" stroke-width="4.6"/>
<line x1="1149.9" y1="976.2" x2="1149.9" y2="990.6" stroke="#000" stroke-width="4.6"/>
<line x1="1263.1" y1="976.2" x2="1263.1" y2="990.6" stroke="#000" stroke-width="4.6"/>
<line x1="1348.0" y1="976.2" x2="1348.0" y2="990.6" stroke="#000" stroke-width="4.6"/>
<line x1="1461.2" y1="976.2" x2="1461.2" y2="990.6" stroke="#000" stroke-width="4.6"/>
<line x1="1546.1" y1="976.2" x2="1546.1" y2="990.6" stroke="#000" stroke-width="4.6"/>
<line x1="1659.3" y1="976.2" x2="1659.3" y2="990.6" stroke="#000" stroke-width="4.6"/>
<line x1="1744.2" y1="976.2" x2="1744.2" y2="990.6" stroke="#000" stroke-width="4.6"/>
<line x1="1263.1" y1="921.1" x2="1263.1" y2="910.7" stroke="#000000" stroke-width="1.8"/>
<line x1="1256.1" y1="910.7" x2="1270.1" y2="910.7" stroke="#000000" stroke-width="1.8"/>
<line x1="1348.0" y1="895.1" x2="1348.0" y2="879.5" stroke="#000000" stroke-width="1.8"/>
<line x1="1341.0" y1="879.5" x2="1355.0" y2="879.5" stroke="#000000" stroke-width="1.8"/>
<line x1="1461.2" y1="842.8" x2="1461.2" y2="821.0" stroke="#000000" stroke-width="1.8"/>
<line x1="1454.2" y1="821.0" x2="1468.2" y2="821.0" stroke="#000000" stroke-width="1.8"/>
<line x1="1546.1" y1="794.4" x2="1546.1" y2="764.7" stroke="#000000" stroke-width="1.8"/>
<line x1="1539.1" y1="764.7" x2="1553.1" y2="764.7" stroke="#000000" stroke-width="1.8"/>
<line x1="1659.3" y1="775.6" x2="1659.3" y2="745.0" stroke="#000000" stroke-width="1.8"/>
<line x1="1652.3" y1="745.0" x2="1666.3" y2="745.0" stroke="#000000" stroke-width="1.8"/>
<line x1="1744.2" y1="710.0" x2="1744.2" y2="663.1" stroke="#000000" stroke-width="1.8"/>
<line x1="1737.2" y1="663.1" x2="1751.2" y2="663.1" stroke="#000000" stroke-width="1.8"/>
<polyline fill="none" stroke="#000000" stroke-width="2.4" stroke-linejoin="round" points="1065.0,964.0 1149.9,949.8 1263.1,921.1 1348.0,895.1 1461.2,842.8 1546.1,794.4 1659.3,775.6 1744.2,710.0"/>
<circle cx="1065.0" cy="964.0" r="7.8" fill="#000000"/>
<circle cx="1149.9" cy="949.8" r="7.8" fill="#000000"/>
<circle cx="1263.1" cy="921.1" r="7.8" fill="#000000"/>
<circle cx="1348.0" cy="895.1" r="7.8" fill="#000000"/>
<circle cx="1461.2" cy="842.8" r="7.8" fill="#000000"/>
<circle cx="1546.1" cy="794.4" r="7.8" fill="#000000"/>
<circle cx="1659.3" cy="775.6" r="7.8" fill="#000000"/>
<circle cx="1744.2" cy="710.0" r="7.8" fill="#000000"/>
<polyline fill="none" stroke="#2aa845" stroke-width="3.1" stroke-linejoin="round" points="1065.0,964.0 1149.9,952.0 1263.1,947.0 1348.0,958.1 1461.2,964.8 1546.1,969.5 1659.3,974.0 1744.2,977.5"/>
<polygon points="1065.0,956.8 1073.2,971.2 1056.8,971.2" fill="#2db34a"/>
<polygon points="1149.9,944.8 1158.1,959.2 1141.7,959.2" fill="#2db34a"/>
<polygon points="1263.1,939.8 1271.3,954.2 1254.9,954.2" fill="#2db34a"/>
<polygon points="1348.0,950.9 1356.2,965.3 1339.8,965.3" fill="#2db34a"/>
<polygon points="1461.2,957.6 1469.4,972.0 1453.0,972.0" fill="#2db34a"/>
<polygon points="1546.1,962.3 1554.3,976.7 1537.9,976.7" fill="#2db34a"/>
<polygon points="1659.3,966.8 1667.5,981.2 1651.1,981.2" fill="#2db34a"/>
<polygon points="1744.2,970.3 1752.4,984.7 1736.0,984.7" fill="#2db34a"/>
<line x1="1744.2" y1="944.0" x2="1744.2" y2="931.4" stroke="#8b3fa6" stroke-width="1.8"/>
<line x1="1737.2" y1="931.4" x2="1751.2" y2="931.4" stroke="#8b3fa6" stroke-width="1.8"/>
<polyline fill="none" stroke="#8a3da4" stroke-width="2.6" stroke-linejoin="round" points="1065.0,964.0 1149.9,953.0 1263.1,940.7 1348.0,939.4 1461.2,943.6 1546.1,947.6 1659.3,948.5 1744.2,944.0"/>
<polygon points="1056.8,956.8 1073.2,956.8 1065.0,971.2" fill="#8b3fa6"/>
<polygon points="1141.7,945.8 1158.1,945.8 1149.9,960.2" fill="#8b3fa6"/>
<polygon points="1254.9,933.5 1271.3,933.5 1263.1,947.9" fill="#8b3fa6"/>
<polygon points="1339.8,932.2 1356.2,932.2 1348.0,946.6" fill="#8b3fa6"/>
<polygon points="1453.0,936.4 1469.4,936.4 1461.2,950.8" fill="#8b3fa6"/>
<polygon points="1537.9,940.4 1554.3,940.4 1546.1,954.8" fill="#8b3fa6"/>
<polygon points="1651.1,941.3 1667.5,941.3 1659.3,955.7" fill="#8b3fa6"/>
<polygon points="1736.0,936.8 1752.4,936.8 1744.2,951.2" fill="#8b3fa6"/>
<line x1="1348.0" y1="918.5" x2="1348.0" y2="907.3" stroke="#f07f1d" stroke-width="1.8"/>
<line x1="1341.0" y1="907.3" x2="1355.0" y2="907.3" stroke="#f07f1d" stroke-width="1.8"/>
<line x1="1348.0" y1="918.5" x2="1348.0" y2="929.0" stroke="#f07f1d" stroke-width="1.8"/>
<line x1="1341.0" y1="929.0" x2="1355.0" y2="929.0" stroke="#f07f1d" stroke-width="1.8"/>
<line x1="1461.2" y1="900.0" x2="1461.2" y2="885.2" stroke="#f07f1d" stroke-width="1.8"/>
<line x1="1454.2" y1="885.2" x2="1468.2" y2="885.2" stroke="#f07f1d" stroke-width="1.8"/>
<line x1="1461.2" y1="900.0" x2="1461.2" y2="914.9" stroke="#f07f1d" stroke-width="1.8"/>
<line x1="1454.2" y1="914.9" x2="1468.2" y2="914.9" stroke="#f07f1d" stroke-width="1.8"/>
<line x1="1546.1" y1="877.2" x2="1546.1" y2="857.7" stroke="#f07f1d" stroke-width="1.8"/>
<line x1="1539.1" y1="857.7" x2="1553.1" y2="857.7" stroke="#f07f1d" stroke-width="1.8"/>
<line x1="1546.1" y1="877.2" x2="1546.1" y2="896.5" stroke="#f07f1d" stroke-width="1.8"/>
<line x1="1539.1" y1="896.5" x2="1553.1" y2="896.5" stroke="#f07f1d" stroke-width="1.8"/>
<line x1="1659.3" y1="849.4" x2="1659.3" y2="821.0" stroke="#f07f1d" stroke-width="1.8"/>
<line x1="1652.3" y1="821.0" x2="1666.3" y2="821.0" stroke="#f07f1d" stroke-width="1.8"/>
<line x1="1659.3" y1="849.4" x2="1659.3" y2="877.2" stroke="#f07f1d" stroke-width="1.8"/>
<line x1="1652.3" y1="877.2" x2="1666.3" y2="877.2" stroke="#f07f1d" stroke-width="1.8"/>
<line x1="1744.2" y1="821.9" x2="1744.2" y2="789.7" stroke="#f07f1d" stroke-width="1.8"/>
<line x1="1737.2" y1="789.7" x2="1751.2" y2="789.7" stroke="#f07f1d" stroke-width="1.8"/>
<line x1="1744.2" y1="821.9" x2="1744.2" y2="853.8" stroke="#f07f1d" stroke-width="1.8"/>
<line x1="1737.2" y1="853.8" x2="1751.2" y2="853.8" stroke="#f07f1d" stroke-width="1.8"/>
<polyline fill="none" stroke="#ef7f1a" stroke-width="2.5" stroke-linejoin="round" points="1065.0,964.0 1149.9,955.0 1263.1,933.6 1348.0,918.5 1461.2,900.0 1546.1,877.2 1659.3,849.4 1744.2,821.9"/>
<polygon points="1065.0,956.4 1072.6,964.0 1065.0,971.6 1057.4,964.0" fill="#f07f1d"/>
<polygon points="1149.9,947.4 1157.5,955.0 1149.9,962.6 1142.3,955.0" fill="#f07f1d"/>
<polygon points="1263.1,926.0 1270.7,933.6 1263.1,941.2 1255.5,933.6" fill="#f07f1d"/>
<polygon points="1348.0,910.9 1355.6,918.5 1348.0,926.1 1340.4,918.5" fill="#f07f1d"/>
<polygon points="1461.2,892.4 1468.8,900.0 1461.2,907.6 1453.6,900.0" fill="#f07f1d"/>
<polygon points="1546.1,869.6 1553.7,877.2 1546.1,884.8 1538.5,877.2" fill="#f07f1d"/>
<polygon points="1659.3,841.8 1666.9,849.4 1659.3,857.0 1651.7,849.4" fill="#f07f1d"/>
<polygon points="1744.2,814.3 1751.8,821.9 1744.2,829.5 1736.6,821.9" fill="#f07f1d"/>
<polyline fill="none" stroke="#c0141e" stroke-width="2.6" stroke-linejoin="round" points="1065.0,964.0 1149.9,957.6 1263.1,951.0 1348.0,949.3 1461.2,953.0 1546.1,955.4 1659.3,961.3 1744.2,964.3"/>
<rect x="1057.2" y="956.6" width="15.6" height="14.8" fill="#ec1c2a"/>
<rect x="1142.1" y="950.2" width="15.6" height="14.8" fill="#ec1c2a"/>
<rect x="1255.3" y="943.6" width="15.6" height="14.8" fill="#ec1c2a"/>
<rect x="1340.2" y="941.9" width="15.6" height="14.8" fill="#ec1c2a"/>
<rect x="1453.4" y="945.6" width="15.6" height="14.8" fill="#ec1c2a"/>
<rect x="1538.3" y="948.0" width="15.6" height="14.8" fill="#ec1c2a"/>
<rect x="1651.5" y="953.9" width="15.6" height="14.8" fill="#ec1c2a"/>
<rect x="1736.4" y="956.9" width="15.6" height="14.8" fill="#ec1c2a"/>
<line x1="1092.0" y1="686.2" x2="1128.0" y2="686.2" stroke="#000000" stroke-width="2.8"/>
<circle cx="1110.0" cy="686.2" r="7.1" fill="#000000"/>
<line x1="1092.0" y1="714.4" x2="1128.0" y2="714.4" stroke="#2aa845" stroke-width="2.8"/>
<polygon points="1110.0,707.8 1117.5,721.0 1102.5,721.0" fill="#2db34a"/>
<line x1="1092.0" y1="744.8" x2="1128.0" y2="744.8" stroke="#8a3da4" stroke-width="2.8"/>
<polygon points="1102.5,738.2 1117.5,738.2 1110.0,751.4" fill="#8b3fa6"/>
<line x1="1092.0" y1="775.8" x2="1128.0" y2="775.8" stroke="#ef7f1a" stroke-width="2.8"/>
<polygon points="1110.0,768.9 1116.9,775.8 1110.0,782.7 1103.1,775.8" fill="#f07f1d"/>
<line x1="1092.0" y1="808.7" x2="1128.0" y2="808.7" stroke="#d01a24" stroke-width="2.8"/>
<rect x="1102.9" y="802.0" width="14.2" height="13.5" fill="#ec1c2a"/>
<text x="18.40" y="42.80" font-family="'Liberation Sans', Arial, Helvetica, sans-serif" font-size="29" font-weight="700" fill="#000" textLength="20.15" lengthAdjust="spacingAndGlyphs">A</text>
<text x="951.27" y="42.50" font-family="'Liberation Sans', Arial, Helvetica, sans-serif" font-size="29" font-weight="700" fill="#000" textLength="19.51" lengthAdjust="spacingAndGlyphs">B</text>
<text x="19.05" y="614.30" font-family="'Liberation Sans', Arial, Helvetica, sans-serif" font-size="29" font-weight="700" fill="#000" textLength="19.79" lengthAdjust="spacingAndGlyphs">C</text>
<text x="961.13" y="614.20" font-family="'Liberation Sans', Arial, Helvetica, sans-serif" font-size="29" font-weight="700" fill="#000" textLength="20.39" lengthAdjust="spacingAndGlyphs">D</text>
<text x="332.67" y="78.00" font-family="'Liberation Sans', Arial, Helvetica, sans-serif" font-size="28" font-weight="700" fill="#000" textLength="386.03" lengthAdjust="spacingAndGlyphs">NCI-N87 CDX model (n=8)</text>
<text x="1322.86" y="37.30" font-family="'Liberation Sans', Arial, Helvetica, sans-serif" font-size="32.5" font-weight="700" fill="#000" textLength="400.44" lengthAdjust="spacingAndGlyphs">HCC1806 CDX model (n=8)</text>
<text x="1296.49" y="601.70" font-family="'Liberation Sans', Arial, Helvetica, sans-serif" font-size="32" font-weight="700" fill="#000" textLength="382.56" lengthAdjust="spacingAndGlyphs">BR1282 PDX model (n=8)</text>
<text x="249.83" y="505.90" font-family="'Liberation Sans', Arial, Helvetica, sans-serif" font-size="27.5" font-weight="700" fill="#000" textLength="426.53" lengthAdjust="spacingAndGlyphs">Days after the Treatment (d)</text>
<text x="1192.28" y="497.00" font-family="'Liberation Sans', Arial, Helvetica, sans-serif" font-size="31.5" font-weight="700" fill="#000" textLength="420.42" lengthAdjust="spacingAndGlyphs">Days after the Treatment (d)</text>
<text x="1204.14" y="1067.00" font-family="'Liberation Sans', Arial, Helvetica, sans-serif" font-size="31.5" font-weight="700" fill="#000" textLength="428.79" lengthAdjust="spacingAndGlyphs">Days after the Treatment (d)</text>
<text x="189.80" y="106.00" font-family="'Liberation Sans', Arial, Helvetica, sans-serif" font-size="22.5" font-weight="400" fill="#000" stroke="#000" stroke-width="0.55" textLength="82.69" lengthAdjust="spacingAndGlyphs">Vehicle</text>
<text x="188.68" y="131.70" font-family="'Liberation Sans', Arial, Helvetica, sans-serif" font-size="22.5" font-weight="400" fill="#000" stroke="#000" stroke-width="0.55" textLength="188.79" lengthAdjust="spacingAndGlyphs">SKB264 3 mg/kg</text>
<text x="188.68" y="156.40" font-family="'Liberation Sans', Arial, Helvetica, sans-serif" font-size="22.5" font-weight="400" fill="#000" stroke="#000" stroke-width="0.55" textLength="188.79" lengthAdjust="spacingAndGlyphs">SKB264 1 mg/kg</text>
<text x="188.68" y="181.40" font-family="'Liberation Sans', Arial, Helvetica, sans-serif" font-size="22.5" font-weight="400" fill="#000" stroke="#000" stroke-width="0.55" textLength="209.39" lengthAdjust="spacingAndGlyphs">SKB264 0.3 mg/kg</text>
<text x="187.48" y="208.00" font-family="'Liberation Sans', Arial, Helvetica, sans-serif" font-size="22.5" font-weight="400" fill="#000" stroke="#000" stroke-width="0.55" textLength="221.61" lengthAdjust="spacingAndGlyphs">Irinotecan 30mg/kg</text>
<text x="1145.00" y="133.30" font-family="'Liberation Sans', Arial, Helvetica, sans-serif" font-size="25.5" font-weight="700" fill="#000" textLength="83.07" lengthAdjust="spacingAndGlyphs">Vehicle</text>
<text x="1147.50" y="164.90" font-family="'Liberation Sans', Arial, Helvetica, sans-serif" font-size="25.5" font-weight="700" fill="#000" textLength="198.66" lengthAdjust="spacingAndGlyphs">SKB264 10 mg/kg</text>
<text x="1147.50" y="194.60" font-family="'Liberation Sans', Arial, Helvetica, sans-serif" font-size="25.5" font-weight="700" fill="#000" textLength="185.26" lengthAdjust="spacingAndGlyphs">SKB264 3 mg/kg</text>
<text x="1147.50" y="226.00" font-family="'Liberation Sans', Arial, Helvetica, sans-serif" font-size="25.5" font-weight="700" fill="#000" textLength="185.26" lengthAdjust="spacingAndGlyphs">SKB264 1 mg/kg</text>
<text x="1146.06" y="258.80" font-family="'Liberation Sans', Arial, Helvetica, sans-serif" font-size="25.5" font-weight="700" fill="#000" textLength="218.93" lengthAdjust="spacingAndGlyphs">Irinotecan 30mg/kg</text>
<text x="1148.00" y="693.30" font-family="'Liberation Sans', Arial, Helvetica, sans-serif" font-size="25.5" font-weight="700" fill="#000" textLength="84.17" lengthAdjust="spacingAndGlyphs">Vehicle</text>
<text x="1150.30" y="721.80" font-family="'Liberation Sans', Arial, Helvetica, sans-serif" font-size="25.5" font-weight="700" fill="#000" textLength="188.79" lengthAdjust="spacingAndGlyphs">SKB264 5 mg/kg</text>
<text x="1150.30" y="751.90" font-family="'Liberation Sans', Arial, Helvetica, sans-serif" font-size="25.5" font-weight="700" fill="#000" textLength="209.59" lengthAdjust="spacingAndGlyphs">SKB264 1.5 mg/kg</text>
<text x="1150.30" y="783.10" font-family="'Liberation Sans', Arial, Helvetica, sans-serif" font-size="25.5" font-weight="700" fill="#000" textLength="209.59" lengthAdjust="spacingAndGlyphs">SKB264 0.5 mg/kg</text>
<text x="1148.54" y="815.70" font-family="'Liberation Sans', Arial, Helvetica, sans-serif" font-size="25.5" font-weight="700" fill="#000" textLength="222.97" lengthAdjust="spacingAndGlyphs">Irinotecan 30mg/kg</text>
<text x="49.52" y="76.50" font-family="'Liberation Sans', Arial, Helvetica, sans-serif" font-size="24" font-weight="700" fill="#000" textLength="42.05" lengthAdjust="spacingAndGlyphs">600</text>
<text x="49.52" y="195.87" font-family="'Liberation Sans', Arial, Helvetica, sans-serif" font-size="24" font-weight="700" fill="#000" textLength="42.05" lengthAdjust="spacingAndGlyphs">400</text>
<text x="49.52" y="315.23" font-family="'Liberation Sans', Arial, Helvetica, sans-serif" font-size="24" font-weight="700" fill="#000" textLength="42.05" lengthAdjust="spacingAndGlyphs">200</text>
<text x="77.55" y="434.60" font-family="'Liberation Sans', Arial, Helvetica, sans-serif" font-size="24" font-weight="700" fill="#000" textLength="14.02" lengthAdjust="spacingAndGlyphs">0</text>
<text x="104.27" y="460.00" font-family="'Liberation Sans', Arial, Helvetica, sans-serif" font-size="24" font-weight="700" fill="#000" textLength="14.02" lengthAdjust="spacingAndGlyphs">0</text>
<text x="188.72" y="460.00" font-family="'Liberation Sans', Arial, Helvetica, sans-serif" font-size="24" font-weight="700" fill="#000" textLength="14.02" lengthAdjust="spacingAndGlyphs">3</text>
<text x="273.18" y="460.00" font-family="'Liberation Sans', Arial, Helvetica, sans-serif" font-size="24" font-weight="700" fill="#000" textLength="14.02" lengthAdjust="spacingAndGlyphs">6</text>
<text x="378.24" y="460.00" font-family="'Liberation Sans', Arial, Helvetica, sans-serif" font-size="24" font-weight="700" fill="#000" textLength="28.03" lengthAdjust="spacingAndGlyphs">10</text>
<text x="462.69" y="460.00" font-family="'Liberation Sans', Arial, Helvetica, sans-serif" font-size="24" font-weight="700" fill="#000" textLength="28.03" lengthAdjust="spacingAndGlyphs">13</text>
<text x="575.29" y="460.00" font-family="'Liberation Sans', Arial, Helvetica, sans-serif" font-size="24" font-weight="700" fill="#000" textLength="28.03" lengthAdjust="spacingAndGlyphs">17</text>
<text x="660.27" y="460.00" font-family="'Liberation Sans', Arial, Helvetica, sans-serif" font-size="24" font-weight="700" fill="#000" textLength="28.03" lengthAdjust="spacingAndGlyphs">20</text>
<text x="772.34" y="460.00" font-family="'Liberation Sans', Arial, Helvetica, sans-serif" font-size="24" font-weight="700" fill="#000" textLength="28.03" lengthAdjust="spacingAndGlyphs">24</text>
<text x="979.95" y="86.50" font-family="'Liberation Sans', Arial, Helvetica, sans-serif" font-size="25.5" font-weight="700" fill="#000" textLength="56.73" lengthAdjust="spacingAndGlyphs">2500</text>
<text x="979.95" y="152.16" font-family="'Liberation Sans', Arial, Helvetica, sans-serif" font-size="25.5" font-weight="700" fill="#000" textLength="56.73" lengthAdjust="spacingAndGlyphs">2000</text>
<text x="979.95" y="217.82" font-family="'Liberation Sans', Arial, Helvetica, sans-serif" font-size="25.5" font-weight="700" fill="#000" textLength="56.73" lengthAdjust="spacingAndGlyphs">1500</text>
<text x="979.95" y="283.48" font-family="'Liberation Sans', Arial, Helvetica, sans-serif" font-size="25.5" font-weight="700" fill="#000" textLength="56.73" lengthAdjust="spacingAndGlyphs">1000</text>
<text x="994.14" y="349.14" font-family="'Liberation Sans', Arial, Helvetica, sans-serif" font-size="25.5" font-weight="700" fill="#000" textLength="42.55" lengthAdjust="spacingAndGlyphs">500</text>
<text x="1022.50" y="414.80" font-family="'Liberation Sans', Arial, Helvetica, sans-serif" font-size="25.5" font-weight="700" fill="#000" textLength="14.18" lengthAdjust="spacingAndGlyphs">0</text>
<text x="1049.30" y="445.50" font-family="'Liberation Sans', Arial, Helvetica, sans-serif" font-size="25.5" font-weight="700" fill="#000" textLength="14.18" lengthAdjust="spacingAndGlyphs">0</text>
<text x="1132.87" y="445.50" font-family="'Liberation Sans', Arial, Helvetica, sans-serif" font-size="25.5" font-weight="700" fill="#000" textLength="14.18" lengthAdjust="spacingAndGlyphs">3</text>
<text x="1215.94" y="445.50" font-family="'Liberation Sans', Arial, Helvetica, sans-serif" font-size="25.5" font-weight="700" fill="#000" textLength="14.18" lengthAdjust="spacingAndGlyphs">6</text>
<text x="1402.18" y="445.50" font-family="'Liberation Sans', Arial, Helvetica, sans-serif" font-size="25.5" font-weight="700" fill="#000" textLength="28.36" lengthAdjust="spacingAndGlyphs">13</text>
<text x="1512.94" y="445.50" font-family="'Liberation Sans', Arial, Helvetica, sans-serif" font-size="25.5" font-weight="700" fill="#000" textLength="28.36" lengthAdjust="spacingAndGlyphs">17</text>
<text x="1596.51" y="445.50" font-family="'Liberation Sans', Arial, Helvetica, sans-serif" font-size="25.5" font-weight="700" fill="#000" textLength="28.36" lengthAdjust="spacingAndGlyphs">20</text>
<text x="1706.77" y="445.50" font-family="'Liberation Sans', Arial, Helvetica, sans-serif" font-size="25.5" font-weight="700" fill="#000" textLength="28.36" lengthAdjust="spacingAndGlyphs">24</text>
<text x="988.65" y="648.40" font-family="'Liberation Sans', Arial, Helvetica, sans-serif" font-size="25.5" font-weight="700" fill="#000" textLength="56.73" lengthAdjust="spacingAndGlyphs">3000</text>
<text x="988.65" y="760.07" font-family="'Liberation Sans', Arial, Helvetica, sans-serif" font-size="25.5" font-weight="700" fill="#000" textLength="56.73" lengthAdjust="spacingAndGlyphs">2000</text>
<text x="988.65" y="871.73" font-family="'Liberation Sans', Arial, Helvetica, sans-serif" font-size="25.5" font-weight="700" fill="#000" textLength="56.73" lengthAdjust="spacingAndGlyphs">1000</text>
<text x="1031.20" y="983.40" font-family="'Liberation Sans', Arial, Helvetica, sans-serif" font-size="25.5" font-weight="700" fill="#000" textLength="14.18" lengthAdjust="spacingAndGlyphs">0</text>
<text x="1057.50" y="1013.80" font-family="'Liberation Sans', Arial, Helvetica, sans-serif" font-size="25.5" font-weight="700" fill="#000" textLength="14.18" lengthAdjust="spacingAndGlyphs">0</text>
<text x="1142.90" y="1013.80" font-family="'Liberation Sans', Arial, Helvetica, sans-serif" font-size="25.5" font-weight="700" fill="#000" textLength="14.18" lengthAdjust="spacingAndGlyphs">3</text>
<text x="1255.60" y="1013.80" font-family="'Liberation Sans', Arial, Helvetica, sans-serif" font-size="25.5" font-weight="700" fill="#000" textLength="14.18" lengthAdjust="spacingAndGlyphs">7</text>
<text x="1333.41" y="1013.80" font-family="'Liberation Sans', Arial, Helvetica, sans-serif" font-size="25.5" font-weight="700" fill="#000" textLength="28.36" lengthAdjust="spacingAndGlyphs">10</text>
<text x="1446.11" y="1013.80" font-family="'Liberation Sans', Arial, Helvetica, sans-serif" font-size="25.5" font-weight="700" fill="#000" textLength="28.36" lengthAdjust="spacingAndGlyphs">14</text>
<text x="1531.51" y="1013.80" font-family="'Liberation Sans', Arial, Helvetica, sans-serif" font-size="25.5" font-weight="700" fill="#000" textLength="28.36" lengthAdjust="spacingAndGlyphs">17</text>
<text x="1645.21" y="1013.80" font-family="'Liberation Sans', Arial, Helvetica, sans-serif" font-size="25.5" font-weight="700" fill="#000" textLength="28.36" lengthAdjust="spacingAndGlyphs">21</text>
<text x="1729.61" y="1013.80" font-family="'Liberation Sans', Arial, Helvetica, sans-serif" font-size="25.5" font-weight="700" fill="#000" textLength="28.36" lengthAdjust="spacingAndGlyphs">24</text>
<text transform="translate(34.50,405.30) rotate(-90)" x="0.00" y="0" font-family="'Liberation Sans', Arial, Helvetica, sans-serif" font-size="28" font-weight="700" fill="#000" textLength="295.86" lengthAdjust="spacingAndGlyphs">Tumor Volume ± SEM (mm</text>
<text transform="translate(22.00,107.00) rotate(-90)" x="0.00" y="0" font-family="'Liberation Sans', Arial, Helvetica, sans-serif" font-size="21" font-weight="700" fill="#000" textLength="8.49" lengthAdjust="spacingAndGlyphs">3</text>
<text transform="translate(34.50,95.60) rotate(-90)" x="0.00" y="0" font-family="'Liberation Sans', Arial, Helvetica, sans-serif" font-size="27" font-weight="400" fill="#000" stroke="#000" stroke-width="0.6" textLength="5.96" lengthAdjust="spacingAndGlyphs">)</text>
<text transform="translate(967.00,421.30) rotate(-90)" x="0.00" y="0" font-family="'Liberation Sans', Arial, Helvetica, sans-serif" font-size="29.5" font-weight="700" fill="#000" textLength="335.52" lengthAdjust="spacingAndGlyphs">Tumor Volume ± SEM (mm</text>
<text transform="translate(954.50,83.70) rotate(-90)" x="0.00" y="0" font-family="'Liberation Sans', Arial, Helvetica, sans-serif" font-size="21" font-weight="700" fill="#000" textLength="10.62" lengthAdjust="spacingAndGlyphs">3</text>
<text transform="translate(967.20,71.80) rotate(-90)" x="0.00" y="0" font-family="'Liberation Sans', Arial, Helvetica, sans-serif" font-size="28" font-weight="400" fill="#000" stroke="#000" stroke-width="0.6" textLength="6.88" lengthAdjust="spacingAndGlyphs">)</text>
<text transform="translate(974.80,989.40) rotate(-90)" x="0.00" y="0" font-family="'Liberation Sans', Arial, Helvetica, sans-serif" font-size="29.5" font-weight="700" fill="#000" textLength="341.74" lengthAdjust="spacingAndGlyphs">Tumor Volume ± SEM (mm</text>
<text transform="translate(962.50,645.60) rotate(-90)" x="0.00" y="0" font-family="'Liberation Sans', Arial, Helvetica, sans-serif" font-size="21" font-weight="700" fill="#000" textLength="10.30" lengthAdjust="spacingAndGlyphs">3</text>
<text transform="translate(975.00,633.60) rotate(-90)" x="0.00" y="0" font-family="'Liberation Sans', Arial, Helvetica, sans-serif" font-size="28" font-weight="400" fill="#000" stroke="#000" stroke-width="0.6" textLength="7.23" lengthAdjust="spacingAndGlyphs">)</text>
<text x="239.05" y="610.80" font-family="'Liberation Sans', Arial, Helvetica, sans-serif" font-size="39.5" font-weight="700" fill="#000" textLength="201.09" lengthAdjust="spacingAndGlyphs">BR1282-P8</text>
<text x="447.72" y="606.00" font-family="'Liberation Sans', Arial, Helvetica, sans-serif" font-size="33.5" font-weight="400" fill="#000" stroke="#000" stroke-width="0.7" textLength="111.97" lengthAdjust="spacingAndGlyphs">( 200 X)</text>
<text x="222.40" y="1064.00" font-family="'Liberation Sans', Arial, Helvetica, sans-serif" font-size="32.5" font-weight="400" fill="#000" stroke="#000" stroke-width="0.8" textLength="201.37" lengthAdjust="spacingAndGlyphs">Trop2 IHC: 3+</text>
<text x="815.48 827.48 839.88" y="320.70" font-family="DejaVu Sans, sans-serif" font-size="12.5">&#9733;&#9733;&#9733;</text>
<text x="807.48 819.17 831.58" y="402.80" font-family="DejaVu Sans, sans-serif" font-size="12.5">&#9733;&#9733;&#9733;</text>
<text x="810.27 821.98 833.98" y="426.20" font-family="DejaVu Sans, sans-serif" font-size="12.5">&#9733;&#9733;&#9733;</text>
<text x="1733.28 1745.47 1757.58" y="341.00" font-family="DejaVu Sans, sans-serif" font-size="12.5">&#9733;&#9733;&#9733;</text>
<text x="1737.88 1749.88 1761.78" y="387.50" font-family="DejaVu Sans, sans-serif" font-size="12.5">&#9733;&#9733;&#9733;</text>
<text x="1746.97 1758.58 1771.17" y="407.00" font-family="DejaVu Sans, sans-serif" font-size="12.5">&#9733;&#9733;&#9733;</text>
<text x="1751.38 1763.38 1775.78" y="945.40" font-family="DejaVu Sans, sans-serif" font-size="12.5">&#9733;&#9733;&#9733;</text>
<text x="1758.78 1770.67 1782.67" y="973.50" font-family="DejaVu Sans, sans-serif" font-size="12.5">&#9733;&#9733;&#9733;</text>
</svg>
</body></html>
